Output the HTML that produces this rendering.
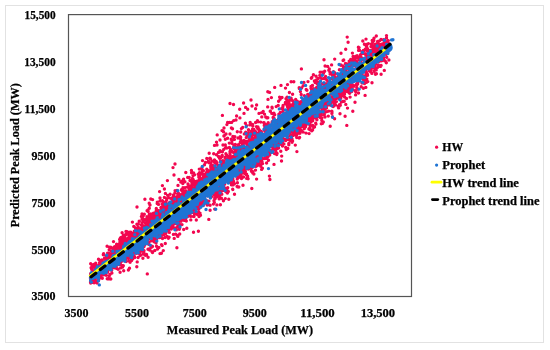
<!DOCTYPE html>
<html><head><meta charset="utf-8"><style>
html,body{margin:0;padding:0;background:#fff;}
svg{display:block;filter:blur(0.35px);}
</style></head><body>
<svg width="550" height="350" viewBox="0 0 550 350">
<rect x="5.5" y="5.5" width="538" height="337" fill="#fff" stroke="#e2e2e2" stroke-width="1"/><path d="M128.1 240.2h0M224.2 175.2h0M251.6 146.5h0M99.5 274.5h0M133.3 234.7h0M355.8 73.7h0M112.0 263.4h0M128.4 238.0h0M363.9 66.8h0M257.2 149.0h0M191.0 191.4h0M227.4 168.5h0M268.8 147.8h0M167.0 218.5h0M130.6 242.1h0M307.0 110.4h0M271.0 141.3h0M227.6 180.9h0M316.4 112.0h0M237.4 169.0h0M378.4 64.9h0M148.4 219.9h0M238.6 150.0h0M220.1 157.2h0M187.0 207.6h0M248.9 135.4h0M156.5 224.2h0M311.6 115.3h0M333.6 80.7h0M128.1 242.5h0M215.8 176.6h0M167.5 221.9h0M115.6 248.7h0M343.7 85.8h0M206.4 191.6h0M133.2 243.4h0M271.9 137.9h0M147.8 240.0h0M345.7 83.2h0M151.7 228.0h0M100.9 267.5h0M147.4 236.0h0M185.1 199.9h0M216.3 183.8h0M347.4 80.7h0M278.9 141.8h0M183.5 197.3h0M95.8 273.2h0M136.5 242.2h0M386.9 49.5h0M214.0 189.5h0M277.1 136.4h0M107.4 267.5h0M101.2 275.9h0M326.2 104.4h0M247.8 146.0h0M175.6 198.6h0M177.8 213.2h0M117.3 253.4h0M139.9 239.2h0M98.3 270.3h0M323.9 110.3h0M215.7 188.8h0M127.7 240.0h0M291.6 125.5h0M146.1 230.5h0M109.5 255.5h0M250.7 158.1h0M343.6 82.0h0M99.0 272.0h0M312.6 129.9h0M144.6 242.7h0M118.3 260.3h0M96.2 271.1h0M171.6 203.7h0M287.9 136.8h0M222.6 171.1h0M328.6 95.5h0M151.8 225.4h0M177.3 209.1h0M162.5 238.5h0M377.1 52.7h0M360.9 66.1h0M183.8 204.8h0M207.9 186.9h0M177.1 199.2h0M293.9 107.7h0M103.0 264.6h0M111.1 259.5h0M199.8 184.4h0M159.1 215.0h0M326.0 90.0h0M292.4 119.3h0M236.5 162.0h0M268.4 125.6h0M277.4 128.1h0M304.8 116.6h0M355.5 71.7h0M133.8 233.2h0M258.4 143.4h0M132.1 243.1h0M209.7 189.3h0M306.5 99.9h0M343.2 88.9h0M297.9 115.0h0M101.6 268.9h0M188.6 204.7h0M137.4 233.4h0M388.3 40.6h0M132.2 242.4h0M158.9 227.8h0M188.0 195.4h0M109.2 255.2h0M334.6 84.9h0M261.3 147.4h0M136.5 247.0h0M223.9 168.2h0M114.3 256.1h0M254.2 147.9h0M155.6 223.9h0M102.6 263.3h0M124.4 246.7h0M239.0 162.7h0M261.5 144.7h0M179.7 206.2h0M263.3 134.4h0M186.7 196.3h0M128.6 241.5h0M177.3 216.3h0M197.6 203.6h0M349.9 80.1h0M124.5 258.1h0M116.5 254.4h0M240.7 157.3h0M370.2 50.4h0M347.8 81.0h0M279.8 127.0h0M110.9 261.0h0M313.0 111.2h0M274.8 132.1h0M132.2 235.9h0M215.3 178.4h0M105.8 264.4h0M311.5 108.3h0M285.3 132.9h0M312.4 105.8h0M298.2 116.2h0M164.9 231.2h0M307.6 120.7h0M160.2 220.6h0M130.6 238.5h0M196.4 189.6h0M223.8 175.6h0M169.7 220.6h0M252.8 171.6h0M251.9 149.3h0M157.7 224.4h0M257.4 144.2h0M188.0 200.4h0M290.2 120.8h0M170.9 205.1h0M310.5 118.1h0M202.6 189.5h0M238.5 172.5h0M271.9 132.3h0M229.2 170.7h0M162.4 224.8h0M377.6 41.5h0M119.2 246.5h0M179.8 212.2h0M237.4 163.3h0M99.6 262.7h0M135.2 236.3h0M310.7 101.2h0M305.7 109.3h0M261.5 157.9h0M345.8 76.8h0M296.7 137.6h0M173.1 209.7h0M263.7 136.7h0M183.7 215.7h0M294.9 129.3h0M195.0 205.5h0M134.7 253.3h0M336.8 97.8h0M276.9 144.0h0M293.3 108.9h0M240.2 154.0h0M305.4 117.2h0M210.9 184.2h0M241.9 165.5h0M109.7 259.6h0M239.0 171.0h0M315.7 123.3h0M281.4 135.4h0M312.0 115.8h0M223.4 177.5h0M338.5 95.5h0M122.5 252.6h0M336.5 85.5h0M191.6 199.0h0M117.8 255.9h0M256.5 136.2h0M212.7 183.3h0M206.0 186.7h0M328.3 97.5h0M130.5 241.5h0M255.8 153.1h0M202.3 194.2h0M231.8 161.4h0M224.2 175.4h0M129.6 250.2h0M227.5 176.5h0M331.8 86.1h0M139.5 231.1h0M94.1 274.5h0M111.2 255.6h0M214.0 200.7h0M375.2 50.9h0M104.3 262.8h0M383.7 53.7h0M233.9 161.5h0M125.8 234.4h0M203.5 186.9h0M149.2 223.3h0M284.0 124.0h0M235.4 151.2h0M170.3 206.9h0M161.8 219.0h0M333.5 90.6h0M300.1 108.8h0M207.9 178.7h0M200.2 183.4h0M291.1 124.3h0M373.5 56.4h0M114.6 251.0h0M136.3 243.8h0M189.3 193.1h0M226.4 173.5h0M112.3 254.8h0M107.1 264.9h0M152.4 226.4h0M195.3 194.2h0M291.6 126.9h0M253.9 153.2h0M99.7 270.2h0M104.5 266.3h0M212.0 171.0h0M336.2 88.2h0M350.7 59.4h0M190.0 180.5h0M340.6 82.9h0M356.2 70.1h0M200.5 201.6h0M293.7 126.9h0M190.1 206.6h0M134.8 238.9h0M244.4 160.4h0M116.5 261.6h0M269.0 142.6h0M313.9 109.2h0M350.9 77.3h0M211.0 174.7h0M125.0 243.5h0M346.1 69.6h0M334.6 93.5h0M372.1 56.7h0M249.5 147.6h0M271.9 139.2h0M192.1 192.0h0M142.7 241.7h0M171.2 227.8h0M285.9 130.6h0M179.8 200.8h0M277.2 120.7h0M225.0 188.3h0M211.2 185.6h0M372.1 50.2h0M138.2 245.3h0M221.0 161.4h0M136.5 237.0h0M359.5 67.5h0M221.4 171.4h0M181.6 196.0h0M138.8 253.2h0M249.5 149.9h0M198.6 194.6h0M127.7 247.0h0M100.7 262.5h0M196.6 188.7h0M246.6 157.1h0M229.3 176.2h0M345.2 78.9h0M349.5 80.9h0M359.0 67.1h0M310.8 114.0h0M218.6 156.8h0M230.6 172.4h0M198.1 187.0h0M198.7 186.9h0M103.5 254.4h0M310.5 101.1h0M159.3 226.7h0M99.7 278.0h0M215.7 173.1h0M285.1 122.1h0M207.9 188.5h0M189.8 200.7h0M267.6 134.7h0M137.3 238.2h0M94.1 273.0h0M249.1 158.9h0M232.4 172.8h0M333.1 106.5h0M202.8 195.7h0M306.4 118.2h0M96.2 273.1h0M99.1 273.6h0M250.8 144.4h0M154.1 241.8h0M111.1 261.9h0M127.8 254.9h0M192.5 190.2h0M182.9 212.0h0M241.3 162.9h0M340.7 84.1h0M190.2 193.0h0M143.0 229.0h0M245.2 172.1h0M91.1 280.3h0M195.0 195.4h0M177.8 209.4h0M195.6 188.2h0M106.3 256.1h0M238.7 147.1h0M257.9 142.0h0M294.8 119.6h0M367.7 53.7h0M187.4 206.7h0M267.0 144.6h0M209.4 184.8h0M151.2 216.1h0M341.3 83.4h0M293.7 121.3h0M361.6 57.9h0M318.0 86.9h0M351.7 91.5h0M127.9 250.3h0M95.5 271.8h0M146.8 242.9h0M201.9 198.1h0M276.1 137.5h0M208.5 186.0h0M227.9 176.2h0M298.4 131.5h0M112.1 260.2h0M273.3 133.5h0M105.6 267.4h0M160.0 201.0h0M286.4 127.3h0M274.7 131.2h0M200.1 190.3h0M172.0 211.0h0M320.2 104.6h0M166.8 217.2h0M100.3 269.6h0M159.7 221.0h0M97.2 273.4h0M314.4 102.3h0M126.3 253.6h0M375.0 44.5h0M150.6 230.4h0M174.9 213.7h0M247.1 144.9h0M175.5 206.3h0M193.6 206.1h0M121.4 251.3h0M196.1 186.6h0M98.5 259.2h0M153.5 229.2h0M348.7 79.6h0M168.4 220.0h0M165.8 233.5h0M273.6 135.1h0M339.0 88.1h0M172.3 206.9h0M192.9 195.6h0M284.1 127.8h0M308.4 117.6h0M255.0 154.0h0M141.6 230.8h0M142.1 232.4h0M297.5 131.4h0M281.8 122.0h0M343.8 89.1h0M304.4 128.5h0M204.2 192.7h0M129.3 247.0h0M341.7 96.1h0M278.4 135.1h0M244.7 156.8h0M274.4 133.0h0M195.1 203.6h0M184.5 208.2h0M244.5 170.5h0M219.9 172.9h0M282.4 126.7h0M358.9 66.5h0M326.7 99.0h0M195.7 188.4h0M191.9 204.3h0M355.3 75.8h0M197.5 184.7h0M311.0 86.5h0M118.3 244.5h0M211.7 193.5h0M228.7 168.5h0M313.8 107.9h0M337.2 85.2h0M134.6 243.9h0M255.9 133.0h0M259.3 129.8h0M134.3 231.2h0M322.0 100.7h0M238.5 167.6h0M369.5 64.6h0M143.6 233.6h0M231.0 157.0h0M179.4 212.9h0M263.0 140.7h0M253.4 150.1h0M227.7 169.1h0M179.8 202.7h0M225.4 165.6h0M191.8 192.2h0M341.8 74.7h0M214.4 181.7h0M218.0 175.6h0M162.6 227.5h0M161.4 207.2h0M366.2 72.7h0M177.0 207.9h0M333.9 89.6h0M249.7 146.6h0M378.2 48.3h0M137.6 229.2h0M361.1 75.0h0M302.0 114.1h0M242.5 164.8h0M282.4 136.6h0M286.5 122.5h0M211.1 180.3h0M260.8 141.9h0M154.8 233.3h0M97.3 272.2h0M272.8 137.2h0M217.8 183.2h0M347.2 79.4h0M164.0 234.6h0M316.8 97.2h0M381.2 59.9h0M344.5 93.9h0M370.7 51.5h0M136.3 245.5h0M137.9 240.6h0M154.7 232.2h0M189.1 189.6h0M124.5 250.9h0M134.0 235.6h0M96.3 271.3h0M357.8 82.1h0M189.0 198.1h0M258.4 128.5h0M212.6 169.9h0M292.8 113.3h0M312.9 116.4h0M194.5 189.3h0M233.7 152.7h0M119.6 259.4h0M169.6 216.2h0M153.2 229.4h0M175.6 203.5h0M179.7 217.8h0M244.3 156.2h0M181.8 189.5h0M180.3 197.1h0M321.3 94.4h0M94.3 273.6h0M92.1 278.2h0M108.1 259.6h0M333.0 87.1h0M260.5 164.6h0M288.2 126.1h0M367.8 58.4h0M152.0 228.1h0M352.7 65.3h0M158.4 226.9h0M229.3 176.7h0M274.1 130.2h0M310.0 118.5h0M159.9 219.6h0M218.4 179.1h0M104.7 262.5h0M170.2 207.7h0M378.4 43.5h0M347.0 81.9h0M246.3 153.4h0M306.5 110.3h0M346.0 72.3h0M181.5 195.9h0M378.2 49.6h0M211.1 186.1h0M136.2 242.0h0M232.3 160.8h0M249.4 155.9h0M277.6 148.3h0M271.2 137.8h0M103.5 274.7h0M262.0 147.6h0M353.3 85.4h0M270.9 132.8h0M375.6 64.4h0M227.4 160.5h0M314.3 108.4h0M131.2 241.9h0M343.6 67.7h0M208.0 173.6h0M336.8 98.2h0M178.7 211.0h0M257.9 158.4h0M326.5 98.4h0M283.1 105.5h0M256.7 150.0h0M373.5 53.7h0M117.0 253.0h0M120.8 250.0h0M238.0 155.8h0M366.5 56.1h0M275.7 144.9h0M175.9 212.9h0M122.4 247.4h0M211.0 178.9h0M219.3 184.1h0M216.2 181.5h0M256.5 149.6h0M166.3 207.5h0M338.2 84.3h0M170.4 205.0h0M122.2 240.0h0M185.9 208.6h0M358.8 67.5h0M136.4 237.3h0M167.6 208.5h0M355.2 79.1h0M185.7 218.4h0M325.3 102.7h0M104.7 269.5h0M341.0 75.7h0M157.0 225.2h0M142.0 237.0h0M292.6 135.7h0M382.9 50.2h0M368.5 54.7h0M295.7 119.6h0M350.5 73.7h0M381.6 60.7h0M238.4 167.4h0M132.4 245.1h0M327.4 97.5h0M197.8 199.0h0M176.6 204.9h0M224.6 164.6h0M101.5 260.5h0M96.4 276.4h0M164.1 222.4h0M250.0 158.4h0M294.8 121.1h0M367.6 75.2h0M316.9 96.7h0M360.9 77.5h0M261.3 137.4h0M290.0 120.4h0M247.7 144.7h0M115.1 257.7h0M109.5 260.4h0M298.1 122.3h0M147.8 226.9h0M307.6 100.8h0M215.1 183.8h0M92.6 279.4h0M240.7 166.1h0M209.7 182.7h0M113.0 260.9h0M163.3 206.4h0M175.1 207.2h0M185.1 211.3h0M281.8 133.6h0M138.5 232.6h0M209.8 190.0h0M253.0 149.3h0M363.1 71.9h0M124.4 241.0h0M114.5 254.9h0M145.0 235.4h0M152.7 229.4h0M137.3 242.7h0M113.6 258.4h0M149.7 228.1h0M153.4 230.1h0M219.1 183.2h0M264.5 129.5h0M189.7 195.9h0M138.7 236.7h0M118.8 255.0h0M163.8 226.5h0M139.4 228.7h0M219.5 180.2h0M334.9 77.0h0M284.7 121.5h0M148.1 227.2h0M101.7 266.9h0M111.2 257.4h0M207.8 180.4h0M189.6 195.8h0M274.5 132.2h0M115.8 246.7h0M161.6 210.0h0M275.5 130.2h0M242.5 163.0h0M228.8 177.2h0M345.8 104.4h0M123.9 250.5h0M146.0 227.0h0M241.8 160.4h0M241.7 164.8h0M378.0 54.9h0M376.7 47.6h0M247.7 153.6h0M297.7 118.4h0M279.0 120.2h0M129.2 238.0h0M251.8 161.8h0M174.9 193.0h0M188.5 200.7h0M135.5 238.9h0M93.1 279.3h0M328.9 100.0h0M284.8 120.5h0M295.7 131.3h0M170.3 209.3h0M203.2 204.0h0M140.8 247.2h0M251.8 150.7h0M323.9 105.3h0M304.1 115.6h0M358.0 63.5h0M163.1 227.4h0M280.1 134.4h0M127.6 251.8h0M234.0 174.0h0M123.1 258.4h0M235.0 172.9h0M235.5 163.0h0M185.4 202.5h0M186.0 204.6h0M283.1 127.7h0M219.5 174.0h0M200.7 204.7h0M123.7 252.8h0M168.8 229.8h0M326.6 90.8h0M374.1 57.0h0M192.1 193.3h0M334.8 87.3h0M335.8 87.3h0M152.0 227.0h0M166.6 213.3h0M278.6 147.9h0M174.9 215.4h0M366.8 57.6h0M190.0 194.1h0M288.8 131.5h0M281.9 134.4h0M150.8 224.5h0M333.1 99.4h0M180.7 194.6h0M123.0 248.0h0M106.1 271.7h0M211.9 160.9h0M260.3 143.4h0M166.0 224.8h0M324.9 96.9h0M165.0 212.0h0M326.8 89.9h0M100.9 260.4h0M163.7 209.0h0M136.4 240.4h0M210.9 177.9h0M186.4 201.0h0M197.5 191.3h0M328.1 97.9h0M245.6 143.0h0M252.7 148.4h0M196.3 190.8h0M313.6 104.4h0M224.9 164.8h0M293.7 104.8h0M350.4 82.3h0M254.5 156.6h0M207.7 203.9h0M163.9 224.3h0M349.6 91.1h0M299.6 122.8h0M310.8 106.1h0M152.9 230.8h0M208.1 175.2h0M339.3 88.7h0M159.3 221.4h0M315.5 97.4h0M234.6 174.9h0M152.2 235.7h0M192.6 199.9h0M113.7 262.3h0M271.8 151.1h0M287.8 124.5h0M99.6 264.5h0M173.7 203.8h0M300.9 122.8h0M147.3 233.1h0M234.1 153.1h0M312.8 119.1h0M243.0 160.1h0M126.3 257.2h0M348.6 88.0h0M293.9 118.1h0M241.6 160.1h0M181.8 199.1h0M246.3 149.0h0M196.7 190.8h0M125.4 251.7h0M126.3 255.8h0M104.6 262.0h0M139.3 242.3h0M159.2 222.7h0M261.0 142.8h0M245.8 166.0h0M248.6 151.2h0M318.2 115.6h0M118.9 252.4h0M196.0 186.5h0M114.5 261.6h0M203.5 176.5h0M114.4 251.8h0M110.8 260.1h0M121.4 252.2h0M196.3 191.5h0M299.1 103.3h0M168.7 205.1h0M292.4 127.3h0M156.0 229.0h0M170.1 206.5h0M217.0 180.2h0M113.3 259.9h0M211.2 190.7h0M246.7 149.8h0M319.0 115.8h0M107.9 262.0h0M310.9 122.0h0M242.9 166.5h0M245.3 148.7h0M106.4 263.2h0M338.0 90.4h0M167.5 224.2h0M236.7 152.2h0M234.6 160.8h0M348.9 83.9h0M251.6 156.2h0M383.9 42.8h0M155.7 218.8h0M268.6 142.8h0M244.8 148.9h0M227.9 171.8h0M258.8 154.6h0M237.8 162.6h0M182.8 183.5h0M262.8 153.9h0M115.7 262.6h0M218.9 188.3h0M212.2 188.7h0M150.7 217.3h0M242.5 171.1h0M270.9 140.4h0M127.1 253.0h0M172.6 210.9h0M109.6 260.9h0M250.4 150.9h0M115.2 265.1h0M155.0 227.8h0M210.9 181.0h0M211.9 171.7h0M100.9 270.7h0M363.5 66.4h0M155.1 226.8h0M253.9 158.9h0M153.1 232.5h0M250.0 153.2h0M186.9 202.8h0M178.2 208.6h0M217.7 183.4h0M247.4 161.2h0M250.7 153.9h0M276.3 126.8h0M165.2 224.6h0M118.0 259.7h0M161.3 213.1h0M180.2 209.3h0M253.2 147.6h0M202.4 171.6h0M176.3 208.9h0M119.8 258.6h0M250.2 147.1h0M123.0 246.8h0M228.8 177.8h0M276.3 124.8h0M257.6 139.8h0M136.5 238.1h0M187.7 205.3h0M360.9 73.3h0M117.7 252.4h0M273.5 133.0h0M208.0 185.5h0M254.9 146.2h0M197.2 186.0h0M126.8 241.1h0M240.9 166.1h0M92.4 275.0h0M332.4 116.8h0M310.5 114.9h0M192.2 190.9h0M234.2 165.0h0M231.6 169.9h0M377.8 57.2h0M104.1 268.1h0M172.8 215.5h0M200.6 189.2h0M306.8 118.0h0M288.8 144.7h0M204.7 183.7h0M94.2 273.0h0M264.6 148.3h0M200.5 200.3h0M124.9 253.9h0M259.8 156.5h0M210.2 182.7h0M175.0 208.4h0M165.4 222.9h0M229.9 174.0h0M159.8 234.7h0M197.1 205.4h0M361.3 54.0h0M218.6 183.2h0M161.3 215.9h0M230.0 151.4h0M351.6 79.5h0M333.2 90.3h0M273.0 132.9h0M344.8 72.3h0M297.0 111.7h0M273.9 133.4h0M205.9 174.3h0M133.7 241.5h0M289.4 125.6h0M260.7 143.6h0M372.2 61.1h0M178.8 206.6h0M336.9 80.0h0M152.1 220.6h0M363.0 67.5h0M386.5 53.2h0M105.2 266.1h0M179.7 202.6h0M388.0 47.0h0M372.4 45.4h0M271.1 129.0h0M129.7 243.0h0M92.5 275.4h0M160.2 219.2h0M362.3 65.0h0M312.5 98.7h0M206.0 181.5h0M298.5 120.6h0M346.0 66.7h0M173.3 202.2h0M336.0 86.7h0M165.5 229.2h0M180.7 210.9h0M104.4 272.2h0M136.6 248.3h0M237.8 158.5h0M98.1 270.9h0M236.5 153.7h0M139.2 245.4h0M294.6 127.5h0M127.9 250.2h0M149.1 234.8h0M165.3 221.2h0M246.4 157.4h0M313.7 109.1h0M296.0 130.9h0M292.2 116.5h0M274.3 126.4h0M235.8 163.6h0M184.3 212.0h0M141.9 237.4h0M332.3 90.6h0M201.1 196.4h0M265.2 142.3h0M111.4 250.9h0M188.9 191.3h0M120.4 240.9h0M187.3 198.7h0M289.8 120.8h0M183.9 206.6h0M274.5 153.6h0M126.6 244.2h0M195.0 194.5h0M201.3 186.5h0M226.8 148.0h0M154.7 220.4h0M279.3 125.6h0M338.8 89.4h0M315.1 99.3h0M100.2 264.2h0M221.3 179.5h0M184.7 202.0h0M243.8 150.5h0M115.6 252.8h0M288.7 122.7h0M203.0 194.9h0M362.1 78.3h0M96.5 267.6h0M203.3 197.5h0M220.9 175.3h0M321.2 104.1h0M297.0 128.1h0M142.4 228.9h0M175.4 216.6h0M290.6 113.6h0M203.8 184.1h0M163.8 212.5h0M356.8 85.1h0M325.3 112.1h0M187.5 206.4h0M237.5 166.8h0M356.2 68.2h0M151.6 240.7h0M348.5 90.3h0M339.6 94.1h0M287.7 124.8h0M275.6 131.2h0M275.3 133.5h0M236.1 174.9h0M246.3 148.2h0M146.5 233.1h0M241.0 174.0h0M271.8 144.5h0M220.6 189.7h0M273.6 139.1h0M213.6 184.1h0M312.1 120.5h0M286.0 132.9h0M117.3 257.4h0M301.0 112.9h0M169.4 203.4h0M115.1 264.6h0M126.1 245.9h0M179.5 201.1h0M230.9 175.0h0M181.1 198.7h0M148.1 221.8h0M301.0 112.6h0M192.2 196.5h0M335.9 92.0h0M158.9 226.7h0M276.7 142.1h0M188.1 199.3h0M327.5 99.5h0M264.1 141.6h0M273.4 130.6h0M118.3 257.0h0M295.4 124.0h0M187.3 215.5h0M291.9 128.5h0M326.0 92.3h0M126.4 251.6h0M95.3 272.6h0M297.5 133.5h0M372.5 46.5h0M345.3 76.9h0M207.8 179.9h0M322.1 101.6h0M97.9 270.9h0M108.5 255.4h0M246.1 141.5h0M231.6 168.7h0M319.1 115.9h0M156.0 235.8h0M214.7 176.7h0M382.9 53.4h0M174.1 204.6h0M199.9 179.6h0M253.2 161.6h0M386.1 52.0h0M142.6 233.3h0M277.1 130.3h0M202.4 196.5h0M199.0 194.3h0M162.2 217.9h0M215.4 181.7h0M244.3 157.6h0M196.9 190.2h0M225.9 165.9h0M261.2 153.0h0M328.2 92.3h0M240.6 151.2h0M194.4 209.6h0M369.4 70.8h0M139.9 241.0h0M104.7 265.8h0M348.3 81.1h0M164.5 207.9h0M134.3 241.9h0M195.1 197.0h0M184.4 201.6h0M187.4 204.3h0M328.0 90.3h0M170.9 215.0h0M129.2 236.4h0M151.4 228.6h0M364.5 60.9h0M206.1 175.9h0M188.9 196.5h0M303.6 115.1h0M358.7 65.9h0M227.1 178.3h0M315.7 100.2h0M164.2 226.0h0M186.3 207.3h0M244.7 152.4h0M156.8 234.9h0M167.0 206.5h0M143.9 238.0h0M163.6 219.7h0M324.0 105.6h0M309.2 98.8h0M124.1 243.0h0M185.9 195.4h0M286.4 126.9h0M331.0 94.2h0M240.4 160.6h0M287.7 123.8h0M157.1 219.1h0M305.0 103.5h0M317.8 100.4h0M200.6 194.4h0M156.7 231.8h0M100.9 266.9h0M259.4 155.3h0M260.2 134.6h0M90.7 279.3h0M229.7 159.8h0M359.9 71.1h0M99.6 266.2h0M130.4 238.8h0M108.3 260.4h0M208.0 195.9h0M195.0 189.4h0M334.6 95.7h0M110.8 261.6h0M147.3 233.6h0M359.7 71.8h0M96.5 274.5h0M162.8 210.9h0M197.4 193.0h0M90.5 278.2h0M170.1 209.6h0M252.0 154.5h0M255.4 140.9h0M253.6 156.5h0M265.4 135.7h0M255.2 146.8h0M101.4 271.4h0M266.5 149.9h0M246.7 151.0h0M151.9 223.6h0M203.7 195.7h0M157.2 203.6h0M333.8 102.3h0M167.9 225.7h0M137.3 232.6h0M309.8 120.2h0M298.5 121.6h0M328.4 99.3h0M273.1 117.5h0M203.0 184.5h0M218.0 175.6h0M239.0 158.1h0M250.1 149.8h0M362.6 64.7h0M164.4 197.4h0M300.8 115.3h0M95.8 270.5h0M144.6 233.1h0M362.3 63.4h0M160.7 221.2h0M227.3 172.4h0M351.3 90.5h0M266.5 133.9h0M221.4 188.4h0M280.3 128.8h0M377.1 48.8h0M361.0 57.2h0M142.2 241.1h0M131.2 234.8h0M170.3 220.9h0M132.5 245.1h0M299.4 113.5h0M322.1 95.2h0M131.3 246.8h0M112.8 260.0h0M179.5 212.4h0M275.9 133.7h0M301.3 112.5h0M214.2 184.2h0M262.0 134.3h0M351.7 82.8h0M338.1 88.1h0M125.1 242.4h0M283.7 120.4h0M303.4 112.3h0M347.9 65.5h0M203.4 199.0h0M135.5 246.7h0M217.6 168.8h0M191.3 196.5h0M197.2 206.0h0M311.8 111.7h0M265.7 132.9h0M273.9 118.1h0M265.9 127.8h0M131.6 250.8h0M108.5 264.1h0M197.6 182.2h0M327.5 102.0h0M264.8 138.7h0M308.1 106.1h0M257.4 143.1h0M305.8 109.3h0M386.7 57.2h0M283.7 120.9h0M331.6 89.7h0M374.5 66.5h0M292.0 136.1h0M315.2 98.2h0M114.3 267.7h0M101.9 272.1h0M354.0 62.5h0M157.2 237.2h0M174.7 199.1h0M129.9 249.1h0M260.8 135.5h0M99.9 262.6h0M310.6 116.6h0M173.0 215.0h0M293.1 121.4h0M349.1 79.9h0M276.9 132.2h0M205.0 184.8h0M258.1 138.3h0M329.4 99.4h0M283.1 129.0h0M161.0 219.1h0M92.9 273.4h0M337.9 85.7h0M257.6 135.0h0M110.0 260.1h0M237.9 154.3h0M248.2 165.4h0M171.7 205.5h0M340.1 82.7h0M157.7 223.6h0M132.2 248.1h0M175.8 213.1h0M183.2 203.7h0M339.5 104.6h0M267.2 139.7h0M126.3 249.9h0M197.2 214.4h0M121.0 247.3h0M281.4 138.5h0M329.3 98.3h0M118.5 247.2h0M224.4 167.3h0M159.0 228.8h0M169.5 203.4h0M294.0 120.0h0M376.5 61.9h0M167.9 213.8h0M235.6 166.0h0M176.0 204.1h0M109.6 258.9h0M251.8 146.6h0M135.3 238.6h0M276.1 139.2h0M294.1 122.0h0M131.8 255.4h0M250.1 157.6h0M149.4 231.8h0M299.1 138.0h0M169.7 213.3h0M276.6 126.7h0M264.6 143.1h0M244.4 148.5h0M151.9 231.7h0M322.3 112.0h0M187.4 205.4h0M301.4 113.1h0M217.9 176.0h0M211.0 186.2h0M283.4 139.1h0M183.8 200.0h0M299.2 114.7h0M210.2 191.7h0M292.0 124.7h0M279.0 134.6h0M362.7 70.5h0M201.0 183.7h0M185.9 200.4h0M385.9 54.3h0M228.7 167.7h0M203.5 186.4h0M279.9 133.6h0M160.4 224.3h0M367.8 81.6h0M296.2 113.8h0M264.9 142.8h0M171.3 229.0h0M314.0 106.8h0M352.3 78.7h0M308.1 100.2h0M349.7 85.7h0M118.1 259.3h0M292.2 129.9h0M333.2 90.1h0M218.2 180.0h0M114.8 257.3h0M235.6 171.1h0M158.4 222.8h0M100.8 271.9h0M358.8 59.7h0M321.6 98.1h0M260.7 122.1h0M294.5 119.9h0M271.3 143.7h0M214.8 177.5h0M126.1 261.5h0M170.5 206.1h0M226.0 168.4h0M246.3 148.4h0M173.8 207.2h0M127.7 244.1h0M184.2 191.5h0M143.4 228.0h0M356.8 87.8h0M152.8 225.5h0M197.3 199.9h0M235.4 153.8h0M161.0 220.1h0M223.1 177.7h0M238.3 160.4h0M105.8 262.7h0M363.5 64.6h0M234.4 165.0h0M132.8 247.9h0M379.1 61.4h0M138.7 229.6h0M288.0 109.3h0M219.8 174.1h0M162.4 219.9h0M193.7 201.2h0M219.5 184.8h0M191.5 192.0h0M159.6 237.6h0M202.9 190.5h0M207.8 170.6h0M276.1 142.1h0M146.6 234.0h0M104.7 267.0h0M322.1 88.3h0M111.7 258.7h0M259.9 146.8h0M237.3 161.3h0M375.5 61.0h0M144.5 242.1h0M340.7 98.3h0M128.5 253.5h0M139.6 236.6h0M266.2 155.9h0M138.1 240.4h0M247.5 162.3h0M272.4 134.1h0M127.2 238.8h0M307.7 94.4h0M204.6 188.6h0M371.8 54.2h0M94.1 274.3h0M114.3 262.2h0M256.7 135.6h0M162.3 207.0h0M199.5 193.1h0M348.5 81.9h0M184.6 200.5h0M106.4 262.0h0M132.0 233.5h0M239.1 160.5h0M302.8 109.6h0M297.4 122.9h0M217.0 185.6h0M157.7 219.5h0M128.0 249.0h0M153.4 228.2h0M147.3 236.4h0M347.9 91.9h0M200.8 195.3h0M124.8 253.3h0M261.8 151.0h0M213.3 177.2h0M99.7 269.8h0M377.8 56.7h0M363.1 75.9h0M163.7 229.0h0M321.8 120.5h0M212.8 172.3h0M272.0 136.0h0M266.1 126.9h0M289.4 120.3h0M209.0 170.7h0M132.9 249.8h0M312.3 114.5h0M209.0 175.3h0M209.4 186.2h0M297.9 125.4h0M275.4 149.5h0M382.6 55.8h0M195.8 194.9h0M260.9 143.9h0M115.8 259.8h0M123.7 251.9h0M161.6 216.9h0M168.2 206.2h0M210.5 191.3h0M154.8 220.6h0M359.0 67.8h0M205.9 192.6h0M194.4 194.5h0M345.9 90.4h0M309.5 101.5h0M301.3 123.1h0M350.4 66.8h0M290.8 111.9h0M174.8 202.3h0M369.4 62.1h0M99.1 267.7h0M344.1 72.1h0M203.7 197.4h0M183.0 196.4h0M217.8 176.3h0M198.8 193.6h0M331.2 89.5h0M312.9 110.5h0M293.9 127.0h0M155.8 224.2h0M208.9 192.3h0M113.3 255.8h0M292.6 114.1h0M103.7 267.4h0M197.8 184.6h0M134.1 244.1h0M328.3 94.5h0M352.1 72.1h0M170.7 218.0h0M335.4 94.4h0M141.4 216.4h0M283.1 126.2h0M160.6 222.3h0M210.3 186.8h0M254.2 145.3h0M186.5 192.2h0M146.6 232.9h0M247.8 160.4h0M309.0 95.0h0M386.5 37.9h0M179.1 202.3h0M162.4 200.8h0M113.7 255.4h0M148.5 236.4h0M98.7 266.5h0M160.3 222.5h0M287.6 118.7h0M124.3 252.1h0M264.1 147.9h0M172.1 222.7h0M154.8 226.2h0M220.1 184.2h0M208.0 187.8h0M210.6 178.8h0M125.1 257.3h0M241.5 154.5h0M345.9 82.5h0M93.4 282.5h0M115.0 261.6h0M247.3 148.3h0M178.1 209.9h0M160.9 216.9h0M382.0 49.9h0M175.5 198.2h0M353.0 76.8h0M255.8 136.0h0M100.0 270.9h0M164.5 221.1h0M113.5 262.6h0M234.4 183.7h0M348.2 66.1h0M106.8 258.6h0M99.3 266.1h0M99.7 267.5h0M166.4 223.7h0M138.2 236.4h0M372.4 54.4h0M302.9 106.6h0M360.2 63.9h0M245.7 152.6h0M317.9 102.6h0M282.4 117.8h0M171.3 212.3h0M265.9 145.8h0M170.6 216.2h0M215.1 169.2h0M318.4 110.3h0M152.7 233.1h0M140.5 238.7h0M328.2 86.2h0M214.9 167.6h0M140.2 237.3h0M178.0 199.8h0M168.3 205.1h0M343.8 90.3h0M217.3 185.1h0M352.7 80.4h0M216.7 188.8h0M360.3 75.8h0M351.3 67.3h0M242.3 168.6h0M306.5 113.3h0M170.0 217.4h0M124.5 258.3h0M252.3 155.0h0M107.6 270.1h0M216.0 179.0h0M256.7 144.7h0M300.5 111.6h0M344.0 81.7h0M148.3 219.1h0M332.9 91.2h0M223.4 172.0h0M257.5 142.9h0M214.5 161.8h0M326.9 80.3h0M173.4 216.9h0M93.0 271.9h0M320.6 113.5h0M268.5 133.0h0M284.7 130.9h0M126.9 238.7h0M148.8 225.9h0M258.2 144.8h0M294.1 126.5h0M268.4 154.0h0M250.1 161.3h0M266.5 128.7h0M133.3 242.5h0M211.6 180.4h0M180.9 200.5h0M290.7 128.9h0M229.0 182.2h0M285.8 123.3h0M278.2 142.1h0M347.1 91.5h0M329.7 86.2h0M106.5 271.7h0M270.3 152.6h0M192.1 199.1h0M120.5 261.9h0M218.8 178.5h0M325.3 107.8h0M309.8 115.6h0M121.9 246.7h0M147.8 233.0h0M278.2 130.7h0M372.4 55.1h0M113.9 252.3h0M117.2 251.3h0M278.4 122.0h0M255.6 158.7h0M314.6 91.3h0M146.8 232.5h0M222.9 168.4h0M311.2 99.2h0M194.4 200.7h0M198.7 185.2h0M100.8 273.4h0M310.2 108.0h0M210.6 185.3h0M193.3 194.8h0M266.7 146.0h0M328.6 103.2h0M333.2 88.1h0M184.3 202.7h0M253.4 165.8h0M195.7 189.4h0M323.8 114.8h0M308.8 107.5h0M268.5 134.3h0M318.7 90.1h0M227.0 163.5h0M243.3 144.0h0M137.2 235.6h0M282.1 135.7h0M170.3 213.2h0M240.8 155.0h0M91.0 273.5h0M198.2 186.5h0M255.5 137.0h0M259.7 135.3h0M241.3 176.4h0M160.9 222.8h0M266.4 133.0h0M268.4 144.9h0M248.4 167.2h0M193.0 190.9h0M134.4 240.9h0M239.4 150.9h0M106.6 256.9h0M351.2 87.7h0M186.8 228.2h0M169.0 209.1h0M211.6 168.8h0M121.3 259.8h0M339.5 95.5h0M377.7 57.7h0M318.6 116.1h0M244.0 154.7h0M360.8 70.5h0M181.2 211.5h0M215.3 176.5h0M139.6 240.6h0M205.0 184.9h0M355.6 76.4h0M269.0 139.8h0M236.5 147.3h0M233.9 165.8h0M260.9 133.1h0M253.9 143.1h0M212.1 168.1h0M227.2 176.9h0M120.6 250.8h0M209.8 180.1h0M272.3 147.3h0M153.4 232.0h0M167.4 214.3h0M312.5 91.9h0M130.0 248.9h0M146.0 230.7h0M317.0 101.3h0M126.0 252.5h0M173.5 206.3h0M349.0 77.8h0M202.1 196.1h0M316.7 109.4h0M299.5 112.9h0M96.8 277.0h0M152.4 235.8h0M349.6 93.3h0M178.8 206.6h0M199.8 192.4h0M358.4 78.6h0M122.9 253.3h0M373.9 58.4h0M264.2 141.2h0M259.1 143.5h0M90.6 275.0h0M259.7 140.3h0M318.2 106.8h0M197.3 190.2h0M112.8 252.0h0M129.0 246.2h0M114.0 266.1h0M202.6 199.6h0M316.5 89.4h0M108.6 258.6h0M200.3 196.6h0M199.0 192.0h0M198.3 192.4h0M231.4 165.9h0M233.7 165.7h0M148.3 223.7h0M309.1 120.9h0M228.9 160.5h0M186.7 199.8h0M370.6 71.7h0M281.5 139.6h0M137.3 239.3h0M372.8 58.4h0M245.2 151.7h0M183.7 199.4h0M157.1 222.3h0M111.3 266.6h0M158.8 219.5h0M170.5 218.1h0M184.7 206.0h0M382.0 53.5h0M249.1 151.4h0M145.1 238.3h0M191.4 198.6h0M207.0 186.2h0M115.6 254.5h0M216.2 161.4h0M226.6 176.8h0M348.7 85.0h0M207.2 181.3h0M276.4 132.0h0M273.7 137.8h0M140.5 230.5h0M242.2 165.1h0M211.2 188.1h0M137.2 244.9h0M98.1 274.4h0M386.5 35.6h0M117.7 258.0h0M340.4 82.7h0M190.4 207.1h0M115.2 262.5h0M370.8 66.3h0M268.1 138.6h0M200.0 213.1h0M323.5 98.8h0M282.0 121.4h0M202.7 196.5h0M285.1 116.2h0M291.2 140.7h0M139.8 244.1h0M284.6 139.9h0M351.3 85.1h0M276.1 137.5h0M310.7 99.4h0M383.1 46.3h0M309.7 115.1h0M216.5 176.8h0M240.9 163.3h0M300.3 112.3h0M260.2 139.2h0M112.1 261.3h0M109.0 265.7h0M166.3 217.2h0M316.9 97.2h0M152.9 215.7h0M178.3 223.9h0M318.5 94.7h0M128.2 241.4h0M168.2 210.2h0M162.1 227.2h0M105.2 262.1h0M292.7 127.5h0M178.7 209.8h0M200.7 181.2h0M181.9 206.2h0M110.7 255.1h0M325.9 96.2h0M129.7 249.8h0M169.6 212.6h0M286.0 119.8h0M185.8 198.6h0M226.2 169.6h0M181.1 208.1h0M240.3 142.2h0M177.8 193.9h0M213.1 184.8h0M93.3 274.6h0M95.3 273.4h0M226.2 172.7h0M316.5 103.3h0M388.2 43.1h0M312.0 109.0h0M230.8 173.0h0M263.5 145.6h0M271.3 136.9h0M288.7 116.8h0M384.2 50.5h0M184.6 193.6h0M210.5 177.3h0M304.1 115.4h0M151.5 229.1h0M119.2 259.5h0M344.8 89.2h0M95.5 274.7h0M343.0 81.1h0M350.7 76.9h0M138.0 237.1h0M296.6 135.0h0M170.5 217.1h0M165.9 212.2h0M379.8 47.0h0M340.5 96.0h0M299.5 111.1h0M207.9 187.5h0M380.9 52.9h0M243.1 167.2h0M377.9 48.2h0M286.2 130.8h0M105.1 266.3h0M310.3 116.3h0M323.5 110.9h0M338.4 88.3h0M257.3 145.6h0M102.3 271.0h0M333.6 80.7h0M204.3 188.8h0M146.3 225.7h0M149.5 221.5h0M147.6 220.5h0M316.1 92.6h0M112.6 263.2h0M352.0 82.9h0M95.8 273.3h0M286.6 135.6h0M155.3 225.6h0M228.3 165.4h0M141.2 229.2h0M345.1 88.2h0M135.4 245.8h0M215.8 189.1h0M253.5 143.9h0M212.3 179.2h0M151.5 218.9h0M170.8 222.4h0M358.3 76.1h0M127.1 250.3h0M96.1 272.7h0M348.4 78.0h0M340.2 83.4h0M275.3 143.8h0M217.1 172.8h0M365.4 71.3h0M202.1 191.4h0M94.6 270.5h0M207.7 173.5h0M232.1 160.4h0M237.2 162.4h0M340.9 75.8h0M111.2 263.4h0M329.0 104.7h0M230.3 172.5h0M289.5 111.5h0M202.3 170.4h0M172.4 219.1h0M182.5 216.1h0M166.8 213.6h0M212.4 185.6h0M250.6 150.4h0M321.2 96.2h0M140.4 243.4h0M211.5 177.7h0M232.8 173.2h0M316.9 119.7h0M282.8 128.2h0M257.6 163.8h0M272.2 125.9h0M211.0 189.9h0M313.1 107.4h0M323.3 121.9h0M242.0 159.5h0M124.9 244.5h0M205.4 199.7h0M164.2 207.2h0M145.0 236.4h0M172.5 206.3h0M317.3 116.4h0M185.6 201.1h0M206.3 192.9h0M194.5 194.7h0M143.1 227.5h0M243.4 140.9h0M203.0 202.7h0M359.1 71.7h0M256.3 139.1h0M376.9 52.9h0M330.7 102.1h0M222.0 162.3h0M95.7 280.5h0M150.6 227.3h0M125.5 246.6h0M291.1 135.0h0M130.5 245.9h0M263.8 134.5h0M179.2 214.2h0M219.3 179.9h0M297.1 129.5h0M172.9 204.7h0M139.7 230.1h0M170.3 218.8h0M362.0 64.1h0M238.4 144.6h0M170.0 209.5h0M132.7 246.8h0M111.4 256.8h0M182.1 214.7h0M255.0 145.1h0M213.2 179.9h0M314.9 93.6h0M385.8 42.7h0M243.1 156.7h0M184.9 207.0h0M309.2 111.8h0M117.2 260.9h0M298.0 102.2h0M338.6 87.5h0M303.2 113.7h0M119.9 247.4h0M246.0 155.6h0M311.6 102.7h0M201.7 192.7h0M325.6 94.8h0M138.1 241.9h0M232.0 159.2h0M239.8 171.6h0M307.1 115.3h0M201.8 203.5h0M162.5 218.7h0M283.4 124.6h0M124.2 250.6h0M190.7 194.1h0M216.1 170.1h0M307.0 112.0h0M205.0 186.2h0M240.9 154.6h0M273.3 132.3h0M272.5 128.1h0M370.3 61.5h0M214.8 168.6h0M243.5 172.6h0M96.6 272.4h0M145.0 239.7h0M160.1 212.8h0M150.2 231.7h0M229.4 167.4h0M147.0 238.5h0M243.0 165.8h0M319.5 89.9h0M112.6 264.7h0M158.5 211.9h0M223.5 184.1h0M104.9 265.4h0M132.0 235.8h0M244.3 163.3h0M198.7 191.9h0M346.5 72.8h0M243.1 152.2h0M297.2 123.5h0M185.1 191.4h0M193.0 189.2h0M328.8 111.1h0M255.4 142.6h0M350.5 80.1h0M161.0 224.3h0M124.3 255.1h0M273.0 143.5h0M127.1 231.8h0M113.6 256.1h0M196.4 202.9h0M275.7 127.4h0M188.8 213.9h0M295.9 122.3h0M212.8 171.1h0M169.5 218.9h0M233.4 182.2h0M252.4 145.6h0M133.8 245.5h0M248.9 146.6h0M138.8 234.3h0M372.3 59.6h0M232.7 170.4h0M148.7 233.0h0M103.8 267.4h0M151.1 245.9h0M178.1 199.3h0M243.9 142.5h0M269.0 143.5h0M283.2 130.4h0M209.2 172.1h0M259.5 161.1h0M238.6 155.9h0M172.5 201.2h0M152.2 230.8h0M198.6 196.8h0M276.7 154.5h0M129.7 235.6h0M261.2 134.1h0M97.1 270.9h0M142.9 232.0h0M270.9 136.5h0M313.6 101.4h0M300.4 105.2h0M274.9 130.8h0M161.5 226.1h0M382.0 56.1h0M251.4 146.5h0M348.9 83.0h0M359.1 73.1h0M157.4 220.1h0M373.1 55.6h0M115.1 257.6h0M261.6 169.4h0M162.1 221.4h0M118.7 249.4h0M242.8 157.1h0M150.5 225.1h0M306.5 122.6h0M214.4 162.3h0M165.5 209.2h0M94.2 276.9h0M277.4 136.5h0M261.3 144.6h0M312.6 114.1h0M194.6 184.2h0M350.7 80.0h0M98.0 266.8h0M352.2 65.5h0M299.6 122.2h0M120.9 247.9h0M381.6 48.8h0M117.5 258.6h0M295.3 112.5h0M158.9 227.3h0M277.1 153.4h0M323.2 97.8h0M125.2 254.5h0M179.7 212.7h0M343.4 73.5h0M218.5 165.7h0M134.7 241.5h0M116.6 244.3h0M126.5 248.2h0M121.9 253.2h0M187.9 203.9h0M303.4 118.9h0M212.2 192.6h0M119.8 251.6h0M186.8 211.9h0M220.1 180.0h0M211.0 186.8h0M262.7 142.1h0M274.0 143.8h0M294.3 115.5h0M233.8 171.6h0M99.9 273.8h0M301.1 111.5h0M305.5 106.0h0M288.6 119.2h0M208.3 184.2h0M340.5 89.1h0M119.3 258.6h0M291.9 140.2h0M250.2 167.4h0M279.8 133.7h0M111.1 258.8h0M372.3 49.9h0M100.0 272.7h0M141.1 240.0h0M228.8 166.8h0M243.8 156.4h0M141.3 235.5h0M170.1 194.2h0M350.8 76.7h0M178.9 209.8h0M210.2 182.0h0M123.4 244.1h0M242.7 159.0h0M280.0 135.4h0M292.1 139.2h0M155.8 233.0h0M191.1 202.5h0M266.4 140.1h0M374.5 47.4h0M301.2 113.0h0M152.3 218.0h0M110.6 260.7h0M180.6 214.5h0M232.1 175.7h0M166.1 224.4h0M307.6 111.8h0M162.1 228.0h0M126.8 246.1h0M251.8 135.8h0M298.1 120.0h0M148.5 231.0h0M182.0 191.1h0M162.9 215.6h0M99.6 260.1h0M274.6 130.8h0M106.3 269.7h0M254.5 144.4h0M258.7 158.3h0M232.3 168.4h0M103.8 263.4h0M102.2 260.3h0M228.3 175.9h0M221.9 179.9h0M95.4 267.9h0M93.9 273.1h0M302.3 125.8h0M179.7 200.7h0M284.8 131.4h0M146.8 218.4h0M164.5 211.4h0M344.5 88.6h0M146.6 224.0h0M200.9 178.4h0M224.0 161.4h0M283.3 125.7h0M178.7 195.0h0M265.0 140.7h0M153.1 231.3h0M274.2 148.9h0M97.2 270.4h0M143.7 245.4h0M109.3 264.7h0M120.8 251.4h0M294.4 126.0h0M215.1 192.1h0M305.5 126.8h0M375.5 61.8h0M143.5 234.0h0M300.9 124.4h0M374.0 59.1h0M175.8 210.9h0M113.9 259.7h0M214.5 195.0h0M235.6 154.2h0M276.2 133.0h0M243.2 149.3h0M173.8 218.1h0M137.2 246.7h0M183.6 214.5h0M216.3 175.6h0M143.4 235.1h0M173.0 218.0h0M339.4 88.4h0M204.7 189.6h0M127.2 248.6h0M269.6 140.6h0M187.4 199.6h0M228.4 173.2h0M197.0 181.3h0M124.3 247.3h0M291.0 113.2h0M242.7 157.9h0M382.6 45.7h0M91.9 277.8h0M245.0 168.1h0M205.3 176.8h0M207.6 178.8h0M286.5 129.7h0M158.4 234.2h0M198.8 198.0h0M129.3 248.4h0M242.1 158.6h0M208.2 181.0h0M103.8 268.2h0M155.2 229.3h0M197.6 193.9h0M232.8 161.4h0M118.3 245.7h0M256.5 141.2h0M316.7 101.6h0M181.8 195.9h0M110.9 262.4h0M132.9 233.7h0M299.0 115.8h0M232.9 169.1h0M130.1 250.0h0M138.7 240.0h0M321.9 111.4h0M273.7 130.6h0M278.4 125.9h0M131.3 250.8h0M383.4 44.1h0M161.4 219.6h0M187.2 187.1h0M156.2 233.3h0M361.6 73.5h0M259.9 139.4h0M238.5 147.7h0M202.4 191.0h0M284.9 130.3h0M216.2 188.3h0M214.5 195.3h0M134.3 243.2h0M318.7 101.3h0M110.8 259.8h0M347.9 77.2h0M351.3 65.7h0M230.5 160.5h0M137.4 238.8h0M151.9 216.3h0M131.1 235.9h0M280.0 142.1h0M189.4 193.6h0M379.1 58.9h0M184.0 212.1h0M181.0 205.6h0M272.9 143.4h0M337.4 87.0h0M231.4 160.1h0M126.3 247.5h0M139.4 238.3h0M284.2 129.3h0M299.9 118.2h0M383.1 47.5h0M243.9 167.1h0M305.1 112.0h0M272.3 132.9h0M237.6 170.6h0M313.6 99.4h0M148.2 231.0h0M134.7 250.7h0M175.9 210.1h0M195.0 206.1h0M364.4 63.5h0M319.2 98.8h0M293.2 120.9h0M342.1 80.3h0M194.6 192.2h0M380.3 49.5h0M348.0 86.2h0M143.3 237.6h0M193.2 194.5h0M175.4 204.2h0M145.4 255.2h0M359.4 68.3h0M196.5 204.9h0M334.2 82.1h0M250.2 147.1h0M108.9 267.9h0M207.3 176.6h0M304.5 106.1h0M178.2 207.4h0M171.5 207.5h0M118.5 253.1h0M217.6 178.9h0M361.5 74.9h0M96.4 273.2h0M340.4 88.6h0M251.1 164.1h0M168.3 226.9h0M344.6 79.8h0M355.6 58.4h0M374.6 49.9h0M214.7 188.7h0M202.4 185.2h0M269.3 132.8h0M341.1 82.1h0M186.2 214.4h0M181.6 205.7h0M201.0 187.1h0M97.1 269.4h0M324.2 90.5h0M213.4 204.1h0M215.8 178.7h0M260.3 146.8h0M313.8 104.5h0M281.3 140.0h0M182.0 197.1h0M172.0 198.0h0M181.9 200.5h0M232.9 169.1h0M314.5 126.9h0M93.0 275.1h0M252.6 144.3h0M325.5 96.1h0M240.7 154.0h0M194.1 189.3h0M217.7 178.4h0M228.2 172.2h0M258.7 141.3h0M113.3 264.2h0M308.5 110.5h0M238.1 163.3h0M167.4 212.3h0M351.0 80.2h0M198.4 195.5h0M302.8 121.5h0M172.7 205.9h0M237.1 168.5h0M144.5 230.1h0M166.5 217.8h0M180.9 211.8h0M132.1 252.8h0M298.3 115.4h0M211.6 173.3h0M185.4 203.4h0M247.1 166.3h0M155.1 223.5h0M208.4 204.6h0M242.4 143.9h0M255.6 162.5h0M204.5 197.1h0M292.8 132.7h0M333.4 85.5h0M370.2 71.2h0M240.4 170.9h0M371.0 69.7h0M359.8 67.8h0M266.7 138.7h0M129.7 253.3h0M262.6 146.9h0M232.6 163.6h0M280.5 124.3h0M165.8 219.7h0M384.9 40.2h0M185.2 207.1h0M388.8 46.6h0M167.3 204.7h0M218.6 180.9h0M274.3 146.2h0M162.9 221.8h0M200.5 180.0h0M268.5 134.3h0M295.8 128.2h0M351.4 66.4h0M238.1 159.3h0M370.0 69.8h0M168.7 213.2h0M253.7 145.8h0M297.3 126.9h0M115.6 265.1h0M306.7 116.2h0M317.2 94.3h0M241.0 147.1h0M354.1 72.5h0M279.6 117.0h0M190.5 197.7h0M313.1 115.8h0M229.4 147.5h0M274.8 133.4h0M382.2 53.2h0M278.6 127.8h0M303.6 118.5h0M316.2 109.7h0M147.3 239.2h0M102.3 278.3h0M113.5 260.4h0M215.2 172.2h0M371.3 52.3h0M210.5 173.1h0M354.1 80.2h0M171.6 215.8h0M131.7 246.8h0M200.4 192.2h0M325.7 111.9h0M372.0 67.6h0M234.5 173.8h0M193.8 190.3h0M306.9 109.9h0M205.2 176.5h0M173.9 206.2h0M296.9 120.6h0M115.6 250.6h0M303.4 110.2h0M366.3 79.6h0M121.1 251.6h0M305.1 102.4h0M97.9 266.6h0M127.1 247.2h0M171.5 219.9h0M388.6 45.2h0M106.9 267.9h0M213.1 183.7h0M209.5 174.8h0M141.1 243.5h0M376.9 52.2h0M156.8 238.7h0M345.7 77.0h0M235.8 162.9h0M283.6 124.4h0M292.9 120.4h0M272.3 140.7h0M313.9 105.4h0M338.5 97.9h0M131.6 246.7h0M117.3 263.8h0M212.4 182.3h0M122.4 258.7h0M248.7 165.0h0M361.2 67.3h0M228.3 191.5h0M138.7 248.4h0M124.8 252.7h0M232.8 164.8h0M292.9 122.0h0M313.0 106.4h0M296.8 122.6h0M215.2 170.5h0M336.4 90.0h0M235.2 159.7h0M274.7 150.1h0M91.2 279.1h0M221.9 188.7h0M116.6 268.4h0M150.5 232.9h0M173.7 227.8h0M243.9 161.4h0M113.7 261.8h0M283.4 121.5h0M197.5 193.8h0M152.0 238.8h0M366.9 67.6h0M268.3 136.5h0M182.6 204.8h0M126.5 243.8h0M221.8 169.4h0M301.8 105.6h0M227.6 180.0h0M175.9 218.8h0M123.8 250.0h0M153.5 217.6h0M307.8 110.1h0M136.4 253.2h0M378.4 45.1h0M288.6 121.6h0M199.6 187.7h0M144.3 239.8h0M215.4 169.3h0M365.6 66.9h0M125.4 244.2h0M158.7 220.6h0M113.8 252.4h0M286.9 131.7h0M365.0 61.6h0M239.4 156.8h0M172.8 221.2h0M370.4 63.5h0M247.6 176.2h0M368.8 65.4h0M192.0 198.1h0M132.7 244.2h0M111.9 273.1h0M164.8 228.5h0M207.2 183.5h0M299.2 121.5h0M216.3 174.8h0M165.4 223.5h0M345.3 78.3h0M244.9 153.0h0M251.9 156.1h0M317.5 116.7h0M271.2 145.4h0M158.2 229.4h0M365.7 65.1h0M136.9 224.3h0M136.6 239.3h0M264.8 140.5h0M246.4 161.0h0M154.9 239.2h0M280.4 138.2h0M120.1 243.5h0M217.9 177.9h0M363.4 64.9h0M343.7 89.7h0M252.2 151.3h0M308.7 96.6h0M268.9 131.7h0M156.0 223.0h0M330.5 78.6h0M254.2 149.2h0M250.0 151.1h0M365.9 72.8h0M240.1 160.0h0M180.0 201.8h0M204.4 186.7h0M239.1 161.8h0M335.2 98.8h0M325.0 91.0h0M198.2 174.3h0M221.4 198.2h0M106.0 268.1h0M262.0 144.6h0M311.8 130.7h0M146.6 224.5h0M261.1 138.4h0M131.2 241.6h0M323.9 103.6h0M288.9 121.5h0M358.3 77.1h0M169.2 212.2h0M139.3 246.6h0M243.2 162.5h0M108.4 255.1h0M317.8 103.6h0M148.4 223.0h0M129.3 245.0h0M133.3 242.7h0M280.8 151.2h0M105.8 264.0h0M204.3 174.6h0M142.3 236.4h0M304.6 105.1h0M107.2 271.7h0M146.2 237.6h0M301.8 130.6h0M228.5 166.1h0M124.4 243.4h0M383.2 52.0h0M191.5 186.4h0M203.7 180.2h0M292.3 116.8h0M222.4 172.8h0M320.7 89.8h0M233.8 148.6h0M159.3 233.5h0M233.8 160.9h0M323.8 97.6h0M168.3 220.3h0M261.1 148.7h0M245.6 151.1h0M277.6 129.1h0M188.7 212.7h0M154.3 235.8h0M269.3 145.3h0M326.9 111.6h0M217.0 162.8h0M130.3 245.8h0M312.2 106.0h0M231.8 151.3h0M274.5 138.1h0M120.6 256.5h0M306.0 115.5h0M191.9 182.8h0M341.5 83.6h0M159.8 223.9h0M92.4 275.1h0M178.3 210.1h0M286.9 131.2h0M285.7 140.5h0M326.9 99.0h0M150.0 248.8h0M249.5 155.7h0M112.7 261.0h0M153.7 232.8h0M104.8 265.7h0M259.2 143.7h0M343.5 94.2h0M251.5 134.8h0M251.9 137.5h0M346.5 98.5h0M181.0 211.9h0M239.4 166.2h0M314.1 109.8h0M145.7 235.2h0M280.7 123.2h0M113.9 257.2h0M191.2 189.8h0M143.2 243.1h0M207.0 191.2h0M148.4 232.9h0M109.4 264.1h0M210.1 182.5h0M196.4 184.6h0M290.0 140.4h0M94.9 276.0h0M261.1 143.6h0M104.3 268.8h0M220.7 186.5h0M96.9 276.4h0M349.2 84.4h0M221.2 182.3h0M218.5 175.4h0M112.2 266.5h0M306.6 121.6h0M164.6 226.4h0M216.7 168.1h0M286.3 133.2h0M308.1 117.8h0M195.3 201.4h0M109.2 249.7h0M381.0 39.5h0M161.7 223.1h0M103.6 262.7h0M256.7 151.9h0M335.7 89.3h0M116.9 260.6h0M104.8 263.5h0M273.0 127.4h0M243.7 162.8h0M162.7 217.9h0M164.3 209.8h0M300.4 102.2h0M97.1 283.0h0M157.9 221.0h0M189.4 197.3h0M302.6 100.6h0M177.0 200.8h0M107.3 263.2h0M292.9 125.5h0M276.2 141.0h0M127.7 242.4h0M288.2 130.2h0M257.6 158.0h0M190.7 194.0h0M245.2 156.3h0M225.1 157.2h0M308.8 104.5h0M365.2 54.0h0M183.9 208.9h0M117.6 254.5h0M189.9 211.8h0M251.0 154.2h0M162.1 226.8h0M135.1 244.6h0M150.4 230.9h0M327.1 88.3h0M283.9 143.9h0M127.2 247.0h0M173.2 197.3h0M165.8 213.0h0M123.7 243.7h0M323.9 109.9h0M170.6 222.5h0M241.6 173.3h0M194.4 213.3h0M111.9 256.8h0M101.9 260.0h0M278.1 124.7h0M258.9 150.2h0M222.4 151.7h0M141.2 232.5h0M183.8 210.5h0M226.2 164.1h0M151.4 227.8h0M244.8 149.7h0M324.1 114.9h0M141.3 249.7h0M356.9 63.7h0M226.4 164.0h0M376.8 56.4h0M372.2 64.6h0M110.1 263.7h0M274.3 141.4h0M158.6 231.1h0M256.9 159.5h0M341.4 102.1h0M213.6 182.9h0M266.0 137.8h0M270.3 138.0h0M144.0 250.6h0M205.3 194.9h0M171.1 220.2h0M219.9 188.5h0M298.9 131.0h0M132.5 258.9h0M238.5 156.3h0M225.5 174.6h0M195.0 202.0h0M324.8 107.0h0M186.2 199.4h0M310.9 97.4h0M112.1 259.2h0M208.7 179.5h0M122.7 251.3h0M326.5 108.1h0M269.3 146.1h0M150.5 221.7h0M191.9 191.9h0M127.7 248.9h0M339.8 97.5h0M342.5 84.6h0M342.4 87.1h0M252.7 139.3h0M164.2 215.6h0M213.0 175.2h0M269.4 141.0h0M205.2 185.3h0M108.4 259.0h0M231.0 159.0h0M116.9 257.4h0M156.5 220.2h0M316.5 115.9h0M255.0 151.2h0M309.9 108.1h0M273.6 144.4h0M267.4 130.3h0M159.7 229.7h0M282.2 123.9h0M127.4 251.9h0M96.2 270.2h0M183.4 196.3h0M135.6 228.6h0M278.2 132.9h0M169.7 218.6h0M101.4 262.7h0M303.0 132.0h0M358.5 70.6h0M283.0 119.8h0M366.8 79.1h0M305.4 110.2h0M356.3 84.5h0M271.8 113.4h0M306.0 133.1h0M309.4 112.1h0M124.8 249.5h0M178.5 210.3h0M255.8 139.2h0M178.9 215.0h0M335.5 93.9h0M107.3 265.3h0M127.9 243.3h0M180.5 196.7h0M184.4 206.0h0M321.7 108.3h0M95.2 274.0h0M319.9 100.5h0M374.3 53.5h0M105.9 268.0h0M365.4 76.2h0M268.1 138.0h0M129.0 240.5h0M321.3 123.8h0M125.5 239.1h0M194.8 197.0h0M157.4 223.1h0M194.9 205.6h0M132.7 242.2h0M193.5 182.3h0M242.7 149.3h0M215.1 180.3h0M230.1 168.0h0M342.7 78.8h0M328.2 91.3h0M123.8 240.6h0M290.3 112.1h0M309.7 105.1h0M348.6 73.4h0M197.0 191.9h0M353.9 64.8h0M239.4 175.1h0M216.3 164.1h0M226.6 178.4h0M201.9 194.0h0M276.8 148.1h0M232.8 178.5h0M337.4 78.3h0M216.4 181.6h0M106.7 267.6h0M135.6 247.0h0M202.0 193.7h0M217.0 173.5h0M315.3 117.8h0M248.6 153.4h0M139.1 235.0h0M174.0 212.8h0M233.9 161.8h0M308.8 105.8h0M282.4 130.9h0M262.4 168.3h0M161.8 223.3h0M243.1 159.4h0M159.2 219.4h0M110.5 263.1h0M297.7 110.2h0M265.2 146.4h0M382.2 52.9h0M294.1 122.7h0M161.1 225.2h0M99.3 269.6h0M206.5 191.8h0M183.6 208.3h0M228.5 174.6h0M192.4 197.1h0M105.4 269.2h0M111.4 259.8h0M188.4 210.8h0M248.2 153.9h0M140.7 245.7h0M141.7 238.1h0M155.6 225.4h0M292.4 115.0h0M299.4 124.2h0M221.1 178.4h0M107.4 264.2h0M360.7 72.3h0M334.1 92.6h0M173.7 204.4h0M93.2 271.2h0M222.3 179.9h0M138.7 239.9h0M193.8 208.5h0M198.8 208.6h0M176.3 216.4h0M350.1 83.4h0M196.2 198.8h0M123.6 251.3h0M244.3 152.5h0M340.9 65.3h0M155.5 231.5h0M226.4 176.5h0M193.2 196.7h0M272.5 137.8h0M176.6 217.4h0M161.7 228.2h0M369.1 63.5h0M318.6 101.5h0M280.7 136.7h0M266.9 148.1h0M358.0 89.2h0M108.1 259.0h0M209.1 188.6h0M257.5 140.5h0M128.1 244.2h0M386.3 62.8h0M275.7 131.0h0M297.8 118.4h0M371.4 55.7h0M245.2 164.9h0M350.0 74.8h0M192.0 183.9h0M353.3 76.6h0M226.3 178.6h0M303.0 115.4h0M166.0 218.9h0M218.2 171.7h0M239.3 153.8h0M228.5 169.8h0M354.0 65.5h0M213.2 177.5h0M336.6 81.7h0M123.3 249.5h0M150.0 235.7h0M140.7 236.8h0M142.6 243.3h0M247.2 158.8h0M120.8 252.2h0M271.9 129.3h0M335.1 91.4h0M353.7 65.4h0M107.7 266.9h0M159.4 212.4h0M209.2 172.6h0M95.1 270.6h0M272.0 122.9h0M212.7 182.3h0M205.6 180.4h0M135.3 238.1h0M111.6 263.3h0M339.4 69.7h0M250.7 150.6h0M185.2 205.3h0M338.1 96.9h0M124.8 250.3h0M198.3 186.8h0M112.8 263.9h0M308.8 119.4h0M339.0 106.4h0M169.4 232.4h0M316.9 102.9h0M365.3 75.7h0M155.2 227.3h0M371.3 52.1h0M182.5 210.3h0M282.2 141.8h0M234.1 146.0h0M186.0 212.7h0M251.5 145.2h0M90.5 282.1h0M224.8 174.3h0M224.2 174.0h0M260.6 158.0h0M299.8 115.2h0M338.1 106.2h0M311.5 101.2h0M335.1 85.7h0M192.6 187.8h0M121.9 255.0h0M265.3 140.9h0M104.6 269.3h0M366.5 72.4h0M219.8 182.8h0M162.1 228.9h0M100.3 273.6h0M325.2 97.2h0M322.1 94.6h0M129.5 239.3h0M301.9 122.9h0M116.8 253.1h0M278.5 124.1h0M233.1 158.9h0M262.6 141.6h0M130.4 246.2h0M308.6 108.8h0M306.7 104.2h0M324.7 103.0h0M199.5 172.7h0M162.7 217.1h0M237.6 171.4h0M279.3 133.7h0M298.2 129.4h0M211.2 182.9h0M253.6 155.2h0M264.1 142.4h0M248.8 150.1h0M285.1 130.7h0M175.8 217.2h0M156.4 209.7h0M170.5 207.0h0M308.3 94.5h0M372.5 51.3h0M178.0 197.3h0M266.4 136.0h0M246.1 153.0h0M338.2 95.4h0M95.2 277.3h0M257.2 140.3h0M334.4 86.2h0M370.9 64.2h0M202.9 182.6h0M219.6 172.0h0M324.1 83.8h0M358.4 75.8h0M156.7 225.7h0M340.8 77.4h0M125.7 239.9h0M106.4 259.1h0M100.8 270.3h0M113.3 255.8h0M119.2 246.4h0M156.4 221.6h0M170.3 220.2h0M372.9 67.2h0M311.7 120.0h0M121.2 252.7h0M145.3 234.6h0M277.8 134.7h0M251.3 157.5h0M210.4 187.3h0M205.3 178.4h0M293.7 115.5h0M222.1 170.5h0M285.6 133.2h0M94.1 272.4h0M120.4 248.2h0M143.4 241.3h0M249.1 166.4h0M246.2 148.1h0M334.1 89.5h0M340.4 95.4h0M313.5 103.5h0M181.4 212.3h0M108.7 255.5h0M339.8 84.4h0M356.8 76.8h0M98.2 276.3h0M91.6 279.1h0M141.3 224.9h0M188.9 186.7h0M281.5 122.5h0M213.0 187.4h0M268.3 145.3h0M315.5 114.9h0M140.9 240.9h0M175.9 204.6h0M373.5 54.7h0M235.2 156.5h0M222.5 180.4h0M237.9 151.4h0M236.9 163.0h0M287.2 127.9h0M334.6 100.8h0M257.9 140.3h0M259.9 148.6h0M245.3 148.0h0M157.5 231.2h0M299.4 114.6h0M146.7 229.6h0M162.3 212.4h0M183.5 198.3h0M230.9 161.7h0M316.9 99.2h0M187.8 209.2h0M251.9 143.0h0M207.7 186.5h0M210.5 189.3h0M371.6 50.5h0M264.5 124.0h0M96.1 274.2h0M332.5 79.1h0M224.7 165.4h0M370.3 59.4h0M127.0 248.9h0M368.6 59.4h0M266.7 134.1h0M257.1 156.1h0M223.7 174.3h0M371.9 73.4h0M323.1 92.2h0M230.7 166.4h0M192.6 195.7h0M195.9 197.8h0M218.6 178.2h0M141.8 235.8h0M156.1 239.2h0M268.5 137.2h0M301.6 119.7h0M347.6 81.0h0M136.1 236.1h0M175.7 215.3h0M143.2 221.7h0M258.4 156.5h0M173.8 198.7h0M178.5 204.6h0M111.1 260.9h0M302.3 111.5h0M357.4 66.9h0M130.2 251.9h0M221.8 194.2h0M306.1 121.8h0M334.2 91.8h0M186.5 195.8h0M108.9 258.5h0M300.1 128.0h0M282.6 137.0h0M197.8 202.7h0M379.4 59.7h0M284.6 139.5h0M243.1 153.0h0M248.4 147.4h0M114.7 252.0h0M368.6 61.3h0M383.1 48.5h0M137.8 239.4h0M300.8 107.2h0M245.5 157.5h0M197.4 198.9h0M248.6 154.3h0M126.0 231.4h0M186.3 200.8h0M181.9 201.5h0M274.2 142.8h0M231.7 165.1h0M98.8 272.7h0M170.4 210.4h0M194.7 197.0h0M189.5 206.3h0M306.6 109.8h0M320.4 103.9h0M365.3 65.5h0M360.8 72.9h0M221.4 173.2h0M239.9 164.4h0M252.0 136.3h0M226.3 168.6h0M102.4 270.7h0M123.2 254.2h0M309.7 102.2h0M295.9 113.6h0M176.1 212.1h0M146.6 234.3h0M242.6 162.2h0M326.9 96.6h0M107.5 263.8h0M265.7 150.0h0M153.9 219.5h0M162.0 209.6h0M209.2 191.6h0M137.5 233.9h0M293.4 127.7h0M119.2 249.9h0M223.2 163.9h0M270.4 151.0h0M320.8 100.3h0M238.5 149.9h0M128.4 244.7h0M313.7 105.0h0M343.4 76.6h0M93.7 264.4h0M178.6 224.5h0M173.8 208.2h0M199.6 197.2h0M245.5 156.7h0M225.5 147.9h0M185.5 198.7h0M183.6 220.0h0M282.6 136.6h0M177.6 205.2h0M278.4 119.6h0M225.1 171.2h0M157.4 210.8h0M296.3 119.9h0M234.8 136.6h0M261.3 131.4h0M113.7 264.9h0M213.8 181.1h0M227.9 159.2h0M201.8 192.2h0M191.9 195.1h0M129.2 249.3h0M223.6 186.8h0M303.5 110.2h0M246.6 125.6h0M175.7 216.3h0M145.3 226.0h0M192.0 212.4h0M177.2 222.4h0M144.6 234.9h0M201.4 196.4h0M188.0 184.0h0M232.9 136.4h0M321.0 93.4h0M188.1 205.5h0M272.1 150.4h0M139.3 232.5h0M157.2 215.1h0M331.1 78.6h0M293.5 109.1h0M283.9 128.6h0M317.7 82.1h0M342.6 92.0h0M359.5 50.2h0M287.8 148.5h0M356.2 68.7h0M165.2 220.3h0M218.5 152.4h0M144.5 238.7h0M121.8 237.1h0M197.9 203.9h0M183.5 197.4h0M259.8 148.3h0M200.6 197.7h0M135.4 252.0h0M223.3 190.3h0M181.0 221.2h0M300.4 122.4h0M276.4 122.9h0M366.9 47.4h0M371.2 69.1h0M244.4 161.4h0M163.3 214.8h0M241.2 159.0h0M172.9 225.4h0M229.7 179.9h0M298.0 108.1h0M286.9 105.0h0M213.7 153.8h0M174.7 206.5h0M99.8 268.3h0M330.6 72.8h0M321.6 111.8h0M252.8 173.0h0M313.7 93.9h0M145.6 243.4h0M267.9 137.4h0M171.3 221.9h0M318.0 102.6h0M198.9 191.9h0M219.2 188.6h0M189.9 208.7h0M205.7 182.3h0M335.1 93.9h0M374.6 49.0h0M165.1 218.9h0M311.6 112.9h0M367.7 68.3h0M229.3 143.1h0M250.8 159.4h0M318.5 84.6h0M268.6 141.2h0M234.1 174.1h0M343.7 60.0h0M240.3 142.2h0M306.6 119.0h0M351.1 79.3h0M178.0 185.4h0M322.0 110.2h0M144.1 229.3h0M235.3 144.5h0M266.6 143.2h0M330.3 82.4h0M177.5 210.2h0M372.9 61.2h0M295.3 145.1h0M353.8 86.2h0M161.8 225.3h0M236.8 164.7h0M212.1 187.0h0M369.4 67.2h0M315.1 94.7h0M137.7 246.1h0M349.2 66.7h0M189.2 193.8h0M217.4 177.3h0M107.4 270.0h0M227.2 181.0h0M347.2 37.1h0M214.9 195.2h0M100.7 269.6h0M325.4 95.7h0M216.6 196.8h0M120.7 248.0h0M278.9 114.3h0M143.2 215.9h0M254.0 129.5h0M203.6 199.2h0M159.9 214.3h0M207.4 172.4h0M173.0 218.1h0M216.7 163.9h0M247.0 142.0h0M225.6 158.8h0M107.7 266.1h0M243.2 146.1h0M362.7 58.7h0M328.7 89.3h0M204.5 164.7h0M301.9 109.5h0M139.2 221.2h0M282.8 108.8h0M141.2 232.7h0M114.8 258.9h0M268.8 133.8h0M187.7 214.5h0M228.6 170.8h0M106.0 268.1h0M154.4 221.9h0M113.6 254.4h0M355.6 94.9h0M124.5 236.5h0M352.9 89.8h0M111.7 255.3h0M147.8 240.6h0M282.8 107.1h0M260.1 150.4h0M106.2 266.5h0M181.8 181.3h0M128.1 241.9h0M182.9 213.0h0M188.2 213.5h0M234.5 168.3h0M295.0 110.1h0M100.5 268.9h0M272.9 113.7h0M356.5 56.3h0M182.4 208.1h0M268.6 138.0h0M210.8 191.7h0M172.1 215.6h0M232.9 173.0h0M108.6 262.3h0M273.5 140.9h0M234.5 194.2h0M164.3 208.5h0M100.4 270.0h0M356.7 63.5h0M266.5 145.5h0M104.6 268.6h0M307.4 98.2h0M122.9 253.2h0M213.3 184.0h0M125.8 248.7h0M352.6 77.8h0M262.7 158.5h0M275.6 139.5h0M184.9 200.7h0M180.2 210.5h0M109.9 274.5h0M338.2 76.2h0M129.0 257.8h0M253.8 138.5h0M149.3 214.2h0M118.5 250.1h0M105.1 267.7h0M180.4 204.6h0M124.8 244.6h0M324.5 85.0h0M254.0 133.2h0M142.6 225.8h0M98.9 267.6h0M216.5 142.1h0M325.3 100.4h0M159.8 227.0h0M245.6 157.7h0M158.4 236.2h0M373.1 50.0h0M159.8 223.1h0M149.2 203.3h0M255.1 151.3h0M170.2 210.6h0M332.1 97.5h0M299.6 124.0h0M277.5 128.7h0M366.3 46.1h0M206.3 191.0h0M103.5 271.5h0M177.2 221.3h0M160.7 216.7h0M141.1 228.4h0M198.6 189.7h0M109.3 255.7h0M91.1 267.7h0M231.2 171.8h0M133.7 247.8h0M319.2 107.7h0M123.4 244.2h0M118.7 254.7h0M247.4 133.2h0M312.5 85.5h0M304.8 115.7h0M331.6 64.9h0M214.7 175.1h0M160.0 253.6h0M98.2 276.6h0M361.7 75.4h0M248.1 161.4h0M361.2 63.6h0M323.9 87.5h0M268.5 160.2h0M299.7 111.7h0M139.5 233.0h0M345.8 87.9h0M328.8 90.8h0M218.3 193.2h0M208.4 176.7h0M222.8 160.8h0M242.9 151.3h0M138.1 257.5h0M364.4 77.2h0M186.7 205.5h0M102.0 268.6h0M250.8 156.4h0M132.1 235.8h0M388.8 50.7h0M356.3 63.7h0M296.5 119.6h0M110.9 261.4h0M325.4 98.7h0M142.6 232.0h0M260.2 155.9h0M139.8 242.9h0M284.7 114.5h0M281.6 133.3h0M185.5 199.4h0M157.6 230.1h0M325.3 106.2h0M361.9 59.8h0M138.9 239.3h0M386.3 48.0h0M242.5 159.6h0M179.7 234.0h0M220.8 180.2h0M110.4 254.2h0M227.2 172.4h0M251.5 142.5h0M228.8 199.2h0M100.6 266.1h0M292.1 105.3h0M222.1 183.9h0M138.9 234.5h0M322.4 92.1h0M256.9 144.0h0M97.0 269.0h0M207.5 180.9h0M299.2 87.7h0M264.9 140.2h0M194.1 204.8h0M310.1 129.7h0M217.0 179.9h0M136.6 250.4h0M130.5 239.8h0M344.2 101.3h0M163.3 250.6h0M248.1 158.9h0M159.7 220.0h0M178.7 209.7h0M179.7 228.1h0M95.1 268.0h0M93.7 280.0h0M117.1 249.3h0M287.6 112.4h0M167.3 221.5h0M209.4 193.0h0M256.5 159.6h0M227.2 188.6h0M343.0 66.0h0M304.6 112.1h0M338.2 96.1h0M174.5 216.0h0M381.1 65.4h0M365.3 64.6h0M267.9 135.1h0M311.8 77.5h0M142.5 218.1h0M374.5 67.3h0M145.3 223.1h0M309.2 111.4h0M101.2 272.3h0M301.0 112.6h0M243.7 170.4h0M199.7 185.0h0M165.5 227.3h0M217.5 177.1h0M170.9 198.4h0M189.2 177.4h0M384.3 47.1h0M190.8 219.9h0M334.9 104.0h0M210.9 189.8h0M333.1 100.2h0M282.6 137.9h0M330.9 87.5h0M286.8 139.2h0M256.5 151.5h0M340.9 76.0h0M269.9 179.5h0M321.5 107.0h0M272.3 134.5h0M214.0 190.9h0M169.6 202.5h0M179.3 194.5h0M322.6 123.2h0M162.7 229.8h0M170.8 203.0h0M376.3 36.0h0M272.5 134.5h0M182.7 193.7h0M278.0 145.7h0M209.9 158.1h0M110.5 269.6h0M347.1 63.9h0M106.8 256.9h0M362.0 66.9h0M202.5 174.3h0M236.1 154.0h0M221.0 167.0h0M214.5 145.4h0M325.5 78.8h0M182.5 210.1h0M245.7 132.2h0M321.0 85.8h0M138.7 249.9h0M144.0 246.6h0M176.3 229.9h0M335.2 73.7h0M200.7 201.3h0M310.8 108.7h0M273.9 113.2h0M141.9 243.2h0M223.5 173.4h0M128.1 241.9h0M225.9 153.7h0M138.3 223.9h0M270.9 142.2h0M213.4 186.9h0M249.1 148.5h0M211.1 177.8h0M243.2 147.6h0M203.7 198.3h0M173.1 215.3h0M366.0 39.1h0M232.0 168.0h0M133.6 248.4h0M186.6 195.2h0M302.7 106.1h0M236.4 153.2h0M219.3 184.6h0M244.0 150.4h0M286.5 124.1h0M377.5 54.9h0M131.6 260.5h0M359.1 47.6h0M214.7 209.1h0M256.5 126.6h0M205.1 185.0h0M214.0 169.1h0M197.6 195.4h0M299.7 120.7h0M220.4 204.7h0M301.6 126.8h0M121.2 247.6h0M98.7 271.8h0M157.9 226.3h0M155.9 218.9h0M161.7 229.7h0M209.6 187.8h0M269.9 130.1h0M346.5 68.4h0M383.6 57.7h0M263.7 140.4h0M344.6 97.0h0M228.9 180.1h0M293.8 102.4h0M341.0 53.3h0M277.4 132.3h0M200.4 183.3h0M316.2 88.2h0M301.8 103.8h0M376.4 73.7h0M316.9 98.2h0M246.7 178.4h0M155.1 237.2h0M93.3 267.1h0M155.5 232.5h0M281.7 144.7h0M133.8 226.5h0M281.5 108.6h0M163.8 218.9h0M138.1 234.7h0M331.9 113.4h0M127.6 240.6h0M328.3 116.1h0M252.8 125.9h0M164.8 209.7h0M156.8 230.1h0M248.0 161.0h0M163.0 222.9h0M251.4 171.2h0M255.5 170.1h0M98.6 280.2h0M163.8 219.2h0M289.6 132.3h0M130.7 243.5h0M295.0 134.6h0M303.9 82.4h0M317.3 92.5h0M339.6 80.7h0M189.4 194.6h0M363.4 88.2h0M104.5 258.2h0M108.7 257.8h0M248.9 132.6h0M109.9 262.0h0M230.0 153.2h0M175.9 223.5h0M275.4 143.2h0M206.8 158.4h0M180.8 182.1h0M267.7 148.6h0M372.6 63.4h0M156.3 208.4h0M111.4 260.8h0M136.4 229.4h0M350.4 87.3h0M289.2 103.5h0M91.3 274.0h0M150.2 237.1h0M300.9 114.3h0M132.1 255.6h0M221.1 181.0h0M144.3 219.7h0M169.1 219.4h0M210.8 167.8h0M219.7 194.7h0M332.0 112.0h0M219.9 190.8h0M365.1 95.4h0M229.2 179.3h0M215.1 198.7h0M170.7 227.7h0M195.7 206.6h0M374.7 68.0h0M234.8 168.7h0M142.9 258.3h0M128.7 237.7h0M261.8 116.9h0M236.6 150.2h0M225.9 191.7h0M255.4 144.4h0M113.2 253.8h0M110.0 256.4h0M168.3 223.1h0M168.3 216.2h0M284.0 140.0h0M334.6 83.0h0M243.6 169.2h0M307.3 97.8h0M309.2 114.0h0M198.4 231.2h0M242.5 155.7h0M312.3 103.3h0M364.9 78.0h0M313.4 91.2h0M202.8 184.1h0M118.8 251.0h0M159.7 227.0h0M232.1 143.4h0M149.6 250.1h0M291.0 123.0h0M164.4 222.4h0M207.7 184.0h0M198.9 192.7h0M203.2 205.5h0M272.2 121.6h0M367.3 73.9h0M292.8 118.0h0M284.9 123.1h0M320.8 105.2h0M199.7 213.3h0M157.2 224.5h0M154.4 221.3h0M120.7 257.7h0M113.5 241.6h0M332.8 77.2h0M353.7 58.9h0M319.2 94.8h0M153.5 213.2h0M102.9 272.1h0M291.0 117.0h0M237.1 165.0h0M246.8 156.0h0M198.9 189.2h0M250.4 141.3h0M292.7 134.7h0M220.2 186.7h0M207.2 205.1h0M208.6 183.4h0M102.6 269.3h0M191.3 203.5h0M195.4 191.8h0M161.0 222.1h0M278.2 105.4h0M311.7 90.1h0M197.6 182.8h0M290.3 105.6h0M227.7 176.0h0M175.0 216.5h0M99.9 271.9h0M176.0 207.9h0M339.4 98.5h0M322.9 109.3h0M362.0 74.6h0M307.0 104.8h0M262.0 161.5h0M107.7 256.3h0M112.8 248.4h0M323.9 78.5h0M130.4 258.1h0M127.5 249.5h0M350.2 67.2h0M202.5 160.6h0M117.3 254.8h0M154.2 216.8h0M157.3 202.1h0M222.4 188.2h0M114.2 259.1h0M227.7 187.8h0M178.4 208.8h0M115.5 261.9h0M208.8 175.8h0M248.3 162.1h0M175.1 206.9h0M181.4 214.6h0M182.5 208.6h0M366.7 48.0h0M333.4 88.9h0M179.8 210.2h0M291.4 111.2h0M326.6 92.3h0M272.2 146.1h0M279.6 143.7h0M114.9 258.8h0M313.4 74.8h0M108.1 268.2h0M381.1 74.2h0M148.4 229.9h0M153.3 219.0h0M215.5 184.0h0M195.1 198.8h0M126.3 257.6h0M137.9 234.3h0M372.0 82.8h0M148.6 244.2h0M101.0 263.6h0M178.0 223.1h0M217.8 176.6h0M111.9 265.4h0M274.5 138.2h0M217.2 179.6h0M320.5 103.0h0M158.8 219.7h0M105.3 261.4h0M238.2 158.6h0M387.7 43.4h0M102.2 270.3h0M293.2 122.0h0M209.2 162.7h0M282.3 137.5h0M187.6 201.4h0M322.0 109.3h0M239.8 169.6h0M179.0 212.3h0M181.9 213.8h0M265.7 117.0h0M169.1 237.3h0M177.3 235.5h0M359.9 77.4h0M153.0 223.2h0M276.4 140.4h0M136.3 238.6h0M146.5 254.5h0M277.2 125.5h0M193.8 183.2h0M212.3 171.1h0M155.3 219.0h0M351.1 85.8h0M285.0 125.8h0M159.8 227.5h0M188.5 197.3h0M165.1 237.5h0M307.8 108.9h0M256.7 151.0h0M179.3 229.2h0M234.4 169.4h0M302.4 106.4h0M159.1 221.6h0M197.1 208.9h0M200.3 196.9h0M239.4 148.5h0M104.3 273.0h0M181.4 189.9h0M149.3 208.3h0M130.4 237.5h0M184.9 181.8h0M155.4 224.9h0M268.0 140.0h0M121.2 251.4h0M320.6 91.2h0M333.8 74.1h0M364.6 77.9h0M123.4 235.2h0M111.8 265.7h0M366.7 66.5h0M118.4 255.3h0M127.2 253.1h0M147.0 216.8h0M253.9 162.0h0M309.4 113.7h0M111.0 268.7h0M187.7 177.4h0M193.6 200.6h0M362.3 64.4h0M255.6 108.7h0M214.2 176.5h0M193.1 198.5h0M187.6 192.6h0M161.5 227.5h0M282.0 134.7h0M136.3 237.4h0M236.8 157.8h0M303.3 121.1h0M226.7 155.2h0M208.9 191.6h0M260.3 160.5h0M110.5 261.6h0M115.6 260.6h0M118.8 255.6h0M170.9 226.0h0M200.1 173.7h0M177.0 190.4h0M185.0 193.9h0M277.6 122.2h0M310.2 118.9h0M288.3 138.9h0M281.0 135.6h0M104.8 273.0h0M182.2 201.4h0M199.0 186.5h0M257.5 120.7h0M207.0 201.1h0M249.4 160.3h0M307.2 108.4h0M244.3 133.9h0M156.0 215.1h0M348.4 84.2h0M328.5 92.2h0M218.5 191.4h0M293.3 121.7h0M111.3 256.3h0M251.5 131.1h0M249.7 153.5h0M358.5 93.0h0M285.7 147.4h0M96.1 269.3h0M222.5 181.0h0M365.4 54.0h0M129.8 249.3h0M267.8 91.8h0M188.8 193.3h0M201.9 167.9h0M350.1 97.1h0M321.0 93.0h0M186.7 208.4h0M271.6 136.8h0M166.2 203.3h0M238.4 169.8h0M142.9 249.5h0M305.2 113.1h0M130.7 251.5h0M111.8 268.1h0M96.4 275.2h0M319.8 97.4h0M276.2 106.6h0M268.6 124.6h0M350.0 64.9h0M280.8 137.6h0M103.1 274.5h0M112.1 260.7h0M106.8 270.4h0M122.1 232.8h0M122.9 254.5h0M162.1 208.5h0M178.0 221.8h0M239.0 177.3h0M215.2 194.4h0M290.9 130.7h0M202.1 204.9h0M384.3 70.4h0M285.7 118.2h0M90.7 283.1h0M203.3 186.0h0M172.9 198.1h0M303.5 119.3h0M108.8 268.0h0M335.8 92.0h0M256.1 138.3h0M336.2 95.9h0M181.4 204.7h0M352.8 111.2h0M109.5 265.2h0M285.5 130.9h0M123.1 248.2h0M346.8 88.0h0M175.6 234.1h0M255.2 138.0h0M174.3 208.8h0M263.2 111.5h0M213.1 181.9h0M161.5 244.6h0M112.9 251.9h0M351.8 69.4h0M216.7 168.7h0M187.1 199.5h0M300.7 104.8h0M281.1 124.1h0M318.3 86.1h0M299.3 117.8h0M339.6 98.2h0M306.7 118.9h0M261.7 112.6h0M304.2 127.3h0M349.2 87.3h0M139.7 252.4h0M197.3 184.0h0M215.6 171.7h0M274.9 141.5h0M152.5 252.5h0M239.3 145.6h0M195.0 200.0h0M137.7 245.9h0M153.0 225.3h0M367.7 67.2h0M153.8 222.8h0M152.5 246.4h0M190.6 180.6h0M115.9 260.0h0M172.6 208.0h0M347.2 77.3h0M196.7 184.1h0M239.7 109.2h0M226.6 190.5h0M322.3 107.5h0M283.8 132.0h0M274.1 134.6h0M187.3 206.6h0M225.2 168.2h0M105.3 266.7h0M129.0 261.0h0M233.2 156.5h0M319.2 88.9h0M199.0 216.5h0M112.0 257.6h0M286.8 127.7h0M185.5 202.1h0M182.4 214.3h0M347.8 87.5h0M231.6 169.8h0M362.5 53.6h0M383.6 39.7h0M99.7 270.7h0M292.6 141.1h0M233.0 136.7h0M105.1 265.6h0M272.9 141.0h0M198.9 186.7h0M260.2 148.5h0M123.2 251.4h0M128.6 255.6h0M275.9 151.3h0M239.6 156.7h0M131.4 248.9h0M256.4 153.9h0M269.9 140.0h0M235.7 165.1h0M279.6 97.1h0M126.2 250.8h0M364.2 50.8h0M133.1 240.4h0M116.1 260.8h0M245.4 164.0h0M318.4 94.7h0M326.5 88.0h0M209.2 181.5h0M194.0 184.5h0M278.0 148.3h0M122.6 267.1h0M269.1 135.7h0M100.1 277.7h0M98.0 275.1h0M246.3 137.5h0M241.8 170.8h0M194.9 204.7h0M160.5 225.2h0M321.7 78.7h0M259.9 135.6h0M165.4 193.4h0M132.2 244.7h0M277.3 127.7h0M365.5 48.9h0M304.4 95.6h0M151.8 247.1h0M124.4 238.0h0M253.8 158.9h0M116.9 257.6h0M307.2 124.0h0M116.9 244.5h0M175.5 212.8h0M120.1 264.3h0M100.4 268.7h0M156.3 210.6h0M167.7 195.4h0M284.7 115.7h0M223.7 186.2h0M340.3 105.2h0M196.0 196.1h0M224.7 183.9h0M266.2 151.8h0M221.5 183.0h0M193.1 187.6h0M293.5 127.7h0M311.9 92.5h0M333.7 90.0h0M149.1 242.2h0M211.6 196.5h0M209.6 183.3h0M317.0 116.5h0M156.5 246.3h0M162.3 234.8h0M283.6 126.9h0M326.4 98.6h0M316.5 102.3h0M107.9 264.3h0M212.3 191.9h0M189.4 214.7h0M302.4 113.1h0M208.2 195.4h0M150.7 234.3h0M94.6 274.9h0M360.5 54.7h0M336.8 91.8h0M239.5 160.2h0M265.0 145.3h0M239.5 174.0h0M188.2 211.3h0M173.9 222.4h0M226.2 164.1h0M173.5 194.9h0M240.3 154.7h0M219.1 177.5h0M209.1 187.9h0M107.6 272.1h0M300.1 118.1h0M288.2 139.6h0M319.8 94.2h0M143.1 225.6h0M215.2 191.2h0M257.6 128.4h0M285.4 102.5h0M217.6 170.6h0M211.4 187.8h0M376.2 69.9h0M208.1 186.4h0M374.7 68.7h0M216.4 179.5h0M162.1 203.9h0M189.7 187.5h0M291.1 98.3h0M223.5 171.1h0M301.6 87.9h0M292.7 100.8h0M230.1 155.0h0M297.7 126.5h0M164.2 227.4h0M147.6 229.0h0M305.0 113.0h0M112.0 259.0h0M110.8 279.0h0M120.0 241.2h0M193.6 172.9h0M119.6 239.4h0M142.2 222.5h0M280.4 124.1h0M129.6 255.7h0M213.8 177.8h0M246.1 151.4h0M360.8 64.8h0M181.0 209.1h0M121.3 245.7h0M312.7 112.1h0M143.3 235.4h0M301.4 115.7h0M131.3 250.5h0M94.9 276.0h0M331.3 100.5h0M267.2 124.9h0M119.7 258.0h0M162.1 204.0h0M308.0 81.6h0M121.6 249.6h0M338.1 89.8h0M123.4 255.3h0M235.6 168.1h0M143.1 245.7h0M237.3 131.8h0M141.2 231.8h0M124.6 248.4h0M189.7 189.9h0M282.8 130.6h0M231.6 173.9h0M238.7 165.1h0M227.7 171.3h0M243.0 185.3h0M132.4 244.9h0M211.3 183.0h0M116.7 265.4h0M120.6 267.9h0M155.4 216.4h0M99.7 264.7h0M134.4 256.5h0M198.9 206.0h0M97.3 275.6h0M376.1 51.7h0M338.4 93.3h0M288.2 102.6h0M162.9 207.9h0M259.1 163.1h0M141.8 224.4h0M383.5 47.3h0M283.9 133.2h0M200.6 195.0h0M213.3 165.7h0M195.9 187.8h0M330.7 97.9h0M258.4 138.6h0M122.0 265.8h0M118.7 253.9h0M308.9 129.0h0M171.1 213.9h0M206.6 201.2h0M253.6 154.9h0M171.6 214.5h0M295.7 99.4h0M281.2 134.6h0M113.4 259.6h0M247.4 158.8h0M356.5 62.4h0M268.2 122.7h0M152.9 217.7h0M165.9 216.8h0M330.2 102.5h0M303.9 106.3h0M163.7 207.4h0M225.1 157.9h0M183.5 190.8h0M316.3 80.0h0M110.9 258.2h0M99.4 266.5h0M387.7 41.6h0M154.8 250.5h0M155.8 237.6h0M324.4 113.9h0M342.5 80.6h0M249.8 155.6h0M142.7 227.8h0M158.5 204.4h0M142.8 219.8h0M91.0 275.0h0M98.5 272.9h0M210.1 210.3h0M245.4 154.2h0M129.9 232.2h0M97.4 269.7h0M143.9 240.9h0M121.6 243.1h0M115.5 253.8h0M162.0 227.4h0M163.5 221.2h0M123.5 254.7h0M124.5 250.8h0M101.1 268.6h0M218.0 193.9h0M111.2 266.6h0M263.1 145.3h0M346.8 84.9h0M149.2 230.6h0M152.4 228.1h0M290.9 125.5h0M236.5 165.8h0M107.2 278.7h0M358.7 71.9h0M101.6 270.6h0M238.8 187.0h0M147.6 223.0h0M297.5 117.5h0M133.0 256.8h0M233.0 169.0h0M218.2 177.4h0M202.8 179.6h0M215.9 180.0h0M210.1 174.6h0M167.8 231.0h0M214.8 187.4h0M131.4 242.9h0M129.1 258.1h0M243.1 141.2h0M215.4 167.7h0M246.4 164.8h0M231.7 170.9h0M251.6 132.2h0M166.5 210.0h0M379.3 50.1h0M163.2 213.7h0M160.6 225.5h0M167.7 216.1h0M101.7 271.0h0M383.8 48.5h0M327.1 98.2h0M374.1 51.5h0M213.3 186.4h0M320.8 102.8h0M309.2 115.7h0M151.0 234.7h0M234.8 158.5h0M109.1 262.4h0M312.7 120.7h0M186.5 199.6h0M321.0 98.9h0M255.9 166.4h0M241.6 167.3h0M166.8 227.0h0M306.2 98.8h0M150.7 220.9h0M129.3 249.7h0M177.8 236.4h0M272.0 107.3h0M286.8 100.0h0M115.2 261.9h0M352.8 77.0h0M147.5 222.6h0M338.8 96.7h0M238.5 164.3h0M379.2 47.2h0M116.6 256.3h0M247.7 145.4h0M219.5 180.4h0M144.6 227.8h0M294.6 103.5h0M216.7 168.4h0M332.3 94.0h0M323.4 110.9h0M156.2 219.2h0M180.8 195.3h0M162.2 225.1h0M293.1 131.6h0M321.7 92.4h0M309.9 124.8h0M90.7 273.8h0M252.5 167.3h0M101.1 272.3h0M342.7 88.4h0M189.2 197.8h0M186.0 200.8h0M123.1 245.8h0M237.6 162.9h0M264.7 130.8h0M288.6 124.5h0M131.8 255.3h0M237.2 179.1h0M280.0 141.3h0M316.8 112.4h0M96.2 274.6h0M220.6 172.8h0M173.4 200.3h0M236.7 175.3h0M234.9 157.4h0M197.5 196.1h0M368.4 43.6h0M259.7 150.4h0M177.8 226.7h0M361.2 65.4h0M184.4 215.3h0M305.4 108.2h0M294.2 120.5h0M130.4 241.9h0M185.8 172.5h0M156.8 230.2h0M366.1 69.5h0M207.3 193.2h0M338.6 107.9h0M255.0 159.5h0M300.4 119.1h0M155.5 219.6h0M193.5 232.3h0M318.4 83.0h0M281.9 122.5h0M354.6 65.2h0M303.7 123.7h0M271.1 140.3h0M271.9 141.8h0M166.7 198.8h0M131.6 240.5h0M248.7 166.1h0M248.9 145.2h0M333.5 71.8h0M161.1 225.0h0M159.5 217.2h0M354.4 72.0h0M219.6 181.1h0M220.5 161.2h0M264.9 140.9h0M93.2 280.4h0M143.2 233.7h0M350.0 72.6h0M127.8 243.4h0M355.3 76.3h0M353.5 80.3h0M109.3 257.1h0M229.3 171.0h0M173.4 234.4h0M270.2 111.3h0M357.7 84.0h0M175.2 223.0h0M130.8 232.3h0M358.4 47.2h0M302.3 105.9h0M190.7 216.4h0M327.7 84.5h0M231.0 168.4h0M121.4 254.2h0M192.9 196.7h0M292.1 142.2h0M176.9 213.7h0M264.1 122.8h0M140.6 241.7h0M304.9 118.1h0M148.6 220.7h0M182.4 208.2h0M302.2 105.4h0M146.2 220.3h0M212.5 169.7h0M314.3 113.4h0M262.3 140.8h0M114.6 246.7h0M120.8 259.4h0M302.0 109.0h0M107.1 246.2h0M135.6 231.8h0M109.5 247.1h0M145.2 228.1h0M256.6 179.1h0M174.2 238.4h0M98.6 272.2h0M265.9 126.6h0M247.0 134.9h0M236.3 151.0h0M251.5 154.8h0M260.8 158.7h0M145.7 235.0h0M95.0 278.9h0M197.3 192.6h0M95.7 263.3h0M203.1 193.6h0M319.8 112.5h0M122.5 257.2h0M274.9 145.4h0M253.6 134.4h0M326.6 90.3h0M231.1 168.4h0M275.4 137.2h0M299.2 121.5h0M254.6 161.0h0M149.2 227.4h0M357.1 55.8h0M218.2 171.4h0M152.3 227.2h0M326.8 87.7h0M259.0 130.4h0M192.3 209.0h0M291.8 131.5h0M216.5 191.3h0M267.2 148.3h0M336.3 93.8h0M96.6 270.4h0M295.7 112.6h0M352.2 78.1h0M319.8 75.4h0M388.0 48.7h0M205.4 162.4h0M157.6 249.1h0M188.3 209.2h0M101.3 265.5h0M265.3 141.1h0M128.8 243.0h0M331.8 111.1h0M385.2 60.9h0M205.4 189.2h0M294.8 112.0h0M168.8 224.4h0M384.4 52.0h0M353.1 72.8h0M269.8 129.8h0M234.4 139.4h0M96.7 265.9h0M375.2 47.3h0M91.8 269.3h0M354.1 59.7h0M219.2 198.9h0M384.4 49.2h0M197.0 203.2h0M184.0 198.0h0M261.4 159.5h0M290.4 123.4h0M246.3 165.8h0M99.7 275.4h0M140.2 243.8h0M200.5 215.3h0M180.2 197.2h0M265.1 136.4h0M369.4 67.6h0M258.4 145.5h0M245.4 162.5h0M109.2 276.1h0M172.6 210.3h0M312.9 108.1h0M318.2 93.8h0M137.5 233.0h0M278.6 101.3h0M329.1 98.6h0M355.7 91.8h0M215.0 181.2h0M198.0 208.6h0M111.9 251.7h0M170.0 213.6h0M117.7 255.1h0M234.4 174.4h0M152.0 230.3h0M339.0 92.0h0M140.2 255.5h0M107.3 257.4h0M347.3 76.3h0M253.3 155.4h0M252.3 140.0h0M265.5 145.4h0M107.6 253.1h0M112.4 253.3h0M178.3 206.2h0M208.4 161.3h0M225.3 198.6h0M288.8 143.5h0M248.5 169.1h0M220.5 186.4h0M306.8 120.1h0M238.1 158.0h0M108.1 262.2h0M225.3 139.3h0M189.8 211.6h0M189.7 198.0h0M148.1 211.4h0M280.2 116.8h0M152.0 235.9h0M127.8 234.0h0M266.8 131.5h0M311.3 78.2h0M349.0 69.5h0M153.9 227.0h0M92.1 265.6h0M234.0 152.2h0M378.7 58.4h0M156.3 221.8h0M186.3 221.0h0M344.2 92.2h0M267.7 151.7h0M252.5 129.3h0M289.4 108.9h0M137.3 244.2h0M213.0 188.0h0M151.3 224.0h0M252.4 147.1h0M264.3 125.4h0M229.4 160.7h0M296.2 121.5h0M134.7 257.6h0M215.9 186.3h0M93.4 278.4h0M157.3 226.1h0M120.2 258.1h0M172.9 225.8h0M346.5 65.7h0M348.3 90.8h0M170.6 222.8h0M238.6 174.1h0M166.7 223.8h0M158.7 216.8h0M219.4 170.2h0M358.2 69.4h0M348.1 42.2h0M342.1 70.1h0M356.7 61.8h0M328.4 84.8h0M134.6 233.4h0M95.8 267.9h0M179.2 204.8h0M108.8 258.8h0M156.0 242.9h0M144.9 234.5h0M225.5 170.5h0M357.1 81.5h0M274.8 132.0h0M276.6 131.6h0M215.3 193.9h0M329.0 104.6h0M270.3 133.6h0M373.8 40.5h0M107.6 260.0h0M185.3 210.1h0M264.5 114.1h0M182.8 201.6h0M193.9 195.9h0M191.8 180.5h0M317.2 116.3h0M153.0 225.7h0M289.6 100.4h0M148.5 221.2h0M258.9 150.7h0M244.4 173.3h0M144.7 238.4h0M251.4 154.1h0M135.6 240.1h0M241.5 178.5h0M276.8 145.7h0M164.2 202.2h0M157.3 225.5h0M162.4 228.7h0M103.3 266.1h0M240.5 165.7h0M254.7 156.9h0M352.2 61.3h0M119.6 264.5h0M179.8 209.7h0M375.8 69.1h0M236.2 167.1h0M218.7 176.1h0M206.5 203.0h0M235.0 169.3h0M301.6 130.9h0M107.4 267.5h0M216.9 204.9h0M112.7 254.6h0M120.4 254.6h0M195.0 187.0h0M136.8 230.8h0M148.1 234.8h0M210.9 163.3h0M333.9 86.6h0M364.3 82.3h0M221.7 181.6h0M157.6 219.2h0M237.0 158.9h0M183.9 213.5h0M321.8 118.1h0M366.7 59.1h0M95.2 274.1h0M102.5 270.3h0M282.2 125.2h0M372.2 62.9h0M164.5 223.2h0M258.5 161.1h0M95.8 270.3h0M293.0 120.6h0M224.1 177.3h0M377.4 45.6h0M360.8 62.6h0M125.7 249.6h0M148.1 217.0h0M256.6 139.6h0M132.5 234.1h0M252.3 142.4h0M301.2 105.1h0M232.5 158.4h0M209.5 192.9h0M380.5 66.4h0M334.2 98.9h0M291.5 109.8h0M264.7 145.1h0M138.1 227.9h0M148.6 238.9h0M263.6 150.4h0M291.4 116.0h0M180.2 207.8h0M235.7 173.8h0M175.5 220.2h0M335.5 79.1h0M217.3 167.6h0M168.9 197.6h0M318.8 95.1h0M200.8 184.0h0M294.6 118.1h0M158.7 231.1h0M248.5 129.7h0M193.1 188.3h0M145.1 231.0h0M270.4 111.2h0M295.2 115.1h0M251.2 143.1h0M215.1 184.1h0M292.0 127.4h0M123.4 257.1h0M99.6 268.6h0M151.6 232.4h0M290.4 123.7h0M236.1 175.9h0M175.1 190.6h0M274.0 130.1h0M186.1 193.7h0M185.5 204.2h0M304.2 122.6h0M376.5 57.0h0M382.8 51.1h0M168.2 208.8h0M250.8 155.8h0M153.6 230.7h0M143.0 226.0h0M153.8 235.6h0M289.7 115.3h0M299.3 88.6h0M209.1 181.9h0M176.1 216.6h0M173.9 217.6h0M182.1 207.1h0M315.0 101.5h0M198.5 200.5h0M154.6 234.0h0M324.7 71.2h0M135.9 234.7h0M360.2 68.1h0M199.0 191.4h0M308.0 117.3h0M227.7 181.8h0M279.2 131.5h0M267.6 132.6h0M246.5 175.1h0M357.7 57.7h0M239.6 158.8h0M237.1 186.4h0M303.1 118.6h0M214.5 187.4h0M191.4 198.3h0M264.5 154.5h0M208.8 219.4h0M143.4 239.4h0M246.4 151.6h0M186.0 217.0h0M227.4 193.0h0M323.3 100.7h0M372.8 47.3h0M386.0 51.0h0M116.9 250.8h0M348.6 90.0h0M372.7 55.0h0M204.0 194.9h0M193.6 197.8h0M214.7 190.2h0M120.4 238.0h0M275.0 137.0h0M158.6 226.5h0M148.8 235.3h0M214.5 159.9h0M321.3 115.4h0M112.3 255.8h0M238.5 167.4h0M355.0 64.4h0M334.2 84.8h0M132.9 240.0h0M166.6 200.2h0M101.6 265.1h0M304.7 125.6h0M110.2 254.5h0M253.4 151.8h0M323.4 73.4h0M274.9 144.8h0M325.6 76.5h0M253.5 130.3h0M105.0 264.9h0M140.4 244.3h0M340.9 64.9h0M129.7 245.8h0M186.5 209.1h0M202.5 190.1h0M289.6 111.5h0M386.6 51.8h0M302.7 124.8h0M129.5 268.3h0M110.1 269.8h0M220.0 150.7h0M131.8 257.6h0M197.2 206.6h0M256.4 151.6h0M223.6 182.0h0M186.4 216.5h0M200.8 188.4h0M303.4 108.5h0M126.7 255.0h0M218.1 169.7h0M285.9 115.7h0M372.8 42.2h0M174.7 218.7h0M314.3 89.9h0M294.5 115.9h0M123.7 245.4h0M102.2 274.7h0M112.9 266.5h0M120.1 272.2h0M278.1 120.6h0M102.7 262.4h0M299.4 117.8h0M246.3 132.4h0M355.0 65.0h0M172.3 222.6h0M338.7 85.1h0M358.0 81.5h0M222.2 163.4h0M196.1 189.7h0M233.2 164.1h0M316.8 112.3h0M336.4 101.6h0M260.8 158.3h0M147.5 234.4h0M96.5 269.1h0M319.0 94.5h0M307.4 108.8h0M183.0 187.8h0M169.6 205.6h0M329.3 68.9h0M192.0 202.0h0M135.1 245.0h0M265.6 126.0h0M383.8 60.3h0M256.1 149.7h0M111.5 260.2h0M148.2 240.8h0M179.1 212.8h0M379.8 40.6h0M148.4 225.2h0M173.8 196.6h0M105.3 269.1h0M175.3 210.2h0M328.3 104.8h0M173.3 205.1h0M292.8 104.1h0M385.0 60.9h0M128.2 255.6h0M162.8 205.3h0M192.6 210.9h0M96.2 269.4h0M101.1 276.4h0M352.3 81.0h0M381.6 44.3h0M210.2 181.1h0M351.2 72.4h0M150.8 199.0h0M199.1 201.0h0M273.6 130.1h0M171.5 224.1h0M269.6 92.4h0M251.9 159.9h0M372.4 58.5h0M316.8 87.2h0M183.7 229.5h0M244.9 166.8h0M220.8 161.7h0M228.8 156.5h0M235.4 171.6h0M214.3 202.4h0M101.3 271.4h0M132.9 240.4h0M158.9 247.5h0M366.1 55.4h0M355.3 90.7h0M270.6 144.5h0M346.7 76.6h0M305.9 102.6h0M257.2 138.2h0M165.2 219.1h0M143.9 252.2h0M100.5 269.3h0M359.1 57.0h0M180.2 224.6h0M378.5 66.2h0M100.0 270.3h0M231.5 182.7h0M363.8 67.7h0M106.2 275.2h0M389.0 44.3h0M298.8 106.4h0M169.5 211.2h0M376.1 57.0h0M310.9 108.0h0M168.0 211.0h0M353.7 65.8h0M158.4 210.6h0M332.6 82.1h0M325.0 117.0h0M270.9 134.1h0M231.4 151.5h0M176.2 203.2h0M138.1 232.9h0M205.8 186.2h0M132.5 236.9h0M233.0 180.3h0M249.2 139.4h0M291.1 117.7h0M194.5 214.1h0M207.4 186.0h0M290.4 135.5h0M191.3 196.6h0M119.8 260.5h0M340.0 113.8h0M134.9 234.1h0M108.2 266.5h0M157.8 213.0h0M326.5 93.2h0M296.8 108.2h0M124.2 252.1h0M263.7 122.6h0M334.7 59.1h0M358.9 76.7h0M234.6 166.4h0M333.9 105.9h0M188.3 203.6h0M99.5 270.7h0M135.3 234.2h0M164.9 204.2h0M103.4 267.9h0M371.5 44.0h0M388.9 60.0h0M342.6 101.4h0M232.2 173.4h0M207.3 201.0h0M180.3 206.5h0M242.4 149.8h0M128.4 270.0h0M301.7 110.0h0M184.3 220.4h0M311.4 95.3h0M120.5 257.1h0M167.2 228.9h0M320.2 77.1h0M306.9 90.3h0M267.1 128.1h0M244.1 151.4h0M380.5 52.3h0M268.7 126.1h0M177.5 201.0h0M146.2 222.9h0M206.7 173.2h0M356.5 75.5h0M139.3 234.0h0M334.7 72.6h0M297.2 101.3h0M139.0 231.5h0M94.6 266.5h0M110.6 262.8h0M229.6 173.7h0M160.9 207.6h0M284.7 117.7h0M238.5 155.5h0M194.5 206.0h0M239.8 148.0h0M286.3 119.7h0M283.0 111.4h0M130.4 237.3h0M161.6 214.4h0M147.3 273.9h0M252.6 164.0h0M365.3 68.4h0M216.5 182.4h0M108.7 253.2h0M196.4 183.0h0M171.1 224.4h0M211.7 183.1h0M374.1 71.2h0M371.5 58.7h0M239.1 168.2h0M288.4 124.5h0M98.0 273.8h0M245.3 161.2h0M256.0 161.0h0M324.4 88.5h0M206.8 183.8h0M203.7 180.4h0M328.5 92.0h0M130.1 250.8h0M367.6 62.8h0M280.1 99.2h0M334.0 78.4h0M337.0 78.2h0M197.9 189.7h0M354.8 62.9h0M286.1 119.6h0M258.3 157.1h0M128.4 253.2h0M224.3 190.4h0M240.7 132.0h0M133.6 233.9h0M182.3 191.1h0M219.0 189.5h0M152.7 238.0h0M159.7 217.0h0M198.8 186.4h0M129.3 249.6h0M176.0 227.9h0M198.5 212.1h0M161.5 214.9h0M153.0 240.2h0M204.1 186.5h0M269.7 155.1h0M108.5 278.9h0M181.0 213.9h0M169.2 224.2h0M247.7 109.3h0M119.1 259.4h0M126.0 234.7h0M361.2 58.8h0M237.1 173.7h0M249.9 124.9h0M136.8 266.7h0M95.7 270.6h0M115.9 263.1h0M104.1 263.5h0M189.6 208.9h0M158.4 218.0h0M368.9 60.0h0M103.6 253.6h0M90.8 280.5h0M115.7 262.6h0M93.0 273.7h0M221.1 170.8h0M199.3 179.3h0M174.8 203.2h0M369.8 63.3h0M293.9 122.4h0M144.8 244.0h0M118.8 264.2h0M339.9 97.6h0M328.1 98.1h0M113.5 261.7h0M324.3 92.8h0M253.5 164.8h0M304.3 101.9h0M287.5 112.3h0M178.4 213.4h0M329.9 71.9h0M103.8 265.0h0M358.7 48.1h0M106.7 259.3h0M269.4 176.1h0M216.5 154.7h0M261.2 155.6h0M356.7 62.1h0M287.6 107.0h0M223.7 149.4h0M276.0 139.4h0M190.8 194.6h0M131.9 245.1h0M130.1 262.3h0M165.1 203.9h0M345.7 49.3h0M207.7 187.6h0M276.6 147.1h0M183.1 207.3h0M320.3 117.5h0M259.9 158.3h0M160.4 227.5h0M106.9 259.8h0M302.8 113.9h0M141.5 251.0h0M298.7 121.2h0M131.7 245.2h0M313.7 108.8h0M278.9 130.8h0M142.1 247.0h0M211.1 180.5h0M266.8 158.3h0M142.3 242.0h0M146.8 236.2h0M142.0 219.2h0M110.7 247.2h0M366.6 60.5h0M152.3 224.5h0M237.3 186.7h0M141.6 230.1h0M166.1 207.9h0M340.9 94.3h0M144.3 214.2h0M112.5 260.8h0M324.2 78.5h0M226.9 124.6h0M210.5 158.7h0M359.7 65.8h0M188.9 200.5h0M304.1 107.7h0M199.4 181.2h0M206.6 187.3h0M290.5 124.5h0M198.2 193.9h0M98.8 278.3h0M164.0 232.7h0M333.8 75.0h0M179.8 199.8h0M253.0 133.5h0M252.9 152.2h0M310.1 118.9h0M193.4 216.4h0M270.6 138.6h0M190.6 191.7h0M162.4 209.0h0M113.0 247.9h0M316.0 124.1h0M114.4 255.9h0M194.1 190.2h0M262.6 163.6h0M165.9 211.1h0M224.6 171.0h0M320.7 103.7h0M292.6 94.2h0M185.0 187.6h0M346.8 125.4h0M332.4 94.1h0M316.1 76.2h0M152.6 222.4h0M198.7 191.7h0M387.1 53.3h0M248.7 152.3h0M159.1 210.8h0M210.6 183.8h0M190.3 213.5h0M242.1 148.7h0M177.2 196.4h0M363.4 50.4h0M223.9 136.0h0M221.9 190.2h0M100.5 271.1h0M155.6 225.6h0M148.3 234.4h0M203.6 204.6h0M111.0 258.7h0M174.3 196.8h0M323.6 110.9h0M224.2 135.7h0M345.1 74.3h0M200.5 206.0h0M246.6 174.1h0M332.1 88.4h0M190.5 198.5h0M216.1 177.7h0M202.9 186.4h0M231.8 165.4h0M167.0 236.5h0M286.2 130.5h0M152.0 251.8h0M110.8 265.1h0M127.5 245.3h0M135.6 239.6h0M223.4 200.7h0M302.3 105.0h0M204.8 201.0h0M137.8 231.0h0M121.9 257.4h0M300.3 109.7h0M197.1 189.1h0M98.1 266.9h0M276.5 120.6h0M317.4 102.9h0M366.3 82.4h0M333.4 93.9h0M100.4 264.7h0M274.8 138.7h0M244.0 113.4h0M194.1 195.7h0M123.7 270.8h0M132.4 222.1h0M303.9 107.2h0M178.8 221.5h0M260.8 166.2h0M245.4 171.8h0M286.6 118.2h0M282.5 146.0h0M194.0 216.6h0M133.8 240.5h0M227.1 172.2h0M162.5 211.3h0M293.5 115.3h0M240.9 177.1h0M247.0 134.9h0M290.5 135.2h0M284.8 130.2h0M218.3 182.6h0M316.9 93.7h0M301.0 122.6h0M307.3 107.1h0M118.5 254.1h0M306.2 89.5h0M239.7 161.7h0M216.1 174.1h0M301.2 123.6h0M337.7 87.0h0M317.5 99.8h0M106.5 261.5h0M338.2 76.3h0M139.8 231.6h0M237.9 171.2h0M352.4 53.1h0M150.9 213.9h0M273.0 138.1h0M182.0 224.6h0M137.2 244.5h0M330.7 87.9h0M309.1 133.6h0M350.3 79.8h0M109.9 258.2h0M147.8 234.7h0M114.0 265.9h0M112.3 257.4h0M222.2 184.5h0M318.3 95.3h0M317.3 102.5h0M93.8 275.9h0M178.9 179.4h0M178.8 224.3h0M368.9 68.5h0M168.4 222.0h0M300.5 115.5h0M139.5 236.2h0M148.0 249.2h0M266.4 139.5h0M242.9 168.4h0M241.4 128.6h0M137.2 261.9h0M323.4 98.2h0M324.5 98.3h0M159.1 211.7h0M244.1 140.5h0M181.0 211.3h0M144.9 199.2h0M362.0 83.0h0M239.7 146.3h0M119.0 247.8h0M208.1 184.7h0M162.1 245.6h0M376.4 56.3h0M169.4 229.1h0M218.5 156.5h0M181.0 198.4h0M122.6 258.7h0M340.6 65.1h0M281.0 85.4h0M352.3 62.1h0M330.8 83.5h0M252.4 145.0h0M245.8 163.5h0M279.7 135.6h0M195.9 188.4h0M287.4 128.9h0M129.4 244.7h0M247.3 155.2h0M280.3 112.5h0M130.4 251.5h0M104.4 263.7h0M202.1 204.2h0M301.2 94.5h0M176.6 223.7h0M138.2 227.3h0M279.9 133.4h0M288.0 105.6h0M169.0 204.6h0M137.3 247.5h0M208.1 161.9h0M141.8 247.0h0M94.1 282.8h0M319.9 107.2h0M231.2 139.3h0M142.8 243.1h0M172.0 211.7h0M178.4 209.9h0M207.2 185.0h0M357.3 84.3h0M312.7 125.4h0M122.8 254.3h0M282.2 142.9h0M212.3 174.7h0M161.4 253.3h0M111.0 254.4h0M257.9 126.9h0M372.2 52.8h0M100.6 273.2h0M349.6 89.8h0M328.8 70.2h0M180.4 209.9h0M284.7 130.2h0M281.7 156.1h0M278.4 125.8h0M258.0 121.8h0M314.4 81.0h0M332.4 86.0h0M158.1 231.1h0M226.8 173.7h0M348.6 75.0h0M120.1 247.6h0M238.1 161.3h0M310.1 106.6h0M345.1 116.2h0M267.6 137.5h0M230.4 149.0h0M223.1 166.3h0M164.2 216.9h0M183.6 179.1h0M276.6 131.3h0M339.4 85.6h0M364.3 65.7h0M355.4 56.5h0M165.2 215.6h0M159.3 226.8h0M115.2 263.7h0M344.4 83.5h0M240.2 136.7h0M181.7 214.8h0M264.9 158.5h0M319.5 95.4h0M287.5 84.6h0M144.7 245.1h0M240.6 173.0h0M96.3 272.8h0M168.0 212.2h0M242.3 173.0h0M262.9 152.5h0M150.1 230.9h0M274.3 131.8h0M186.2 205.5h0M109.0 269.4h0M381.4 52.9h0M240.8 139.8h0M253.1 140.1h0M137.3 242.8h0M297.5 120.8h0M112.1 256.5h0M137.6 249.0h0M321.9 89.1h0M300.0 125.7h0M210.1 205.2h0M136.1 250.8h0M220.3 177.6h0M165.8 226.6h0M191.6 172.7h0M140.8 255.0h0M349.6 63.2h0M319.0 85.9h0M380.6 46.2h0M185.6 190.8h0M207.2 184.9h0M275.3 126.9h0M351.9 71.3h0M127.6 258.0h0M130.3 249.0h0M111.1 256.2h0M105.8 263.3h0M151.9 218.6h0M173.4 224.2h0M210.7 166.0h0M275.8 123.9h0M295.2 135.0h0M344.6 73.2h0M309.4 107.0h0M175.7 215.6h0M184.8 204.5h0M130.8 254.1h0M342.5 81.7h0M350.4 81.9h0M206.1 173.3h0M144.2 234.4h0M177.7 204.1h0M360.5 65.4h0M119.9 242.4h0M286.4 113.2h0M101.9 270.1h0M264.6 128.4h0M314.1 108.5h0M251.3 168.5h0M93.6 275.3h0M112.1 260.1h0M221.9 180.9h0M298.6 102.2h0M127.5 242.7h0M194.9 181.4h0M367.5 48.9h0M93.2 281.4h0M376.8 43.8h0M144.3 234.0h0M144.1 230.6h0M328.9 84.4h0M373.2 52.1h0M291.6 116.0h0M93.1 276.1h0M138.8 235.5h0M372.3 62.0h0M239.4 156.6h0M309.9 101.4h0M315.3 98.3h0M243.5 177.0h0M155.9 212.0h0M176.3 207.5h0M331.9 97.6h0M372.3 64.0h0M148.9 220.0h0M274.7 114.7h0M303.4 109.6h0M142.4 249.1h0M244.6 164.8h0M270.8 134.1h0M196.1 189.6h0M193.8 193.0h0M179.5 204.9h0M291.6 100.0h0M343.1 60.5h0M250.5 149.5h0M118.1 269.2h0M290.7 122.9h0M193.0 175.6h0M353.1 56.5h0M213.4 179.0h0M252.8 131.8h0M250.6 154.1h0M343.0 69.5h0M274.2 120.0h0M238.0 138.0h0M248.2 158.3h0M253.4 153.1h0M284.1 129.8h0M354.5 80.2h0M202.1 187.6h0M222.3 188.0h0M293.5 104.3h0M335.2 95.9h0M316.7 94.9h0M282.4 119.2h0M247.7 141.5h0M129.5 251.4h0M109.2 263.4h0M126.1 258.5h0M298.8 103.0h0M107.4 264.9h0M153.7 217.1h0M263.0 148.2h0M198.8 209.2h0M98.5 265.9h0M364.7 78.6h0M333.0 74.6h0M94.0 280.2h0M246.2 157.5h0M354.0 79.8h0M123.9 241.8h0M219.3 195.9h0M192.5 196.3h0M387.0 41.8h0M111.9 266.7h0M111.0 256.0h0M209.2 181.0h0M217.2 172.8h0M196.8 185.0h0M251.1 164.5h0M168.4 238.3h0M290.9 108.0h0M207.6 204.7h0M377.7 67.3h0M114.2 256.2h0M261.3 151.3h0M148.1 257.2h0M258.1 136.0h0M235.4 154.9h0M161.2 211.4h0M196.3 220.0h0M230.4 180.5h0M258.7 132.9h0M345.5 77.0h0M244.8 165.0h0M340.3 79.6h0M247.4 168.7h0M241.7 160.5h0M131.9 257.4h0M274.4 138.0h0M386.1 50.0h0M151.7 223.6h0M314.3 107.9h0M253.3 160.3h0M113.9 248.3h0M156.8 233.5h0M221.1 191.5h0M125.8 258.3h0M116.0 260.7h0M193.0 195.9h0M371.0 46.5h0M163.0 211.7h0M374.9 52.6h0M141.9 227.4h0M198.8 195.2h0M335.0 81.6h0M199.6 189.8h0M335.4 104.8h0M242.3 162.4h0M247.2 164.4h0M315.1 82.5h0M303.7 119.1h0M128.2 241.7h0M237.4 182.8h0M358.6 50.4h0M173.1 205.5h0M134.5 252.2h0M355.0 102.3h0M266.9 117.9h0M305.5 108.6h0M261.6 133.4h0M123.3 265.7h0M347.5 108.1h0M152.4 234.4h0M325.2 108.7h0M223.9 166.0h0M190.9 187.8h0M154.2 236.1h0M347.2 73.7h0M323.4 108.2h0M132.8 243.2h0M375.5 74.2h0M145.9 234.1h0M371.7 60.4h0M257.0 160.0h0M228.0 174.1h0M291.4 137.2h0M324.3 89.6h0M202.1 180.9h0M330.1 104.9h0M338.1 93.4h0M204.8 182.7h0M291.5 107.5h0M259.2 136.7h0M245.8 157.2h0M246.6 153.2h0M136.3 232.4h0M328.9 81.9h0M267.9 145.8h0M120.3 263.2h0M233.1 184.9h0M152.6 221.6h0M213.2 167.8h0M300.0 121.2h0M104.2 265.2h0M292.8 128.7h0M200.4 203.1h0M119.4 252.2h0M121.0 252.8h0M374.0 38.3h0M203.4 170.8h0M165.9 228.1h0M299.6 137.4h0M91.7 269.4h0M367.2 44.2h0M237.5 154.9h0M112.1 265.0h0M242.7 127.4h0M327.8 92.8h0M233.6 181.4h0M103.3 254.8h0M190.6 186.0h0M134.3 249.9h0M93.2 279.3h0M281.2 116.3h0M280.4 138.3h0M120.1 261.2h0M199.7 175.9h0M284.8 124.3h0M145.7 228.2h0M234.9 159.5h0M130.1 248.2h0M114.1 251.0h0M287.1 97.1h0M178.4 193.1h0M267.8 117.7h0M259.1 142.0h0M326.0 105.8h0M122.1 248.2h0M220.0 165.3h0M107.3 260.9h0M308.7 116.0h0M216.2 177.0h0M277.7 131.6h0M338.3 75.1h0M268.3 137.6h0M137.3 236.8h0M181.1 220.4h0M312.8 104.5h0M183.7 219.1h0M254.3 154.3h0M215.4 182.7h0M272.2 108.1h0M308.3 104.8h0M266.1 124.8h0M332.0 102.3h0M144.9 238.4h0M314.4 107.5h0M146.2 231.8h0M254.8 164.0h0M327.7 66.4h0M276.3 139.6h0M105.4 263.0h0M322.1 83.7h0M181.4 197.8h0M127.9 247.2h0M372.0 61.4h0M192.8 210.1h0M130.3 239.8h0M326.2 83.6h0M264.7 151.9h0M122.2 261.1h0M99.2 265.0h0M353.5 62.4h0M368.0 64.7h0M349.3 71.1h0M317.5 108.6h0M107.3 259.1h0M351.8 64.2h0M176.9 247.8h0M194.9 208.6h0M143.3 254.0h0M167.6 221.9h0M100.0 266.2h0M363.7 80.7h0M111.7 270.3h0M385.1 45.8h0M107.2 262.3h0M158.3 231.3h0M116.2 256.3h0M364.4 44.2h0M131.8 251.4h0M287.8 132.0h0M229.4 122.4h0M353.2 64.5h0M380.2 57.1h0M223.0 162.8h0M239.8 174.0h0M251.8 188.5h0M274.0 135.7h0M229.5 174.0h0M326.4 106.1h0M365.8 87.4h0M217.2 134.9h0M370.5 53.5h0M364.5 83.6h0M247.0 154.2h0M256.6 105.0h0M324.6 102.8h0M259.0 113.4h0M318.9 112.6h0M330.3 105.0h0M119.4 251.3h0M353.2 56.9h0M203.9 195.8h0M153.7 223.7h0M272.8 128.6h0M157.0 218.2h0M228.5 157.5h0M286.1 103.7h0M239.4 173.1h0M218.9 192.9h0M195.2 184.2h0M303.2 85.8h0M238.9 172.4h0M257.4 165.5h0M158.5 231.0h0M187.6 216.6h0M159.1 233.6h0M323.4 97.1h0M297.9 110.5h0M313.7 88.8h0M380.2 50.9h0M293.8 81.8h0M310.0 127.4h0M318.1 78.8h0M302.4 116.1h0M350.4 80.5h0M326.4 92.0h0M236.0 163.0h0M379.0 44.2h0M339.2 77.0h0M250.5 163.3h0M293.5 129.0h0M322.1 72.1h0M331.4 88.5h0M233.7 120.6h0M170.2 214.0h0M280.8 130.0h0M267.7 106.9h0M260.7 164.8h0M282.0 97.5h0M266.4 157.3h0M268.0 99.4h0M277.7 141.5h0M324.0 59.8h0M112.0 256.1h0M135.6 228.0h0M210.7 187.5h0M222.2 155.5h0M175.3 208.1h0M219.9 179.2h0M231.9 140.7h0M273.7 119.8h0M243.4 161.0h0M285.4 103.6h0M211.3 187.9h0M209.2 153.2h0M165.3 243.5h0M222.8 188.8h0M372.2 40.5h0M219.6 158.3h0M290.7 112.6h0M245.5 163.7h0M300.5 123.5h0M211.2 197.0h0M237.8 178.1h0M96.1 265.0h0M271.8 137.6h0M165.8 215.8h0M244.9 164.7h0M158.8 221.5h0M291.1 81.8h0M301.7 101.8h0M330.2 126.3h0M307.5 107.6h0M99.8 278.0h0M298.9 112.5h0M213.7 174.9h0M207.9 185.2h0M188.8 197.1h0M224.2 184.3h0M207.5 177.7h0M147.1 210.7h0M278.9 142.2h0M278.9 137.3h0M298.8 105.5h0M231.7 162.0h0M230.6 178.1h0M315.7 106.6h0M345.5 63.4h0M161.9 237.7h0M296.9 151.6h0M317.7 99.8h0M255.6 122.5h0M295.4 132.0h0M299.9 133.2h0M354.5 59.1h0M325.1 66.0h0M320.1 72.2h0M286.1 113.1h0M225.3 145.0h0M156.8 219.2h0M242.1 146.0h0M199.3 169.1h0M214.4 184.0h0M214.7 198.1h0M90.7 263.8h0M224.4 164.5h0M300.9 101.6h0M240.7 137.3h0M289.2 120.9h0M286.0 98.8h0M292.5 129.3h0M123.9 246.4h0M250.2 122.5h0M307.1 112.2h0M285.5 123.8h0M290.5 139.1h0M373.1 57.1h0M145.2 228.2h0M248.1 178.7h0M235.0 165.2h0M189.7 202.4h0M194.6 212.9h0M177.9 199.7h0M217.3 172.7h0M119.1 246.4h0M286.3 149.5h0M349.2 61.1h0M245.4 123.3h0M193.1 179.5h0M232.7 189.2h0M223.9 185.6h0M212.5 165.7h0M330.1 74.0h0M334.6 118.7h0M355.3 60.3h0M204.8 186.0h0M311.0 88.2h0M281.5 161.0h0M367.5 50.9h0M194.5 174.7h0M198.3 193.4h0M224.9 174.2h0M118.4 251.2h0M317.2 83.6h0M274.7 87.4h0M206.8 169.2h0M253.9 174.0h0M223.5 131.7h0M268.5 154.4h0M274.0 164.4h0M208.9 201.1h0M259.2 149.2h0M240.8 176.7h0M255.3 165.1h0M192.4 178.4h0M202.4 196.3h0M300.4 91.6h0M301.4 68.9h0M219.6 189.0h0M206.8 172.0h0M161.9 223.8h0M289.4 92.5h0M304.2 124.1h0M247.8 161.9h0M228.8 159.1h0M159.6 210.9h0M221.7 156.7h0M259.0 146.8h0M332.6 75.5h0M362.0 51.6h0M258.2 153.3h0M250.9 155.8h0M245.0 169.8h0M127.1 256.2h0M227.6 138.3h0M245.8 156.4h0M190.0 186.4h0M232.5 128.7h0M221.0 175.9h0M110.5 258.5h0M377.4 58.0h0M256.3 134.8h0M264.0 150.2h0M252.1 144.5h0M336.6 88.0h0M269.7 151.1h0M232.8 189.6h0M211.8 174.3h0M191.4 170.5h0M271.4 97.6h0M334.5 104.2h0M313.7 127.4h0M142.3 245.6h0M361.2 86.7h0M278.8 121.0h0M213.1 170.3h0M231.4 184.8h0M275.9 143.0h0M287.3 131.0h0M187.9 208.8h0M196.5 193.8h0M285.5 88.1h0M199.5 206.9h0M229.9 171.8h0M233.8 146.1h0M310.2 96.0h0M253.2 162.2h0M255.4 131.5h0M219.5 152.0h0M266.5 145.3h0M282.8 139.0h0M241.5 172.3h0M253.1 162.0h0M239.0 165.5h0M195.8 192.5h0M362.8 41.0h0M294.2 115.2h0M315.4 90.1h0M266.6 163.0h0M214.0 171.1h0M107.1 266.6h0M357.3 81.0h0M366.1 48.8h0M198.8 176.9h0M267.9 156.7h0M184.9 219.0h0M239.9 117.9h0M249.7 154.1h0M258.4 165.1h0M220.8 157.8h0M175.0 164.0h0M173.0 167.6h0M174.0 175.0h0M167.4 180.6h0M162.4 185.6h0M164.4 189.0h0M159.6 191.6h0M160.0 198.0h0M152.6 199.6h0M150.0 205.0h0M137.0 207.0h0M142.0 214.0h0M148.0 210.0h0M230.0 103.5h0M233.5 104.5h0M243.6 103.0h0M251.0 100.0h0M252.0 106.0h0M245.6 107.4h0M222.4 115.4h0M236.6 116.0h0M236.0 120.0h0M227.6 122.4h0M231.6 122.4h0M252.6 124.4h0M224.0 128.0h0M231.4 128.0h0M222.0 130.6h0M226.0 134.0h0M230.0 134.0h0M220.0 140.0h0M217.0 145.0h0M223.0 145.0h0" stroke="#F2074F" stroke-width="3.4" stroke-linecap="round" fill="none"/><path d="M185.5 203.3h0M144.3 235.3h0M115.8 262.8h0M256.5 147.9h0M207.7 184.6h0M380.0 54.1h0M313.7 94.8h0M308.9 106.8h0M105.7 263.5h0M231.3 170.6h0M244.6 155.1h0M105.3 267.0h0M212.1 190.4h0M176.6 216.9h0M148.6 232.9h0M296.7 117.4h0M198.6 190.3h0M119.7 257.0h0M186.1 209.7h0M336.9 89.4h0M191.1 205.0h0M141.2 241.1h0M109.9 260.7h0M220.6 177.0h0M260.3 140.9h0M196.6 200.1h0M312.6 102.3h0M223.6 172.6h0M296.8 111.2h0M233.8 167.6h0M240.3 163.7h0M196.5 197.8h0M121.4 250.6h0M270.3 139.6h0M316.0 98.3h0M275.9 122.9h0M198.2 197.6h0M115.4 259.7h0M140.8 235.3h0M230.3 173.1h0M257.9 149.5h0M98.4 275.9h0M349.9 78.3h0M273.1 135.8h0M275.2 126.1h0M248.0 148.9h0M215.8 179.2h0M150.6 234.9h0M265.0 140.4h0M268.9 126.0h0M355.2 70.4h0M345.5 76.5h0M215.5 185.2h0M314.0 101.3h0M358.3 76.9h0M197.6 199.2h0M244.3 162.5h0M241.0 163.4h0M212.8 192.8h0M210.1 189.7h0M149.9 236.6h0M141.3 239.4h0M171.4 214.8h0M240.6 155.2h0M258.1 138.3h0M303.4 104.7h0M166.1 223.3h0M221.5 173.0h0M206.3 187.3h0M137.0 241.6h0M374.8 58.4h0M178.0 212.9h0M266.5 147.3h0M266.7 134.7h0M289.0 131.7h0M307.8 106.2h0M351.8 71.3h0M174.4 212.5h0M260.5 151.1h0M173.4 217.4h0M168.8 223.7h0M295.4 114.9h0M282.8 133.6h0M277.9 130.9h0M124.7 254.0h0M364.1 63.5h0M249.9 152.4h0M209.1 183.9h0M336.1 90.5h0M121.9 257.1h0M169.6 207.3h0M130.0 249.0h0M176.0 213.1h0M293.6 112.8h0M131.7 243.9h0M286.2 129.8h0M242.1 158.7h0M176.6 215.9h0M313.1 106.9h0M103.1 263.1h0M155.4 234.1h0M217.7 173.9h0M193.6 196.5h0M189.9 201.0h0M389.6 49.2h0M229.8 171.6h0M258.6 145.6h0M206.9 187.1h0M144.1 239.0h0M119.9 258.8h0M284.6 124.2h0M275.4 135.8h0M383.7 53.9h0M157.3 225.2h0M192.1 198.6h0M187.6 202.9h0M236.0 175.0h0M104.7 268.0h0M296.8 119.7h0M278.1 135.0h0M117.3 256.3h0M272.4 138.1h0M178.9 205.2h0M201.2 187.5h0M144.8 238.8h0M265.8 139.6h0M237.0 165.5h0M97.4 274.2h0M131.6 254.6h0M278.0 131.2h0M127.7 250.7h0M209.5 177.5h0M260.7 151.6h0M136.8 243.4h0M217.1 177.8h0M198.4 199.2h0M129.3 249.4h0M294.2 115.2h0M114.2 258.3h0M305.6 112.4h0M175.7 217.5h0M183.8 207.0h0M150.5 232.5h0M314.7 112.7h0M390.0 46.2h0M141.5 237.0h0M250.0 157.3h0M103.3 267.2h0M193.0 194.6h0M149.4 235.0h0M251.0 151.9h0M145.2 243.9h0M245.8 159.7h0M360.3 75.1h0M157.0 233.5h0M126.2 254.1h0M315.4 107.4h0M106.3 264.0h0M280.2 126.5h0M327.6 92.2h0M127.9 254.3h0M221.4 179.8h0M370.0 67.0h0M131.8 251.2h0M308.0 107.3h0M261.4 142.5h0M111.4 260.9h0M137.0 249.0h0M340.8 75.6h0M109.6 260.9h0M183.0 209.6h0M100.9 268.3h0M158.9 228.9h0M148.0 232.6h0M294.7 118.0h0M113.7 258.7h0M121.8 256.7h0M228.1 173.4h0M144.3 243.5h0M222.5 179.0h0M106.1 268.1h0M141.2 237.8h0M179.9 209.1h0M274.2 132.5h0M306.1 101.1h0M141.7 235.6h0M219.2 177.8h0M315.0 103.5h0M225.8 180.8h0M295.1 114.3h0M313.6 96.4h0M176.9 215.3h0M246.2 155.5h0M226.8 169.2h0M145.4 235.3h0M275.6 123.3h0M321.1 96.8h0M101.8 270.0h0M356.4 71.7h0M106.3 264.9h0M194.4 197.6h0M112.7 264.6h0M188.9 199.6h0M234.7 175.3h0M218.1 179.4h0M182.5 209.2h0M223.0 188.2h0M268.4 141.0h0M256.9 147.3h0M132.1 248.3h0M231.3 164.0h0M109.6 267.8h0M253.7 152.1h0M103.2 268.7h0M232.1 165.7h0M151.7 233.4h0M104.8 269.7h0M214.2 172.0h0M170.8 212.4h0M107.4 267.0h0M292.4 117.6h0M152.5 230.8h0M258.3 142.2h0M197.6 191.5h0M294.1 123.8h0M169.4 219.9h0M126.2 253.5h0M180.1 199.4h0M262.3 145.2h0M172.9 216.9h0M304.7 112.0h0M182.3 205.7h0M142.1 242.8h0M236.4 169.8h0M235.1 165.8h0M238.3 152.5h0M98.5 271.8h0M224.9 174.8h0M241.0 164.2h0M131.5 246.2h0M104.0 269.4h0M210.6 184.5h0M251.4 152.8h0M100.0 270.5h0M294.5 120.8h0M177.0 217.6h0M162.6 227.3h0M237.0 160.3h0M115.4 261.9h0M300.9 111.6h0M332.8 90.1h0M97.0 268.1h0M178.0 214.9h0M112.5 260.9h0M123.9 252.4h0M294.4 118.9h0M267.4 135.2h0M150.7 230.0h0M91.4 272.7h0M249.9 155.8h0M208.4 184.9h0M275.9 134.3h0M288.9 124.7h0M306.1 106.6h0M204.7 192.9h0M242.2 151.1h0M341.8 80.3h0M196.6 198.1h0M217.0 177.0h0M179.4 210.3h0M256.8 146.1h0M237.1 167.5h0M281.1 133.1h0M290.2 117.8h0M124.5 251.0h0M319.4 98.7h0M283.8 124.8h0M120.9 255.6h0M192.8 198.4h0M166.7 220.5h0M270.1 132.7h0M391.1 47.3h0M196.8 200.1h0M178.8 206.4h0M214.1 183.7h0M315.3 102.2h0M139.6 243.0h0M273.4 125.8h0M171.1 215.9h0M266.5 138.7h0M318.6 101.6h0M184.2 209.4h0M320.1 84.7h0M249.2 151.0h0M232.0 169.3h0M247.4 157.5h0M125.4 253.1h0M140.7 237.4h0M249.6 151.8h0M332.6 89.7h0M114.9 261.9h0M237.3 164.9h0M343.0 76.4h0M264.0 129.2h0M292.6 116.8h0M312.2 102.4h0M217.5 178.9h0M229.5 172.1h0M328.6 94.1h0M110.1 269.2h0M267.7 140.4h0M284.1 128.9h0M311.1 113.0h0M227.1 176.7h0M302.7 109.1h0M344.3 84.5h0M104.6 265.0h0M93.9 277.3h0M131.4 250.9h0M267.5 138.4h0M135.2 248.8h0M99.0 273.2h0M252.5 150.4h0M146.3 239.7h0M147.3 233.7h0M264.8 143.1h0M229.3 165.5h0M268.2 145.3h0M181.4 207.7h0M249.1 151.5h0M253.9 149.9h0M92.9 278.4h0M241.1 169.0h0M212.2 184.1h0M219.9 175.3h0M202.0 192.7h0M387.3 49.4h0M232.6 170.2h0M145.4 236.4h0M351.5 76.7h0M102.5 264.9h0M167.1 215.7h0M294.3 116.9h0M261.3 139.1h0M141.8 236.5h0M280.4 133.4h0M170.1 216.9h0M242.3 159.2h0M191.9 199.5h0M212.3 181.3h0M248.6 152.0h0M112.7 260.5h0M282.9 129.3h0M163.7 222.2h0M107.6 265.4h0M147.4 239.9h0M122.1 255.4h0M121.5 257.7h0M276.5 134.9h0M124.1 256.3h0M245.1 154.1h0M313.3 97.9h0M101.2 271.7h0M186.1 205.9h0M306.1 111.8h0M184.3 201.2h0M217.4 189.9h0M183.6 206.4h0M279.6 139.3h0M282.9 125.7h0M197.4 194.3h0M91.7 273.2h0M319.5 100.3h0M147.9 234.8h0M270.7 135.6h0M316.8 102.9h0M187.2 201.8h0M125.2 254.9h0M194.5 200.2h0M136.8 244.7h0M142.5 237.4h0M343.1 78.2h0M312.0 110.5h0M145.7 236.9h0M222.7 176.4h0M214.1 182.8h0M103.8 267.7h0M373.7 54.6h0M133.1 247.7h0M105.8 265.7h0M339.2 80.3h0M240.1 167.2h0M100.4 270.2h0M179.0 212.7h0M266.3 135.7h0M201.4 197.2h0M364.4 67.2h0M118.1 260.2h0M281.2 133.6h0M223.8 173.9h0M128.8 251.9h0M180.9 208.8h0M160.1 226.7h0M299.8 114.2h0M180.7 204.4h0M265.7 137.4h0M289.6 114.3h0M344.1 71.7h0M176.1 214.3h0M189.6 207.4h0M338.7 87.3h0M119.2 255.5h0M166.3 231.0h0M329.0 94.1h0M159.4 231.2h0M193.5 198.3h0M104.7 268.8h0M289.6 117.9h0M167.9 218.0h0M198.4 190.0h0M111.5 262.6h0M101.7 268.4h0M136.4 240.9h0M184.0 209.3h0M156.0 227.6h0M177.7 210.7h0M155.6 229.5h0M348.9 73.1h0M155.8 228.4h0M247.9 154.6h0M220.8 175.0h0M267.4 139.2h0M319.5 101.5h0M291.9 120.7h0M167.6 218.5h0M203.5 187.4h0M171.8 218.0h0M289.9 126.6h0M157.2 226.9h0M210.6 180.3h0M284.9 135.6h0M203.2 191.4h0M269.5 146.5h0M245.7 150.5h0M166.0 215.8h0M188.4 199.5h0M237.2 161.1h0M210.0 174.4h0M275.1 125.1h0M264.4 142.0h0M129.2 246.6h0M132.8 247.1h0M117.2 256.6h0M174.2 210.7h0M95.1 273.8h0M218.3 178.3h0M179.0 206.4h0M118.9 257.8h0M310.2 106.4h0M109.9 263.6h0M266.1 139.3h0M149.3 232.9h0M271.3 137.6h0M317.3 101.0h0M162.2 223.1h0M271.4 143.4h0M209.4 188.3h0M280.1 136.5h0M122.9 258.0h0M92.2 274.4h0M232.6 176.8h0M230.9 162.5h0M105.3 267.9h0M231.0 166.7h0M227.8 170.5h0M121.3 258.0h0M242.7 163.8h0M151.8 233.6h0M338.0 81.7h0M236.8 165.7h0M188.6 202.1h0M205.0 188.7h0M197.7 191.9h0M211.4 182.0h0M263.6 146.3h0M293.8 114.4h0M203.9 185.5h0M315.5 103.1h0M307.7 108.7h0M366.4 63.0h0M247.0 162.2h0M244.5 159.0h0M118.0 258.1h0M116.9 251.5h0M336.8 86.0h0M221.5 181.1h0M286.4 119.3h0M261.1 148.1h0M378.4 54.6h0M177.3 210.3h0M269.7 135.7h0M279.5 123.6h0M95.4 270.0h0M261.9 135.2h0M134.0 248.3h0M189.1 202.6h0M139.3 236.2h0M97.8 273.4h0M154.7 230.3h0M218.8 176.4h0M287.0 126.0h0M220.1 179.4h0M310.7 105.8h0M153.1 234.3h0M118.5 254.6h0M294.4 118.1h0M170.7 222.9h0M143.1 245.4h0M127.2 250.9h0M114.9 264.5h0M275.3 131.8h0M134.0 241.4h0M300.5 116.1h0M228.5 176.3h0M102.7 267.8h0M212.6 188.3h0M163.4 217.8h0M231.7 163.5h0M341.6 78.6h0M238.9 161.6h0M354.2 73.2h0M262.4 144.7h0M285.4 128.7h0M305.2 105.7h0M179.9 208.1h0M229.7 176.9h0M184.7 205.1h0M308.9 109.7h0M308.1 107.8h0M244.2 158.0h0M235.4 167.8h0M161.5 221.5h0M192.1 200.6h0M156.0 230.8h0M257.7 148.5h0M123.8 252.0h0M144.1 235.7h0M265.7 140.1h0M219.9 181.9h0M246.9 157.8h0M109.9 261.7h0M191.5 205.8h0M386.3 47.6h0M209.7 188.9h0M292.0 118.7h0M166.3 215.0h0M319.0 96.7h0M182.7 204.6h0M154.1 228.4h0M98.8 270.8h0M105.3 265.1h0M188.1 202.9h0M332.9 86.3h0M148.5 230.1h0M197.8 195.8h0M323.1 96.4h0M356.8 68.4h0M285.2 124.4h0M176.9 209.9h0M251.2 149.0h0M147.5 233.9h0M244.5 160.0h0M231.9 169.2h0M302.9 104.3h0M196.0 195.6h0M197.3 198.4h0M184.2 210.7h0M329.2 88.2h0M333.8 88.8h0M142.4 238.6h0M318.9 92.8h0M154.5 230.2h0M269.6 134.6h0M220.0 172.2h0M352.9 80.9h0M140.2 244.3h0M115.4 259.8h0M314.9 96.1h0M169.3 220.2h0M162.3 222.4h0M194.0 199.8h0M171.2 215.8h0M265.3 142.5h0M241.8 154.5h0M345.2 79.2h0M292.9 120.1h0M341.4 87.8h0M281.9 120.4h0M122.6 260.0h0M103.7 273.3h0M103.2 268.3h0M163.1 221.1h0M188.5 207.7h0M155.1 224.1h0M110.3 262.6h0M96.7 275.4h0M123.6 258.7h0M221.8 180.0h0M118.7 257.5h0M223.6 175.0h0M338.4 85.6h0M294.9 122.5h0M201.5 184.9h0M284.1 126.1h0M118.9 257.4h0M343.9 78.3h0M284.5 126.1h0M290.2 126.9h0M94.0 274.8h0M226.2 171.5h0M264.4 148.3h0M356.5 71.5h0M284.7 124.0h0M156.0 224.2h0M343.0 79.9h0M309.3 99.2h0M202.0 190.2h0M216.1 182.8h0M165.3 219.3h0M157.2 226.9h0M163.7 224.3h0M163.1 226.8h0M269.4 146.1h0M169.1 223.8h0M137.6 245.1h0M139.4 243.1h0M99.7 271.1h0M286.3 122.0h0M279.5 118.8h0M211.0 186.2h0M166.7 217.6h0M256.5 153.9h0M148.1 230.5h0M175.8 207.0h0M286.9 121.7h0M176.8 216.5h0M210.2 184.2h0M113.0 260.1h0M321.7 101.4h0M177.7 210.9h0M227.8 173.2h0M185.6 204.0h0M203.6 190.3h0M317.2 116.0h0M233.6 159.8h0M177.0 218.1h0M100.0 266.6h0M127.5 245.2h0M172.0 219.9h0M192.9 198.6h0M115.6 259.2h0M99.3 273.2h0M259.5 144.1h0M124.4 248.1h0M138.1 242.6h0M259.1 143.2h0M280.5 136.3h0M126.4 251.9h0M124.9 254.1h0M274.8 127.8h0M388.0 49.2h0M334.2 88.2h0M262.7 146.5h0M279.4 125.1h0M353.3 76.4h0M204.3 194.9h0M276.6 131.3h0M279.8 127.9h0M125.9 253.3h0M354.9 77.5h0M266.9 139.3h0M313.4 107.4h0M357.7 79.4h0M104.3 268.8h0M242.7 159.4h0M223.8 178.2h0M107.3 269.3h0M317.0 106.4h0M326.8 93.8h0M114.9 261.9h0M188.9 200.5h0M250.8 153.7h0M107.8 264.0h0M177.3 209.8h0M203.2 190.9h0M120.3 254.3h0M376.7 57.4h0M291.3 120.4h0M235.6 160.4h0M179.9 207.8h0M291.2 123.0h0M90.8 276.8h0M249.2 161.8h0M185.3 214.7h0M100.0 272.7h0M259.0 148.0h0M120.8 256.4h0M197.1 190.6h0M196.3 194.9h0M212.1 176.2h0M189.3 203.8h0M138.5 244.9h0M284.1 127.1h0M96.0 273.3h0M189.5 199.5h0M244.9 159.4h0M321.6 91.0h0M310.9 109.3h0M157.3 223.3h0M98.7 268.6h0M324.6 92.2h0M323.7 95.5h0M284.0 123.1h0M312.3 102.3h0M93.5 275.9h0M241.4 157.1h0M110.9 264.8h0M332.7 86.7h0M352.1 76.6h0M105.9 264.7h0M322.3 87.5h0M186.0 206.4h0M259.4 149.6h0M210.0 182.1h0M183.0 206.4h0M283.2 120.8h0M203.9 184.1h0M292.7 124.4h0M226.9 177.8h0M232.4 164.8h0M282.0 135.4h0M168.5 216.3h0M159.1 227.3h0M190.2 201.0h0M186.4 204.4h0M341.4 69.8h0M154.9 234.1h0M140.8 237.2h0M228.2 169.9h0M305.8 112.9h0M256.2 142.9h0M285.3 124.5h0M238.8 161.5h0M295.7 115.4h0M289.3 116.3h0M96.1 274.1h0M340.9 75.7h0M297.1 114.6h0M253.3 157.3h0M144.1 237.2h0M151.7 227.3h0M162.0 223.6h0M229.9 163.7h0M110.0 261.1h0M125.0 252.1h0M339.1 79.2h0M253.9 149.0h0M125.2 243.5h0M171.5 215.3h0M180.6 212.5h0M287.0 114.8h0M174.1 213.1h0M241.5 164.8h0M240.2 162.7h0M240.1 161.5h0M205.4 189.6h0M223.6 175.9h0M280.7 133.1h0M173.9 221.4h0M198.2 196.2h0M318.8 96.9h0M264.4 147.4h0M146.8 238.5h0M196.2 198.5h0M150.9 233.4h0M141.5 238.3h0M140.5 236.4h0M337.4 89.5h0M100.6 268.2h0M119.2 253.3h0M349.2 72.2h0M294.8 118.3h0M132.6 249.2h0M275.8 134.8h0M300.7 119.9h0M129.6 241.6h0M108.1 268.7h0M128.0 249.4h0M367.9 68.4h0M279.0 119.3h0M138.8 241.1h0M98.6 278.4h0M256.4 146.3h0M245.4 164.1h0M219.1 178.6h0M120.8 257.0h0M340.3 76.9h0M192.0 199.7h0M334.7 96.7h0M176.2 217.9h0M229.5 168.5h0M228.6 172.1h0M367.4 64.0h0M333.1 92.4h0M262.3 148.9h0M220.1 179.8h0M231.9 167.9h0M207.0 190.0h0M161.9 224.9h0M278.9 131.5h0M118.8 257.0h0M162.0 219.5h0M283.2 124.8h0M305.1 106.3h0M390.7 49.2h0M143.5 238.0h0M117.4 259.4h0M306.3 109.1h0M333.1 82.2h0M260.6 145.8h0M225.6 172.4h0M161.6 226.8h0M137.7 241.2h0M126.4 253.8h0M203.7 186.8h0M335.8 88.7h0M168.1 219.1h0M108.0 263.6h0M270.7 130.9h0M217.8 172.0h0M189.3 210.9h0M345.6 73.3h0M302.9 115.2h0M251.8 149.6h0M282.9 128.7h0M219.8 179.7h0M190.3 199.7h0M113.9 261.8h0M172.9 211.5h0M236.9 167.7h0M211.8 189.1h0M246.1 154.0h0M170.5 217.5h0M265.1 142.9h0M96.4 273.7h0M195.6 197.5h0M312.2 101.6h0M168.6 218.7h0M93.4 274.2h0M376.1 54.7h0M193.2 201.1h0M148.2 232.3h0M91.5 275.9h0M264.5 139.1h0M95.2 275.9h0M121.9 251.1h0M254.6 155.6h0M224.9 182.6h0M223.2 174.6h0M343.0 82.8h0M151.3 238.4h0M114.4 258.9h0M316.0 98.1h0M96.3 275.1h0M224.0 174.5h0M254.5 160.7h0M337.4 79.1h0M323.6 86.6h0M153.2 231.0h0M153.0 229.8h0M224.1 168.7h0M251.7 156.1h0M203.8 191.0h0M211.2 194.3h0M203.1 184.7h0M225.2 167.9h0M122.8 253.4h0M273.1 133.3h0M313.6 109.8h0M224.4 175.0h0M227.0 176.7h0M161.9 220.7h0M103.9 268.7h0M315.7 103.9h0M295.2 119.4h0M137.7 243.5h0M110.1 263.1h0M176.9 223.4h0M340.5 84.3h0M132.5 247.6h0M217.6 177.8h0M277.4 132.2h0M371.1 64.1h0M182.9 203.7h0M169.0 224.9h0M186.6 204.8h0M284.7 132.1h0M90.9 275.6h0M262.6 148.0h0M189.0 197.8h0M123.0 255.7h0M241.9 165.2h0M359.7 80.5h0M180.9 204.1h0M176.0 216.9h0M242.3 166.9h0M347.8 73.4h0M252.0 146.7h0M123.9 250.7h0M172.1 217.1h0M146.9 232.9h0M231.4 163.4h0M220.1 181.4h0M142.7 240.0h0M215.9 179.5h0M223.7 176.0h0M265.1 134.2h0M287.6 121.2h0M203.4 191.8h0M178.2 212.5h0M131.1 245.0h0M190.3 203.7h0M140.5 235.0h0M269.6 135.9h0M110.1 261.2h0M135.4 249.1h0M360.0 81.1h0M142.2 240.4h0M260.4 137.3h0M317.4 92.1h0M184.7 209.3h0M187.0 211.7h0M304.6 107.8h0M159.9 226.7h0M269.3 132.7h0M161.1 220.0h0M300.4 117.7h0M307.6 115.0h0M248.6 156.6h0M315.1 102.5h0M271.9 136.8h0M152.7 229.7h0M290.4 119.7h0M144.3 242.2h0M182.6 209.4h0M194.8 199.0h0M226.1 173.7h0M91.5 275.4h0M243.6 156.8h0M268.3 140.5h0M262.9 141.1h0M180.7 204.0h0M289.8 124.7h0M296.1 117.7h0M273.7 131.3h0M246.4 155.7h0M337.1 88.5h0M165.8 220.8h0M390.6 49.3h0M96.4 273.8h0M139.3 243.4h0M100.3 271.3h0M155.4 230.7h0M312.9 107.4h0M142.0 242.7h0M197.7 202.5h0M226.3 179.8h0M257.5 146.9h0M213.4 175.4h0M262.4 143.6h0M160.6 229.6h0M249.8 154.5h0M148.1 232.7h0M152.9 226.0h0M139.2 239.9h0M129.6 250.0h0M148.5 236.6h0M337.2 82.6h0M96.5 270.9h0M255.6 154.5h0M227.7 164.0h0M266.5 148.8h0M313.6 103.5h0M289.2 120.5h0M291.9 116.1h0M101.7 269.7h0M134.2 242.7h0M222.2 177.7h0M221.1 174.5h0M256.4 151.3h0M311.1 100.8h0M178.8 206.4h0M118.1 253.8h0M130.4 252.8h0M373.3 60.2h0M201.2 192.4h0M246.2 164.1h0M227.5 168.2h0M104.2 269.4h0M98.4 272.9h0M287.3 125.5h0M190.6 204.8h0M283.5 129.9h0M222.7 183.4h0M178.6 208.8h0M179.6 205.4h0M219.0 180.1h0M97.8 270.8h0M211.3 189.0h0M375.4 57.3h0M196.2 201.3h0M198.9 195.3h0M246.2 156.6h0M331.8 87.3h0M366.3 66.2h0M251.0 150.1h0M161.8 227.0h0M161.0 228.9h0M196.9 192.4h0M137.6 251.0h0M202.5 190.3h0M221.4 177.7h0M92.9 276.7h0M130.7 245.9h0M253.2 159.4h0M253.0 142.1h0M177.4 210.0h0M161.8 219.3h0M109.4 264.1h0M334.7 92.4h0M300.3 117.0h0M331.4 82.9h0M390.7 45.7h0M229.2 168.8h0M170.8 215.6h0M282.2 121.7h0M246.0 158.7h0M276.6 121.7h0M284.6 135.9h0M274.4 134.7h0M140.6 238.9h0M340.3 79.3h0M135.4 249.0h0M235.3 163.9h0M220.1 182.7h0M94.6 272.9h0M224.3 173.2h0M300.3 110.5h0M173.3 215.7h0M295.8 120.8h0M190.8 196.4h0M312.5 109.0h0M311.1 101.4h0M251.2 154.0h0M161.7 219.0h0M212.3 182.1h0M112.3 260.5h0M232.2 168.2h0M179.2 217.0h0M173.5 217.7h0M336.3 86.4h0M111.5 263.7h0M152.2 232.4h0M265.6 139.7h0M291.2 121.3h0M183.2 214.2h0M161.7 226.4h0M94.2 275.8h0M270.6 144.2h0M273.8 131.2h0M111.2 261.3h0M306.0 102.5h0M145.8 237.5h0M114.4 259.9h0M127.7 246.2h0M318.4 96.2h0M96.3 272.7h0M219.6 175.3h0M163.5 230.2h0M92.0 277.5h0M355.7 72.5h0M97.6 274.4h0M215.7 184.9h0M137.2 238.2h0M177.8 207.9h0M184.5 205.4h0M351.5 63.0h0M302.7 111.7h0M175.7 211.5h0M150.6 230.0h0M104.3 267.3h0M214.1 185.6h0M146.2 237.8h0M279.9 129.0h0M329.6 90.0h0M277.8 134.4h0M238.7 159.5h0M304.4 111.9h0M147.1 233.0h0M238.7 161.8h0M304.7 111.9h0M162.7 222.5h0M219.9 171.4h0M235.3 164.7h0M344.5 73.1h0M225.7 169.7h0M218.5 176.2h0M116.7 258.2h0M215.6 177.7h0M228.2 177.2h0M214.5 182.8h0M223.4 176.6h0M270.9 137.2h0M261.4 146.2h0M121.4 252.1h0M343.3 77.9h0M194.9 202.0h0M252.2 155.9h0M124.9 252.9h0M98.0 276.0h0M277.9 125.6h0M136.2 239.4h0M191.0 196.4h0M226.4 174.8h0M173.8 207.4h0M247.6 157.8h0M176.6 209.3h0M120.6 257.7h0M163.9 225.8h0M274.3 134.3h0M277.5 126.0h0M123.0 250.5h0M257.8 152.7h0M312.8 106.6h0M219.7 176.5h0M321.4 96.7h0M234.4 173.4h0M210.6 186.4h0M176.1 211.1h0M92.0 275.7h0M251.9 149.9h0M95.5 273.5h0M101.5 272.5h0M196.6 192.0h0M254.5 155.3h0M234.8 162.4h0M138.1 244.2h0M364.8 61.7h0M199.8 192.6h0M160.0 236.2h0M329.1 87.0h0M96.9 273.3h0M203.1 189.7h0M187.0 196.8h0M116.1 260.6h0M195.2 195.2h0M168.1 214.2h0M180.8 206.8h0M229.2 174.1h0M189.0 194.9h0M293.6 123.4h0M243.2 150.5h0M221.6 178.4h0M285.1 120.7h0M101.9 266.2h0M278.2 139.6h0M138.7 241.9h0M387.2 50.4h0M286.6 118.9h0M289.6 126.9h0M259.4 150.2h0M326.1 93.2h0M310.0 102.5h0M142.8 241.0h0M318.0 95.6h0M375.7 61.5h0M349.7 79.7h0M354.3 77.5h0M284.0 116.4h0M148.4 235.0h0M311.0 102.9h0M124.2 250.7h0M381.1 57.3h0M161.6 221.6h0M143.3 237.7h0M326.8 94.2h0M228.4 169.8h0M345.9 85.7h0M145.3 237.9h0M140.3 244.0h0M299.5 107.3h0M94.4 276.3h0M201.3 192.5h0M381.6 59.3h0M154.1 229.0h0M115.9 260.2h0M306.9 104.0h0M128.4 248.1h0M219.0 174.3h0M313.6 111.1h0M126.4 249.4h0M246.2 156.7h0M251.6 151.5h0M291.5 119.2h0M356.3 74.9h0M326.7 94.0h0M152.1 230.8h0M258.5 147.4h0M291.3 126.2h0M299.8 110.2h0M224.5 168.5h0M269.8 135.1h0M178.6 213.0h0M168.1 222.5h0M191.9 197.1h0M146.5 236.6h0M222.6 172.7h0M369.3 64.9h0M258.9 143.5h0M243.8 160.3h0M174.0 213.7h0M132.2 241.7h0M203.4 189.1h0M220.5 174.4h0M331.0 99.8h0M233.6 164.2h0M202.7 194.1h0M234.7 160.3h0M139.8 249.0h0M115.3 262.3h0M159.1 224.8h0M231.2 164.0h0M263.5 141.0h0M160.0 221.3h0M159.9 227.7h0M197.5 187.3h0M227.7 172.6h0M103.7 272.7h0M309.7 108.7h0M231.5 175.2h0M178.3 211.8h0M236.2 164.0h0M279.3 128.9h0M246.7 153.9h0M210.5 193.1h0M280.2 126.4h0M222.6 171.8h0M322.2 97.6h0M147.8 234.3h0M225.7 177.2h0M241.9 164.4h0M364.4 77.5h0M210.3 173.6h0M268.2 140.6h0M262.5 142.8h0M309.8 103.3h0M304.3 110.6h0M124.1 253.0h0M195.9 198.1h0M171.6 216.8h0M233.0 173.2h0M98.4 276.8h0M152.5 228.7h0M270.5 137.5h0M368.4 65.7h0M175.2 213.0h0M94.7 273.2h0M230.4 170.1h0M286.5 117.5h0M115.2 261.1h0M290.0 115.9h0M245.4 153.9h0M132.1 246.3h0M154.9 236.0h0M276.2 139.6h0M197.0 198.3h0M329.6 97.1h0M106.1 267.8h0M180.6 206.6h0M93.1 275.7h0M356.8 70.8h0M176.8 210.1h0M264.6 144.8h0M102.2 268.2h0M281.7 125.4h0M259.5 145.3h0M377.7 56.4h0M167.6 215.4h0M334.2 92.0h0M148.1 236.4h0M178.0 205.3h0M298.8 111.7h0M251.9 161.2h0M293.1 113.2h0M304.9 110.4h0M270.2 141.9h0M103.7 264.9h0M313.3 108.5h0M285.2 125.5h0M268.8 140.1h0M130.7 247.4h0M337.1 90.2h0M352.2 80.1h0M138.9 247.3h0M122.6 253.2h0M146.5 234.6h0M370.4 64.6h0M275.5 131.1h0M270.1 139.2h0M236.4 160.2h0M167.3 217.3h0M210.6 185.6h0M240.3 161.6h0M157.3 222.6h0M109.2 260.4h0M235.2 168.8h0M253.8 150.0h0M263.4 144.7h0M191.1 200.5h0M354.7 62.9h0M102.1 269.3h0M200.8 207.2h0M263.4 142.9h0M203.7 186.7h0M215.6 176.1h0M215.0 182.5h0M104.8 270.4h0M245.5 151.9h0M352.8 80.6h0M323.6 101.5h0M357.8 70.2h0M178.1 219.8h0M251.6 150.2h0M247.5 152.7h0M172.9 215.1h0M283.2 131.2h0M306.5 107.1h0M282.0 126.9h0M374.7 62.7h0M315.8 95.9h0M95.9 272.9h0M329.9 99.1h0M104.0 266.9h0M317.2 101.6h0M203.3 189.7h0M236.5 166.2h0M209.2 185.4h0M232.6 166.6h0M260.3 140.1h0M318.2 101.9h0M135.5 247.4h0M345.3 78.6h0M246.9 158.1h0M371.6 63.8h0M199.5 193.7h0M107.9 267.4h0M210.9 183.3h0M128.9 251.2h0M182.5 206.9h0M247.5 149.6h0M256.0 140.8h0M240.5 159.2h0M286.4 116.9h0M184.1 205.2h0M125.0 252.9h0M106.4 263.9h0M305.1 105.1h0M294.0 126.1h0M292.7 119.4h0M162.4 222.8h0M304.1 110.4h0M138.5 239.4h0M145.3 231.1h0M354.9 77.3h0M131.7 241.6h0M301.7 109.6h0M350.2 76.7h0M312.7 105.0h0M259.2 146.1h0M155.1 222.9h0M164.7 222.2h0M383.9 55.3h0M319.8 94.0h0M191.2 199.6h0M134.1 248.7h0M207.2 185.3h0M311.1 105.6h0M251.2 150.2h0M255.8 150.6h0M112.9 263.5h0M226.1 171.8h0M135.2 241.0h0M181.4 206.7h0M328.0 90.8h0M224.7 172.7h0M94.4 274.3h0M135.7 247.5h0M116.0 258.9h0M111.0 263.9h0M262.1 147.4h0M128.5 252.9h0M170.9 218.0h0M131.1 247.9h0M218.5 180.0h0M302.1 115.3h0M93.7 275.5h0M310.9 98.6h0M360.5 76.2h0M214.8 180.9h0M146.2 239.3h0M344.6 73.2h0M118.8 257.6h0M260.2 139.5h0M282.6 128.9h0M175.3 215.8h0M270.5 137.4h0M303.1 107.4h0M120.0 261.1h0M199.7 195.4h0M178.2 206.5h0M265.6 138.1h0M189.4 210.1h0M272.8 130.0h0M221.6 169.8h0M208.5 194.7h0M199.2 194.9h0M302.6 121.0h0M373.2 58.2h0M173.4 216.5h0M187.3 206.7h0M241.1 162.2h0M102.8 267.2h0M120.8 258.7h0M147.1 238.6h0M219.5 181.2h0M104.3 266.7h0M292.1 118.2h0M137.9 239.4h0M111.4 260.8h0M121.2 254.2h0M206.6 193.7h0M196.2 197.8h0M194.4 199.8h0M147.4 239.9h0M339.2 79.5h0M306.1 118.5h0M235.2 167.7h0M316.7 109.9h0M173.8 219.9h0M144.1 236.2h0M275.1 134.9h0M317.2 93.7h0M304.0 108.8h0M249.0 160.3h0M117.1 260.2h0M312.1 100.6h0M158.9 228.6h0M197.4 195.0h0M192.7 197.6h0M274.2 135.4h0M196.0 198.2h0M254.8 146.7h0M129.5 251.3h0M123.7 252.5h0M93.6 275.2h0M99.7 267.5h0M202.3 193.4h0M167.6 224.7h0M170.9 219.4h0M303.7 107.7h0M169.6 221.6h0M286.7 118.8h0M358.6 75.2h0M214.8 185.3h0M237.4 158.1h0M184.3 210.1h0M97.4 272.2h0M277.0 129.6h0M194.3 201.0h0M221.9 175.8h0M117.6 253.4h0M388.1 47.8h0M308.8 108.1h0M188.0 201.7h0M230.3 172.6h0M291.3 124.4h0M269.7 141.0h0M286.5 118.6h0M377.6 58.6h0M329.0 90.1h0M262.2 142.1h0M346.4 78.6h0M165.8 223.2h0M189.7 207.8h0M251.1 154.7h0M369.3 67.9h0M231.7 163.7h0M219.1 178.9h0M97.6 269.7h0M319.2 96.5h0M271.9 142.6h0M236.2 164.6h0M258.7 142.4h0M202.9 190.3h0M213.3 183.5h0M252.4 152.6h0M264.8 145.7h0M305.2 103.5h0M310.7 108.3h0M109.1 263.4h0M343.0 83.0h0M263.9 141.4h0M134.4 249.1h0M121.7 252.5h0M135.0 245.4h0M301.5 114.2h0M239.0 164.3h0M179.0 210.3h0M249.6 148.9h0M189.6 200.6h0M91.4 274.8h0M198.5 193.3h0M181.1 213.2h0M282.9 128.8h0M286.2 126.4h0M167.2 225.6h0M133.8 245.3h0M193.0 198.7h0M171.3 219.7h0M293.1 121.1h0M95.7 274.7h0M301.4 109.9h0M339.2 82.2h0M145.3 235.9h0M295.7 118.2h0M306.5 110.9h0M277.6 134.6h0M224.4 169.7h0M122.8 256.6h0M169.1 214.4h0M303.6 112.4h0M109.2 263.3h0M246.9 152.5h0M345.1 75.9h0M154.5 225.6h0M196.9 194.8h0M161.5 225.0h0M190.5 200.5h0M355.6 71.7h0M324.1 96.3h0M320.7 95.6h0M133.9 243.8h0M273.6 135.0h0M230.6 171.8h0M249.8 144.4h0M163.4 223.1h0M372.7 60.9h0M169.6 212.8h0M124.9 259.1h0M182.2 212.7h0M273.1 136.9h0M256.3 151.4h0M161.6 231.5h0M234.5 168.7h0M232.4 174.2h0M310.5 107.0h0M233.7 167.9h0M344.1 82.4h0M151.9 230.1h0M170.6 221.3h0M149.0 233.1h0M229.9 176.4h0M115.1 260.7h0M237.2 162.3h0M317.4 113.1h0M119.0 253.7h0M279.8 124.4h0M197.3 203.7h0M112.8 260.0h0M226.3 179.9h0M317.1 104.1h0M242.5 161.2h0M220.5 181.3h0M104.2 267.2h0M116.0 255.3h0M95.1 275.6h0M279.1 139.3h0M150.0 231.3h0M282.5 126.5h0M265.5 137.1h0M200.4 199.7h0M298.5 112.4h0M125.0 251.2h0M124.9 261.3h0M105.7 265.3h0M209.9 180.3h0M294.9 128.4h0M144.6 235.9h0M165.6 217.9h0M232.6 164.2h0M245.8 163.7h0M115.1 266.2h0M282.9 128.3h0M247.4 154.1h0M144.2 240.0h0M184.2 202.3h0M212.3 185.2h0M283.6 120.1h0M131.5 250.2h0M102.6 268.5h0M219.1 173.9h0M283.8 131.0h0M255.4 151.7h0M384.7 53.0h0M120.4 257.7h0M160.6 227.0h0M91.9 274.6h0M145.4 233.7h0M276.0 134.2h0M186.4 205.7h0M114.1 259.3h0M294.4 121.0h0M305.6 109.9h0M131.6 257.5h0M141.7 242.0h0M266.7 141.0h0M285.6 128.3h0M386.2 51.6h0M99.9 270.5h0M276.4 136.3h0M115.7 260.4h0M207.2 183.9h0M116.7 256.3h0M389.1 50.8h0M339.1 87.2h0M119.9 256.6h0M220.2 170.5h0M243.7 160.3h0M166.0 218.4h0M215.7 179.5h0M210.3 185.3h0M90.6 280.5h0M287.5 126.1h0M137.2 240.9h0M164.8 226.4h0M135.4 244.1h0M199.2 192.1h0M116.8 262.4h0M308.1 103.4h0M191.2 206.1h0M252.2 146.8h0M309.1 104.2h0M225.7 177.7h0M120.2 254.4h0M233.7 162.7h0M121.0 254.4h0M96.4 274.6h0M136.0 243.0h0M205.2 190.5h0M263.0 138.9h0M118.4 253.9h0M225.1 173.3h0M156.4 229.7h0M213.3 185.2h0M121.5 257.8h0M293.5 113.2h0M299.1 111.7h0M176.3 215.7h0M322.4 95.2h0M298.9 112.9h0M260.8 142.2h0M286.6 122.7h0M290.9 116.5h0M288.5 114.3h0M275.5 130.2h0M205.5 190.3h0M339.1 77.3h0M269.0 140.0h0M185.1 205.7h0M198.7 192.9h0M242.4 163.7h0M134.1 242.2h0M364.8 65.6h0M95.6 273.6h0M289.2 121.3h0M137.3 239.7h0M251.6 154.1h0M382.6 55.9h0M192.2 205.5h0M309.5 101.9h0M330.0 87.9h0M187.1 206.3h0M208.7 187.0h0M263.2 145.0h0M230.3 166.9h0M170.0 212.3h0M208.8 189.7h0M140.7 239.3h0M329.9 79.9h0M239.9 160.9h0M251.8 148.1h0M148.8 234.3h0M278.9 130.2h0M287.5 121.0h0M241.0 163.3h0M243.0 159.4h0M278.9 129.5h0M138.5 245.7h0M147.6 232.3h0M257.6 150.8h0M91.3 276.6h0M383.1 52.9h0M189.5 197.2h0M123.5 247.8h0M350.4 69.9h0M163.4 224.0h0M271.7 134.3h0M348.1 80.4h0M195.7 189.9h0M298.0 121.3h0M140.9 244.9h0M107.5 268.2h0M227.9 175.4h0M231.2 173.3h0M311.2 99.7h0M239.3 157.0h0M195.2 199.1h0M200.8 192.1h0M260.5 149.1h0M292.1 108.5h0M227.5 166.0h0M258.7 148.8h0M271.0 138.9h0M177.2 209.4h0M298.3 118.2h0M362.5 63.9h0M246.8 160.8h0M174.9 212.3h0M144.1 236.6h0M305.9 100.4h0M320.9 90.7h0M235.4 164.7h0M358.2 66.5h0M193.2 196.3h0M329.8 82.1h0M327.2 89.4h0M242.0 159.9h0M293.0 121.2h0M203.8 189.4h0M203.7 197.2h0M341.7 81.7h0M209.3 183.9h0M238.8 164.1h0M201.8 195.6h0M118.7 255.1h0M146.4 240.1h0M207.2 186.4h0M136.6 242.1h0M307.0 100.0h0M222.4 177.3h0M249.1 163.4h0M232.9 171.9h0M174.1 212.8h0M254.2 148.6h0M104.3 266.7h0M131.3 242.9h0M225.7 166.7h0M135.5 245.8h0M251.4 151.2h0M337.3 82.6h0M118.1 258.2h0M92.5 276.3h0M182.6 206.2h0M253.4 149.3h0M182.4 208.4h0M250.4 145.3h0M289.7 119.5h0M195.8 196.0h0M106.9 269.3h0M291.6 126.4h0M325.9 95.2h0M345.4 78.9h0M195.7 197.4h0M301.2 117.3h0M263.0 137.6h0M318.8 101.0h0M344.6 77.6h0M192.1 205.6h0M143.4 243.7h0M247.6 151.0h0M189.6 199.9h0M161.6 232.7h0M352.9 80.3h0M267.9 140.0h0M97.5 269.6h0M117.9 252.3h0M95.1 273.6h0M130.9 248.3h0M215.4 183.2h0M145.8 232.7h0M251.1 145.1h0M186.1 206.1h0M184.6 217.5h0M106.2 272.5h0M373.0 61.4h0M271.9 133.6h0M267.4 143.9h0M234.4 163.3h0M180.9 215.3h0M300.2 110.7h0M116.2 264.7h0M186.0 202.0h0M338.6 81.7h0M280.2 124.3h0M134.6 245.6h0M260.1 148.4h0M167.8 221.3h0M275.6 134.7h0M329.4 86.0h0M277.2 134.7h0M205.8 195.0h0M365.0 67.6h0M156.3 233.6h0M280.9 126.3h0M263.1 139.9h0M216.0 183.8h0M350.5 68.4h0M294.7 111.4h0M151.6 230.2h0M286.6 127.8h0M270.8 134.3h0M144.2 232.3h0M180.6 213.4h0M156.1 226.5h0M120.1 255.8h0M193.7 197.1h0M148.3 232.5h0M149.5 235.8h0M140.3 236.9h0M212.4 184.5h0M253.0 153.2h0M310.0 104.8h0M160.7 226.2h0M163.0 216.5h0M241.1 163.4h0M378.9 58.1h0M306.2 111.5h0M259.5 140.9h0M140.3 237.0h0M211.3 177.2h0M292.1 115.1h0M153.4 231.2h0M100.9 266.7h0M339.6 78.6h0M325.2 95.2h0M129.8 245.7h0M272.0 142.3h0M310.3 106.7h0M104.5 270.6h0M225.6 173.9h0M91.1 276.3h0M278.1 134.5h0M149.1 235.9h0M108.1 265.7h0M343.1 80.9h0M112.8 265.5h0M288.7 120.8h0M273.5 127.1h0M108.9 264.1h0M113.6 258.5h0M230.8 170.1h0M359.6 71.5h0M163.6 229.7h0M286.0 124.3h0M234.3 167.7h0M173.9 214.7h0M172.4 216.4h0M297.4 118.4h0M236.8 171.9h0M95.4 277.3h0M250.8 152.2h0M216.3 172.2h0M314.9 97.3h0M378.2 58.4h0M179.4 210.0h0M223.3 178.5h0M105.6 269.6h0M178.5 216.4h0M112.4 261.1h0M275.9 139.5h0M297.0 105.7h0M321.3 94.9h0M140.9 242.2h0M278.8 128.5h0M259.0 144.8h0M191.8 207.9h0M114.6 256.0h0M336.4 95.7h0M254.2 147.3h0M252.8 151.4h0M183.3 203.3h0M109.7 265.6h0M94.9 274.2h0M90.8 275.8h0M98.8 270.4h0M210.0 175.7h0M295.2 114.6h0M119.7 254.2h0M269.9 146.0h0M251.1 149.6h0M239.5 161.3h0M217.1 178.1h0M301.1 113.7h0M281.3 133.2h0M297.3 111.9h0M276.8 132.9h0M222.0 177.0h0M192.9 204.1h0M205.7 189.5h0M189.7 205.3h0M196.5 196.7h0M299.1 115.6h0M237.5 162.5h0M271.4 133.5h0M213.3 185.5h0M305.9 105.9h0M234.3 161.0h0M253.2 156.1h0M314.1 95.6h0M111.1 269.8h0M340.6 81.8h0M327.9 88.0h0M263.0 141.0h0M143.4 236.9h0M105.7 265.7h0M159.7 228.7h0M120.3 259.3h0M306.4 118.0h0M202.7 195.3h0M230.6 168.6h0M309.6 106.9h0M289.4 120.2h0M254.9 163.5h0M165.0 219.4h0M222.1 172.7h0M345.9 88.0h0M234.1 167.2h0M113.6 260.6h0M258.9 138.5h0M175.2 215.2h0M278.9 133.4h0M261.6 143.2h0M153.7 229.6h0M257.2 146.9h0M202.1 192.4h0M144.8 236.6h0M318.9 101.9h0M271.9 137.0h0M201.9 190.6h0M227.5 171.0h0M151.3 231.7h0M139.1 240.5h0M118.8 256.9h0M321.9 96.0h0M348.5 77.2h0M226.0 165.3h0M152.6 231.7h0M212.5 183.2h0M124.9 258.1h0M191.9 199.2h0M139.0 241.0h0M218.7 177.0h0M258.9 148.7h0M186.2 211.0h0M108.6 262.3h0M366.2 65.6h0M220.2 182.8h0M98.6 272.8h0M168.3 212.3h0M238.9 151.3h0M94.2 276.4h0M265.5 136.3h0M190.8 206.4h0M266.2 143.6h0M315.5 107.8h0M258.8 149.1h0M210.2 191.7h0M381.0 55.9h0M266.4 141.0h0M347.2 79.4h0M191.3 199.2h0M378.1 58.9h0M228.8 160.9h0M95.3 275.8h0M324.5 95.2h0M235.5 161.1h0M186.3 210.6h0M294.4 109.5h0M229.3 163.6h0M219.9 181.6h0M117.7 256.0h0M172.7 213.8h0M274.5 132.9h0M229.8 169.4h0M315.2 106.7h0M218.5 180.2h0M277.4 134.2h0M332.9 94.2h0M244.6 161.8h0M175.8 212.1h0M196.8 191.8h0M322.3 91.2h0M283.1 127.3h0M367.1 65.9h0M153.0 229.3h0M319.3 102.8h0M342.2 84.6h0M247.6 149.1h0M358.4 69.0h0M136.8 242.0h0M192.9 199.4h0M229.7 164.8h0M305.1 105.4h0M209.9 177.9h0M293.8 115.2h0M261.5 139.9h0M213.8 185.9h0M150.2 235.0h0M117.3 261.4h0M242.5 160.9h0M225.2 168.9h0M180.9 213.7h0M249.4 149.4h0M304.9 111.4h0M328.2 95.3h0M161.8 223.5h0M258.3 144.4h0M161.9 222.8h0M164.6 218.8h0M300.0 114.0h0M278.1 128.4h0M276.1 135.6h0M300.2 109.6h0M148.3 227.9h0M247.4 156.2h0M203.9 189.5h0M294.6 123.3h0M269.9 146.9h0M160.5 226.7h0M301.7 108.7h0M174.7 206.6h0M131.4 252.4h0M147.0 232.8h0M134.5 248.7h0M306.1 96.7h0M217.9 184.9h0M163.5 219.6h0M144.2 238.5h0M229.1 166.9h0M315.1 101.2h0M310.3 106.8h0M270.4 132.8h0M259.9 145.7h0M146.0 231.9h0M127.7 246.3h0M322.6 92.0h0M271.0 137.3h0M247.1 158.5h0M190.4 201.1h0M247.9 160.3h0M237.3 166.7h0M150.7 224.8h0M206.8 182.3h0M172.9 215.4h0M257.7 147.7h0M95.4 275.8h0M223.7 174.9h0M127.4 246.9h0M128.8 247.7h0M228.5 171.3h0M354.3 73.3h0M190.4 204.1h0M355.6 75.3h0M112.3 264.8h0M133.1 245.4h0M228.1 170.9h0M98.6 272.3h0M203.3 184.7h0M237.5 158.3h0M155.8 228.8h0M128.1 255.3h0M254.2 146.8h0M214.2 183.3h0M232.3 167.4h0M221.0 176.6h0M129.4 251.2h0M242.0 160.8h0M361.2 65.2h0M119.8 258.1h0M212.4 186.9h0M328.2 90.2h0M119.6 251.9h0M341.9 84.4h0M173.1 208.1h0M381.5 54.7h0M216.8 178.8h0M291.0 119.2h0M146.7 235.0h0M326.6 98.1h0M117.8 256.7h0M167.9 226.1h0M235.5 162.0h0M122.2 251.6h0M159.0 228.8h0M181.5 207.9h0M200.6 195.7h0M340.1 81.7h0M365.0 64.3h0M194.1 198.7h0M372.7 60.4h0M132.5 246.0h0M212.8 177.8h0M194.2 192.4h0M298.5 121.6h0M190.0 199.4h0M135.4 241.3h0M296.9 113.5h0M202.2 188.7h0M152.1 230.6h0M194.8 194.7h0M115.3 259.3h0M130.3 243.2h0M157.5 229.1h0M198.5 200.8h0M187.2 200.5h0M178.1 213.3h0M120.2 260.1h0M222.5 175.3h0M151.3 228.8h0M276.8 142.0h0M344.4 84.2h0M358.4 70.7h0M174.0 211.0h0M232.6 160.4h0M268.4 135.5h0M171.9 222.9h0M303.9 105.4h0M180.7 214.7h0M124.8 252.2h0M238.9 162.8h0M373.7 59.2h0M147.5 234.1h0M116.7 263.0h0M183.5 202.3h0M117.4 255.6h0M319.8 104.0h0M166.0 221.3h0M153.9 230.8h0M164.1 225.0h0M142.3 235.5h0M318.0 101.0h0M228.2 164.8h0M204.8 187.6h0M206.8 185.6h0M369.8 62.5h0M298.7 118.2h0M271.1 139.7h0M214.8 180.1h0M324.3 92.5h0M222.0 180.7h0M269.4 130.8h0M324.1 93.6h0M189.8 206.9h0M185.4 202.4h0M268.0 137.5h0M324.4 94.9h0M299.4 122.9h0M289.8 130.0h0M141.6 241.7h0M277.0 137.1h0M92.3 274.5h0M256.8 145.7h0M351.9 68.4h0M236.6 161.5h0M199.5 195.7h0M200.8 193.8h0M208.0 187.2h0M295.9 119.8h0M124.8 251.4h0M225.1 173.2h0M249.0 159.8h0M103.6 270.3h0M119.0 258.7h0M364.2 63.2h0M265.1 137.6h0M248.6 162.8h0M177.0 212.6h0M117.3 257.5h0M352.0 82.3h0M362.8 65.6h0M213.7 185.1h0M105.9 264.5h0M188.4 201.3h0M110.6 268.3h0M238.9 163.4h0M127.7 248.0h0M122.7 257.0h0M231.3 167.2h0M289.7 118.2h0M287.7 128.1h0M119.2 258.8h0M371.6 61.5h0M135.1 246.4h0M127.1 250.0h0M156.8 233.7h0M101.2 272.2h0M93.0 274.5h0M318.9 103.0h0M97.7 269.8h0M113.7 257.9h0M204.7 188.1h0M127.9 245.3h0M148.6 234.1h0M336.6 88.7h0M262.6 144.6h0M252.1 154.8h0M238.2 166.5h0M172.4 214.5h0M138.2 252.7h0M216.8 183.4h0M203.1 193.4h0M248.8 153.3h0M232.4 167.5h0M328.3 89.3h0M229.2 169.4h0M281.8 117.2h0M345.5 79.7h0M211.9 178.2h0M277.3 128.7h0M345.2 77.7h0M227.4 171.7h0M101.2 270.0h0M142.5 239.6h0M128.1 251.9h0M309.4 106.3h0M210.1 188.2h0M324.1 97.6h0M226.4 167.0h0M134.3 246.5h0M234.2 173.3h0M242.9 155.7h0M249.7 158.5h0M340.2 77.9h0M321.7 91.6h0M254.9 151.5h0M110.2 264.3h0M152.6 228.4h0M112.0 264.5h0M248.6 156.6h0M374.0 60.5h0M122.9 254.1h0M272.3 133.6h0M342.0 84.8h0M311.7 106.8h0M107.8 264.3h0M275.3 136.9h0M279.1 129.6h0M172.7 219.5h0M378.0 56.5h0M196.9 194.8h0M313.3 103.2h0M354.2 77.2h0M192.3 208.2h0M139.4 239.3h0M203.7 192.0h0M206.4 185.6h0M237.2 160.9h0M152.5 230.0h0M335.4 83.4h0M203.6 198.5h0M139.6 242.8h0M250.0 151.8h0M130.5 247.0h0M319.2 99.8h0M225.6 174.0h0M118.5 256.0h0M137.2 242.1h0M321.6 105.5h0M115.1 257.3h0M91.0 278.8h0M163.0 214.0h0M235.7 166.0h0M326.2 96.1h0M290.6 124.0h0M200.4 190.9h0M323.0 93.4h0M214.0 191.0h0M301.0 108.2h0M119.9 254.1h0M258.6 149.2h0M95.8 277.1h0M355.2 65.2h0M232.9 167.0h0M278.1 133.0h0M190.1 210.2h0M391.1 47.9h0M172.7 213.7h0M284.8 121.9h0M166.0 223.9h0M185.4 207.3h0M123.7 254.5h0M234.8 167.4h0M228.3 166.9h0M229.8 172.3h0M209.3 184.4h0M306.9 108.7h0M234.7 166.4h0M324.9 91.0h0M193.2 194.4h0M285.0 122.7h0M119.9 255.6h0M316.1 105.4h0M276.2 133.1h0M209.5 180.8h0M219.2 178.1h0M340.9 79.7h0M241.4 162.5h0M141.1 240.3h0M329.7 87.1h0M181.8 209.8h0M190.9 198.7h0M240.8 159.9h0M202.7 187.2h0M164.6 218.1h0M160.1 232.9h0M198.4 194.8h0M244.2 157.7h0M187.9 196.8h0M303.2 111.8h0M93.6 274.1h0M209.5 178.9h0M196.7 196.3h0M300.2 117.0h0M118.7 259.1h0M270.8 138.2h0M316.0 100.8h0M244.9 159.8h0M181.7 205.2h0M264.6 148.6h0M224.9 169.3h0M218.8 176.9h0M335.3 84.9h0M216.3 175.7h0M106.2 266.4h0M121.3 254.8h0M221.3 173.2h0M286.8 120.3h0M191.4 204.9h0M341.1 72.5h0M113.6 260.1h0M171.8 219.1h0M141.1 242.7h0M249.5 154.6h0M240.5 155.4h0M316.7 98.4h0M190.0 197.3h0M331.1 83.0h0M236.7 165.3h0M386.6 44.4h0M328.5 94.1h0M167.0 214.1h0M342.9 79.8h0M249.4 154.3h0M341.5 79.7h0M121.4 258.9h0M154.9 226.1h0M205.6 188.4h0M312.2 106.2h0M316.7 103.1h0M196.6 194.5h0M248.1 157.7h0M174.9 214.8h0M373.6 64.3h0M99.6 267.8h0M290.9 123.2h0M256.3 146.3h0M112.1 261.1h0M195.7 196.0h0M173.4 214.1h0M249.3 156.6h0M130.1 250.9h0M111.1 263.6h0M106.5 266.3h0M128.2 252.7h0M292.2 112.4h0M221.1 178.5h0M298.2 118.4h0M301.8 116.4h0M117.4 262.2h0M290.3 125.5h0M216.3 182.9h0M128.3 250.7h0M367.8 66.8h0M318.6 96.7h0M108.9 265.7h0M256.7 147.5h0M360.8 59.5h0M234.9 165.9h0M106.4 263.7h0M291.0 124.0h0M215.9 183.3h0M229.4 173.1h0M181.7 204.7h0M226.7 175.3h0M272.5 137.1h0M291.2 116.4h0M310.1 102.3h0M119.9 256.1h0M152.1 229.6h0M142.3 240.6h0M220.6 176.8h0M259.0 153.8h0M344.8 84.0h0M98.2 273.9h0M228.0 171.3h0M273.1 139.0h0M141.2 240.7h0M224.5 168.1h0M333.6 88.0h0M200.4 194.8h0M130.9 246.1h0M360.2 71.0h0M276.0 133.4h0M197.0 189.9h0M162.1 223.3h0M135.5 249.7h0M223.5 172.9h0M129.0 247.1h0M344.3 76.2h0M198.5 199.4h0M236.4 162.2h0M242.0 158.8h0M329.5 90.4h0M347.8 81.6h0M328.3 88.7h0M217.6 177.6h0M172.8 212.1h0M213.2 188.8h0M305.0 105.3h0M192.1 201.6h0M250.0 149.5h0M358.0 65.4h0M352.9 74.3h0M247.4 160.2h0M156.8 227.3h0M319.9 94.9h0M102.1 270.6h0M201.1 192.4h0M154.7 227.9h0M182.9 207.2h0M176.6 214.2h0M184.1 214.1h0M308.3 104.8h0M128.5 251.1h0M357.4 76.0h0M186.2 207.0h0M107.0 264.7h0M224.4 180.0h0M161.6 224.7h0M292.3 124.4h0M301.3 115.1h0M201.3 189.1h0M160.5 229.2h0M261.6 151.1h0M299.6 107.7h0M174.3 211.9h0M126.9 250.7h0M222.9 177.2h0M100.1 271.9h0M177.3 208.4h0M137.9 247.0h0M143.7 237.8h0M144.9 233.4h0M269.5 136.9h0M214.5 189.7h0M147.4 233.4h0M253.8 150.1h0M230.4 166.3h0M222.0 173.5h0M219.3 175.9h0M244.1 164.1h0M208.2 189.9h0M325.7 100.4h0M217.6 178.5h0M284.7 129.6h0M271.9 132.4h0M193.4 196.8h0M226.6 172.3h0M183.8 209.7h0M199.8 188.3h0M138.9 242.0h0M179.9 204.3h0M166.1 217.4h0M210.7 184.6h0M228.5 167.0h0M109.7 264.2h0M239.5 166.5h0M270.0 137.7h0M230.0 180.1h0M200.2 196.0h0M208.2 185.8h0M252.2 147.0h0M201.7 195.4h0M238.2 165.0h0M135.8 244.3h0M224.2 172.4h0M255.3 152.1h0M228.4 168.8h0M187.6 209.1h0M111.2 266.3h0M190.5 204.2h0M211.2 187.8h0M101.1 271.4h0M265.7 142.2h0M123.1 253.1h0M300.5 114.3h0M179.0 199.6h0M321.4 99.9h0M191.6 204.1h0M201.4 187.0h0M320.3 103.4h0M99.3 272.3h0M316.4 103.2h0M199.7 187.9h0M382.1 47.8h0M94.7 274.5h0M188.4 206.1h0M125.7 255.2h0M350.3 77.1h0M183.7 208.8h0M265.7 143.5h0M330.9 89.0h0M216.7 181.7h0M293.6 117.3h0M302.4 112.2h0M106.6 270.5h0M306.0 106.5h0M164.2 218.3h0M156.8 225.5h0M174.0 214.2h0M195.7 196.7h0M300.7 106.8h0M287.7 120.0h0M165.4 223.2h0M326.2 92.5h0M214.9 177.1h0M377.4 61.9h0M212.3 191.0h0M389.1 47.5h0M167.6 217.4h0M155.7 234.0h0M250.6 159.0h0M280.4 132.8h0M163.0 228.1h0M137.3 244.8h0M347.1 78.4h0M285.8 127.0h0M182.0 206.6h0M113.6 262.0h0M108.0 266.7h0M246.0 154.6h0M197.1 196.4h0M144.1 235.9h0M275.5 135.1h0M345.1 83.6h0M286.9 129.7h0M107.7 264.2h0M278.9 131.7h0M182.1 213.2h0M171.4 214.9h0M288.6 125.6h0M116.1 259.4h0M288.2 113.2h0M184.4 199.8h0M179.5 213.4h0M156.0 226.0h0M176.5 215.9h0M184.8 209.6h0M129.4 252.4h0M358.6 70.2h0M342.3 77.6h0M140.6 241.9h0M232.7 166.2h0M150.4 234.4h0M320.6 97.0h0M227.6 172.5h0M123.3 252.6h0M228.2 181.5h0M189.4 196.5h0M256.0 141.0h0M281.8 130.5h0M261.5 143.1h0M99.8 269.4h0M357.3 67.4h0M168.4 219.7h0M168.3 217.3h0M174.7 216.8h0M240.1 165.8h0M121.8 255.9h0M159.9 232.0h0M291.6 122.0h0M313.8 95.9h0M368.4 66.4h0M108.4 268.5h0M124.4 254.2h0M96.7 274.9h0M285.9 120.3h0M255.0 151.6h0M216.0 179.4h0M285.1 117.8h0M158.9 221.2h0M155.5 227.0h0M213.1 180.8h0M313.7 100.3h0M161.3 226.4h0M141.1 242.8h0M307.8 105.3h0M342.9 83.0h0M170.2 220.2h0M109.3 263.6h0M124.9 257.0h0M237.1 159.3h0M360.9 64.2h0M132.2 247.8h0M240.0 157.7h0M200.1 194.5h0M200.5 197.3h0M206.3 187.9h0M176.8 211.9h0M248.9 154.3h0M216.3 179.3h0M317.4 90.7h0M141.6 232.7h0M154.8 227.8h0M100.9 267.4h0M264.8 143.6h0M122.9 251.4h0M125.8 251.5h0M120.4 256.9h0M359.7 62.8h0M215.0 183.9h0M121.1 254.1h0M130.0 250.3h0M107.4 261.2h0M356.0 78.3h0M203.5 190.4h0M120.8 259.2h0M128.5 245.9h0M376.6 59.5h0M92.7 275.6h0M258.4 148.3h0M180.1 208.3h0M193.6 206.2h0M106.9 268.6h0M102.6 266.2h0M315.5 105.9h0M212.3 184.4h0M118.8 258.3h0M118.8 254.0h0M168.5 227.6h0M249.0 157.4h0M165.6 222.1h0M326.3 85.7h0M105.4 268.5h0M292.0 122.1h0M101.3 272.3h0M329.2 94.1h0M368.6 57.3h0M155.8 231.2h0M299.1 122.0h0M92.3 276.6h0M206.8 183.3h0M351.3 70.5h0M392.9 39.8h0M344.3 80.8h0M353.8 73.6h0M319.1 96.0h0M165.8 222.8h0M139.8 242.8h0M270.1 135.6h0M233.7 165.1h0M116.8 259.7h0M183.9 205.5h0M118.0 264.3h0M200.7 189.0h0M160.9 222.8h0M188.2 204.5h0M95.9 270.8h0M280.3 125.5h0M151.5 231.8h0M215.8 181.0h0M187.0 200.6h0M163.7 220.4h0M308.9 108.4h0M270.1 141.4h0M323.5 93.3h0M192.3 197.2h0M211.7 186.3h0M228.4 167.1h0M248.1 158.1h0M340.4 88.0h0M105.7 265.1h0M387.7 52.5h0M341.1 85.8h0M143.9 236.2h0M211.2 187.3h0M269.8 134.6h0M189.2 207.8h0M193.5 195.2h0M208.3 189.5h0M173.8 212.9h0M315.1 90.1h0M385.8 48.7h0M280.3 123.1h0M306.2 109.2h0M362.9 64.5h0M216.5 178.3h0M328.3 90.0h0M317.0 102.3h0M249.4 153.9h0M305.2 107.2h0M341.4 82.6h0M91.3 282.1h0M255.5 151.2h0M376.6 58.9h0M386.3 47.1h0M195.0 198.5h0M116.1 261.4h0M159.7 221.8h0M105.1 264.5h0M96.3 274.6h0M155.4 222.5h0M207.8 183.8h0M312.0 105.4h0M188.1 202.1h0M260.7 140.0h0M283.9 133.7h0M161.0 226.8h0M102.3 267.4h0M114.3 259.3h0M96.0 271.1h0M201.2 188.5h0M201.9 190.1h0M111.5 265.2h0M197.5 192.6h0M367.1 61.4h0M216.1 183.1h0M141.8 237.1h0M129.4 251.9h0M251.3 156.7h0M107.5 264.4h0M354.2 74.5h0M168.0 213.1h0M255.3 152.0h0M212.0 175.6h0M240.1 164.1h0M319.7 96.2h0M263.2 140.4h0M257.9 158.3h0M120.7 257.0h0M254.0 157.9h0M352.0 71.5h0M117.6 254.6h0M340.5 85.4h0M277.7 129.7h0M173.1 218.5h0M207.1 187.3h0M177.6 210.1h0M160.5 229.1h0M327.1 90.0h0M185.5 202.4h0M269.5 143.0h0M153.3 230.6h0M242.2 161.5h0M226.8 166.9h0M115.5 258.9h0M377.1 45.9h0M203.1 192.8h0M126.1 250.1h0M207.4 180.4h0M156.3 226.0h0M228.7 168.7h0M355.9 70.1h0M307.5 108.2h0M193.1 198.6h0M296.4 116.7h0M186.5 199.6h0M177.7 208.7h0M228.0 171.6h0M290.1 125.3h0M373.1 66.5h0M212.8 179.6h0M219.3 178.3h0M315.9 98.7h0M178.0 223.1h0M153.6 226.5h0M311.1 97.8h0M276.3 133.2h0M122.2 251.8h0M327.8 92.1h0M195.5 198.5h0M239.9 161.0h0M268.7 143.2h0M122.5 257.0h0M273.7 135.3h0M111.6 260.5h0M232.5 174.0h0M374.8 56.6h0M219.5 176.4h0M240.5 162.6h0M132.5 246.0h0M306.1 102.6h0M233.5 170.9h0M117.6 256.4h0M127.5 251.7h0M384.9 52.3h0M156.8 230.7h0M338.1 86.8h0M198.7 192.5h0M180.4 214.0h0M286.5 128.2h0M222.2 177.7h0M195.6 192.7h0M158.6 230.2h0M276.4 137.8h0M141.3 240.7h0M260.1 151.6h0M247.0 166.3h0M204.9 188.5h0M252.7 149.2h0M263.0 146.8h0M99.2 271.3h0M349.4 73.3h0M197.7 190.9h0M180.2 211.6h0M362.5 76.4h0M267.7 137.0h0M235.8 172.7h0M222.9 172.5h0M132.6 249.5h0M273.5 140.9h0M369.5 60.4h0M292.0 115.9h0M141.8 240.0h0M221.7 182.1h0M225.0 174.5h0M229.3 170.3h0M318.3 97.4h0M285.9 126.8h0M320.1 97.4h0M354.2 81.4h0M142.7 242.0h0M240.5 160.4h0M158.7 221.5h0M271.1 138.0h0M217.2 181.8h0M318.8 95.7h0M278.3 131.2h0M356.7 69.2h0M125.9 250.5h0M261.3 146.8h0M111.1 263.5h0M218.5 177.1h0M159.7 226.3h0M255.4 152.6h0M100.0 269.9h0M243.7 153.5h0M377.1 54.4h0M248.2 154.8h0M334.0 90.6h0M306.8 100.5h0M106.0 265.1h0M270.0 142.5h0M248.6 154.6h0M272.4 136.7h0M134.5 241.9h0M382.7 49.9h0M230.9 165.0h0M360.8 78.2h0M137.5 248.7h0M199.1 196.0h0M131.0 245.2h0M240.3 161.5h0M183.3 199.7h0M159.7 227.1h0M267.5 144.4h0M98.8 274.2h0M221.9 178.3h0M118.8 258.5h0M273.4 129.1h0M248.6 160.5h0M134.2 247.9h0M284.4 128.7h0M190.1 196.3h0M264.1 145.0h0M147.7 233.9h0M380.3 54.5h0M122.8 254.7h0M168.3 218.2h0M213.3 185.1h0M175.5 208.9h0M131.1 246.2h0M217.0 181.2h0M251.4 153.7h0M244.4 153.6h0M251.2 160.9h0M116.6 258.5h0M131.6 243.2h0M96.2 273.0h0M354.3 78.3h0M131.6 244.4h0M181.8 209.4h0M285.8 118.1h0M257.7 153.2h0M140.2 241.4h0M124.3 249.8h0M163.7 225.4h0M333.9 93.5h0M102.2 268.2h0M197.8 197.0h0M247.9 153.0h0M227.4 172.9h0M239.0 166.0h0M172.2 216.2h0M261.5 144.5h0M135.4 249.0h0M241.6 156.4h0M173.7 218.5h0M219.0 177.7h0M243.7 161.3h0M239.3 163.5h0M197.7 200.9h0M367.7 64.8h0M272.7 137.6h0M110.5 261.5h0M162.3 216.5h0M198.0 195.6h0M105.5 268.9h0M136.4 241.2h0M163.0 224.9h0M91.0 276.1h0M203.4 195.6h0M141.4 241.7h0M254.6 142.9h0M173.7 216.5h0M146.3 235.9h0M291.8 115.4h0M305.8 101.0h0M250.6 151.8h0M298.5 123.0h0M97.4 276.6h0M203.1 187.7h0M294.7 114.3h0M150.7 231.1h0M308.7 99.3h0M210.6 195.3h0M204.6 190.8h0M242.9 162.1h0M341.1 86.8h0M120.0 254.7h0M192.7 199.0h0M132.2 245.8h0M297.6 118.1h0M104.1 271.0h0M260.4 140.7h0M168.7 224.3h0M213.2 188.9h0M298.4 121.4h0M173.1 213.3h0M106.0 262.9h0M168.7 215.4h0M194.3 196.9h0M274.8 143.4h0M259.8 147.1h0M168.8 222.2h0M231.6 178.0h0M370.3 60.5h0M310.5 105.0h0M301.3 107.7h0M317.8 113.0h0M353.0 71.8h0M276.4 122.0h0M290.4 127.8h0M124.5 246.2h0M362.2 70.5h0M345.5 83.3h0M319.4 96.0h0M223.7 169.0h0M163.7 224.5h0M257.9 135.6h0M109.5 268.6h0M128.9 251.3h0M193.7 195.0h0M148.2 235.6h0M239.9 165.7h0M296.8 115.2h0M271.6 139.4h0M325.4 98.4h0M169.0 210.2h0M140.5 248.7h0M160.6 211.3h0M298.9 113.5h0M164.8 221.4h0M260.9 152.5h0M212.9 183.1h0M214.3 187.6h0M313.1 101.3h0M323.4 91.1h0M250.7 158.2h0M230.0 166.0h0M328.1 94.8h0M211.4 184.6h0M368.4 53.6h0M176.6 209.7h0M280.0 132.7h0M286.9 122.8h0M103.9 265.5h0M140.4 238.5h0M290.5 109.9h0M316.6 94.6h0M323.5 101.1h0M202.9 189.8h0M193.2 192.8h0M158.6 220.6h0M310.2 108.4h0M142.2 238.4h0M319.7 95.5h0M225.4 174.0h0M184.7 208.7h0M118.8 264.1h0M131.8 247.2h0M238.6 162.9h0M108.1 264.3h0M281.4 124.1h0M207.8 174.8h0M305.1 112.2h0M232.2 165.5h0M216.4 173.5h0M310.5 111.6h0M152.0 221.3h0M304.8 102.8h0M248.2 162.2h0M271.9 137.3h0M266.2 144.5h0M322.8 99.2h0M252.4 143.8h0M259.9 146.7h0M215.1 190.1h0M255.3 160.8h0M284.5 123.8h0M289.1 124.6h0M180.6 212.4h0M199.2 199.3h0M255.4 148.9h0M96.2 270.6h0M141.4 240.1h0M289.9 112.2h0M142.4 240.9h0M311.0 102.4h0M264.7 155.4h0M186.3 195.2h0M185.2 212.2h0M164.4 231.1h0M330.7 91.8h0M197.2 186.9h0M146.2 232.5h0M197.6 191.5h0M182.0 215.6h0M194.4 193.5h0M151.5 234.4h0M280.8 128.9h0M241.7 156.9h0M246.5 147.3h0M196.6 192.2h0M176.6 206.0h0M167.0 220.4h0M206.9 184.7h0M281.6 133.1h0M217.4 180.6h0M347.8 85.7h0M255.0 147.0h0M308.3 100.5h0M153.2 228.9h0M133.6 250.5h0M299.9 121.1h0M276.0 135.1h0M318.7 98.3h0M196.2 192.2h0M280.2 141.9h0M168.2 221.7h0M324.6 90.1h0M204.3 197.9h0M147.1 243.3h0M200.9 187.0h0M315.1 92.6h0M182.7 215.9h0M360.3 65.4h0M147.4 236.4h0M277.3 135.7h0M100.3 272.4h0M267.0 132.0h0M167.9 217.7h0M312.8 108.6h0M291.2 137.2h0M150.5 235.5h0M219.7 180.0h0M197.1 204.5h0M164.1 217.2h0M300.9 123.3h0M297.4 107.5h0M164.6 221.9h0M187.8 199.2h0M337.6 91.6h0M195.2 192.4h0M142.8 240.3h0M160.6 222.4h0M221.1 186.5h0M231.3 179.7h0M170.3 210.4h0M227.3 173.4h0M266.2 138.6h0M251.9 160.6h0M356.4 65.0h0M243.8 157.3h0M310.1 112.0h0M110.2 260.8h0M245.0 159.1h0M306.6 106.6h0M216.7 178.5h0M338.6 74.5h0M273.4 134.0h0M308.1 110.4h0M206.2 191.5h0M336.4 91.8h0M139.4 240.4h0M111.0 261.8h0M250.7 156.5h0M134.5 250.0h0M167.9 226.8h0M326.2 95.4h0M105.4 263.5h0M180.5 210.5h0M270.2 139.9h0M281.5 127.7h0M163.4 220.4h0M275.6 135.7h0M230.6 172.3h0M115.1 262.5h0M373.8 60.9h0M143.9 238.5h0M328.4 90.2h0M207.8 186.5h0M135.9 241.6h0M288.4 124.4h0M180.8 209.6h0M111.8 265.6h0M230.3 171.7h0M209.9 183.3h0M310.4 113.5h0M295.3 116.1h0M216.9 180.9h0M288.9 117.1h0M218.8 178.3h0M236.1 172.3h0M211.9 172.6h0M324.9 93.5h0M303.6 122.1h0M201.3 191.0h0M159.1 220.9h0M236.6 168.7h0M310.5 102.3h0M280.6 133.4h0M163.7 217.7h0M357.1 80.8h0M229.7 174.0h0M252.9 154.6h0M228.2 165.1h0M242.2 153.2h0M202.2 188.3h0M190.2 206.8h0M206.0 209.5h0M269.5 134.6h0M305.9 100.5h0M323.9 98.1h0M189.2 207.2h0M195.5 198.3h0M279.4 124.8h0M198.6 189.8h0M270.6 132.2h0M329.9 102.4h0M228.1 179.1h0M280.5 127.1h0M253.9 153.5h0M211.9 172.0h0M213.1 178.4h0M239.5 158.8h0M136.8 242.4h0M171.7 219.3h0M157.0 229.3h0M304.2 104.1h0M289.7 129.6h0M372.6 65.0h0M386.1 49.4h0M126.7 251.7h0M288.3 126.3h0M184.8 198.3h0M202.2 188.6h0M128.8 247.3h0M186.7 200.2h0M302.2 105.9h0M238.4 173.0h0M287.9 121.7h0M186.8 209.3h0M300.6 123.8h0M381.8 48.6h0M148.2 236.1h0M130.2 251.4h0M183.3 206.4h0M175.7 204.0h0M178.5 209.5h0M202.2 196.3h0M152.1 231.1h0M227.1 160.2h0M284.2 128.0h0M236.0 169.8h0M279.7 134.8h0M380.3 49.4h0M226.5 174.7h0M330.6 99.4h0M132.3 242.1h0M189.4 208.1h0M239.8 156.8h0M140.1 236.9h0M244.0 155.0h0M251.3 163.8h0M137.4 250.5h0M236.2 168.3h0M282.9 130.2h0M213.6 182.5h0M317.5 98.4h0M165.2 220.5h0M141.1 234.0h0M299.8 121.4h0M234.8 166.4h0M250.0 157.9h0M253.1 153.4h0M239.4 154.5h0M171.2 205.4h0M289.3 118.8h0M200.3 183.3h0M173.2 212.2h0M168.4 221.5h0M149.1 236.2h0M246.6 156.1h0M312.9 105.3h0M352.3 68.9h0M179.4 205.7h0M319.2 92.3h0M172.9 218.3h0M358.8 77.1h0M144.4 228.3h0M123.5 249.6h0M287.7 134.2h0M245.6 164.7h0M210.4 198.0h0M234.8 167.7h0M308.3 103.7h0M300.5 112.8h0M326.0 94.6h0M228.8 169.6h0M175.3 211.3h0M124.6 254.2h0M265.0 145.5h0M262.9 154.3h0M271.9 129.5h0M192.4 205.5h0M302.2 110.4h0M249.8 153.5h0M301.3 110.1h0M195.8 208.8h0M201.6 181.9h0M113.1 261.4h0M337.6 83.4h0M160.2 229.7h0M293.9 120.8h0M306.3 102.5h0M216.1 182.1h0M353.8 64.8h0M210.9 177.5h0M228.1 173.2h0M187.6 213.6h0M349.6 82.3h0M305.5 100.6h0M154.1 228.7h0M171.9 218.2h0M281.3 125.8h0M253.0 150.2h0M266.6 132.5h0M355.6 64.7h0M207.2 185.1h0M380.6 53.7h0M296.8 111.5h0M248.7 156.9h0M254.7 145.5h0M336.9 78.8h0M343.8 83.7h0M233.1 167.3h0M355.1 70.3h0M326.4 94.1h0M261.6 155.6h0M192.6 205.9h0M222.3 179.1h0M319.1 107.9h0M220.5 170.6h0M190.7 192.2h0M262.7 135.6h0M194.2 206.7h0M277.8 131.6h0M336.7 94.6h0M290.1 118.0h0M160.1 220.6h0M321.9 87.9h0M292.3 113.6h0M331.4 87.6h0M233.7 168.6h0M297.6 111.8h0M223.1 185.5h0M306.4 112.4h0M99.9 268.1h0M198.1 195.6h0M237.5 174.2h0M157.3 227.8h0M278.1 145.6h0M198.3 195.4h0M134.5 248.1h0M266.3 136.4h0M334.3 85.2h0M197.2 191.0h0M173.7 220.1h0M200.9 194.4h0M298.6 118.9h0M163.8 223.2h0M303.4 116.9h0M159.6 220.3h0M242.5 160.6h0M127.3 252.4h0M248.4 160.8h0M142.4 247.1h0M231.2 173.5h0M346.9 80.8h0M182.0 196.9h0M149.2 230.6h0M195.7 195.4h0M278.0 131.9h0M187.6 208.5h0M295.8 117.4h0M356.9 80.1h0M196.7 198.9h0M249.6 165.8h0M126.1 250.9h0M185.1 207.7h0M113.9 255.8h0M217.1 180.6h0M273.1 141.0h0M287.3 137.4h0M258.2 148.9h0M280.6 128.8h0M127.1 248.7h0M364.1 62.4h0M345.4 81.4h0M190.7 204.3h0M215.2 176.7h0M316.1 101.7h0M273.5 134.1h0M258.1 139.9h0M184.5 199.6h0M243.8 161.8h0M238.6 161.0h0M338.4 84.4h0M139.1 242.3h0M235.5 164.4h0M260.6 145.3h0M222.9 171.4h0M303.2 105.1h0M137.1 238.6h0M263.8 138.3h0M225.0 165.1h0M114.3 261.4h0M230.1 168.0h0M275.0 137.7h0M380.6 59.1h0M297.4 112.6h0M282.4 127.9h0M220.8 173.9h0M247.5 157.3h0M113.8 265.9h0M349.3 64.6h0M267.0 139.7h0M278.5 145.5h0M121.4 253.5h0M301.5 120.1h0M314.2 105.9h0M255.5 151.2h0M205.3 189.6h0M256.7 160.0h0M155.6 225.8h0M239.6 161.3h0M204.3 187.3h0M238.7 154.5h0M274.8 137.3h0M243.0 157.7h0M251.6 162.9h0M304.4 99.6h0M115.1 260.2h0M248.9 152.6h0M229.6 174.0h0M210.6 182.5h0M145.3 234.7h0M289.4 114.7h0M270.9 138.0h0M343.6 80.2h0M174.8 205.2h0M271.5 145.4h0M155.5 227.8h0M275.5 132.7h0M256.0 154.2h0M98.7 274.2h0M295.4 121.0h0M186.5 203.0h0M223.2 171.1h0M205.6 201.6h0M272.7 138.8h0M138.8 231.0h0M156.8 230.9h0M338.5 84.5h0M114.6 258.3h0M299.1 112.0h0M171.7 213.0h0M337.6 73.6h0M326.7 95.0h0M107.1 264.1h0M210.7 181.7h0M206.8 179.0h0M240.5 163.1h0M145.8 238.9h0M276.6 125.8h0M217.3 181.8h0M233.5 168.6h0M232.8 162.2h0M234.9 172.6h0M311.1 108.1h0M203.4 188.3h0M353.8 74.3h0M97.5 272.9h0M190.3 197.0h0M189.9 195.4h0M306.6 105.3h0M297.4 112.8h0M271.4 142.5h0M277.9 133.2h0M139.9 236.8h0M267.9 143.1h0M142.0 244.5h0M97.5 266.6h0M297.4 113.2h0M317.2 105.4h0M251.0 160.8h0M113.5 261.9h0M207.2 188.4h0M192.3 204.6h0M177.3 213.9h0M308.9 114.3h0M204.8 194.3h0M202.8 189.0h0M314.8 89.7h0M239.2 147.7h0M108.1 261.1h0M117.1 256.3h0M328.5 84.7h0M171.9 214.3h0M197.9 198.3h0M135.0 242.3h0M253.8 152.6h0M261.9 135.2h0M248.3 160.6h0M211.7 181.7h0M167.5 216.9h0M285.7 131.4h0M262.7 147.0h0M192.2 208.6h0M117.2 264.1h0M363.6 72.0h0M194.0 200.2h0M221.8 175.2h0M296.8 114.8h0M142.5 236.9h0M209.7 186.5h0M262.2 148.0h0M317.8 102.9h0M134.1 241.6h0M314.9 104.8h0M281.0 119.8h0M297.2 108.9h0M254.7 154.3h0M260.3 143.7h0M160.3 229.0h0M220.5 174.4h0M301.9 114.3h0M287.4 115.6h0M234.6 159.8h0M119.0 254.4h0M271.5 131.4h0M205.2 181.0h0M247.8 149.6h0M379.1 54.5h0M157.0 224.6h0M320.6 95.0h0M304.7 110.3h0M219.3 180.5h0M104.6 266.6h0M260.1 155.7h0M267.2 144.8h0M269.8 127.7h0M269.4 145.2h0M252.3 154.2h0M284.9 123.4h0M298.5 110.6h0M104.9 262.1h0M174.6 198.9h0M125.9 251.1h0M228.8 164.5h0M118.7 259.5h0M199.6 183.2h0M274.9 134.7h0M267.7 141.3h0M148.4 231.0h0M150.1 234.9h0M248.5 153.6h0M270.0 142.2h0M141.1 235.2h0M147.7 231.9h0M300.3 125.2h0M223.1 175.4h0M175.6 220.0h0M342.0 77.2h0M271.9 140.8h0M261.4 147.7h0M244.7 154.2h0M290.2 128.5h0M157.3 217.6h0M160.5 229.0h0M210.4 191.1h0M264.6 144.2h0M134.2 245.9h0M250.1 157.2h0M204.1 187.0h0M197.8 199.8h0M307.4 101.7h0M221.8 171.0h0M260.0 148.2h0M135.7 244.5h0M311.8 113.8h0M164.2 220.3h0M285.2 123.7h0M174.7 215.3h0M329.1 84.5h0M322.5 96.1h0M130.9 241.6h0M205.2 202.2h0M301.1 113.4h0M341.6 90.5h0M320.7 96.0h0M318.3 101.1h0M180.7 211.2h0M205.6 187.9h0M298.9 106.9h0M241.5 165.2h0M229.3 169.2h0M194.6 200.3h0M248.9 154.8h0M219.7 165.4h0M268.4 144.0h0M208.5 194.5h0M308.3 104.6h0M140.9 243.4h0M309.3 106.3h0M210.0 194.0h0M336.7 91.8h0M244.0 158.2h0M256.2 147.5h0M327.2 93.2h0M206.9 191.9h0M303.2 110.9h0M362.0 77.2h0M218.4 181.8h0M131.8 253.8h0M222.0 188.8h0M328.7 86.7h0M292.3 124.2h0M285.1 114.8h0M173.6 222.1h0M303.1 120.5h0M184.1 208.4h0M248.8 150.5h0M251.1 161.4h0M278.5 133.0h0M226.7 174.4h0M253.9 155.6h0M252.3 148.1h0M136.7 240.5h0M113.2 266.0h0M321.9 106.9h0M308.9 100.8h0M129.4 245.5h0M303.8 110.6h0M255.1 161.3h0M219.9 188.5h0M295.8 123.6h0M248.6 150.2h0M253.9 158.3h0M266.3 144.0h0M269.4 132.4h0M221.3 168.2h0M177.9 206.8h0M216.5 186.0h0M190.9 201.5h0M133.6 239.7h0M313.5 102.9h0M202.1 184.1h0M262.7 136.6h0M274.0 133.5h0M229.7 166.7h0M247.2 147.1h0M192.1 203.4h0M111.8 265.6h0M260.8 148.5h0M141.1 234.0h0M315.0 100.4h0M340.2 91.5h0M247.2 153.4h0M243.0 162.5h0M185.2 203.9h0M292.4 120.3h0M199.7 193.9h0M193.2 199.4h0M170.3 223.6h0M189.0 199.1h0M181.5 205.4h0M275.2 120.7h0M315.7 102.1h0M276.0 132.0h0M314.4 100.3h0M222.9 175.8h0M249.6 153.5h0M297.6 108.5h0M212.5 181.4h0M165.3 228.0h0M316.6 97.8h0M258.5 150.6h0M375.5 57.6h0M119.6 260.6h0M250.1 154.7h0M123.0 256.3h0M242.3 167.4h0M265.9 137.3h0M334.0 91.0h0M267.9 136.0h0M131.0 257.2h0M236.1 163.5h0M223.7 187.8h0M312.4 105.1h0M208.5 190.1h0M252.6 162.7h0M125.0 250.3h0M215.4 185.7h0M280.9 130.9h0M137.5 241.8h0M304.1 101.9h0M259.5 139.1h0M313.5 113.0h0M308.3 99.1h0M166.7 218.0h0M122.6 256.9h0M370.2 57.8h0M204.7 179.9h0M285.9 125.2h0M316.0 103.3h0M165.6 230.5h0M212.0 187.2h0M220.6 173.3h0M235.2 163.7h0M224.0 165.2h0M177.0 210.0h0M150.8 230.8h0M305.6 121.2h0M160.2 228.2h0M170.0 217.8h0M324.1 96.0h0M262.2 148.8h0M380.9 54.9h0M201.7 194.4h0M308.8 113.7h0M297.2 102.8h0M263.2 149.1h0M167.4 218.6h0M345.2 75.7h0M318.7 89.2h0M223.7 175.6h0M289.3 120.4h0M128.0 247.5h0M313.9 99.8h0M318.5 90.5h0M216.0 169.1h0M146.6 239.3h0M282.4 126.5h0M293.3 108.6h0M233.9 170.6h0M252.8 153.7h0M258.1 139.3h0M356.6 71.3h0M295.2 115.7h0M105.5 267.1h0M169.0 213.3h0M213.2 179.7h0M168.5 211.4h0M330.8 92.5h0M158.4 232.7h0M330.0 83.4h0M255.3 147.2h0M258.8 140.7h0M286.6 127.6h0M246.7 150.0h0M319.5 86.6h0M203.7 182.1h0M288.3 116.4h0M172.0 216.2h0M243.5 156.5h0M151.2 225.2h0M189.4 204.9h0M209.8 186.2h0M281.0 130.5h0M267.2 137.0h0M336.0 89.2h0M255.7 148.1h0M242.5 163.4h0M197.2 196.8h0M298.7 117.1h0M246.5 152.0h0M295.1 122.7h0M319.9 85.8h0M194.3 203.9h0M286.7 122.2h0M239.4 166.4h0M313.5 92.5h0M158.5 226.3h0M318.7 91.2h0M224.2 172.8h0M209.1 182.7h0M161.1 220.3h0M220.3 174.4h0M213.5 190.5h0M255.8 142.2h0M196.7 197.6h0M177.6 206.2h0M254.5 153.4h0M207.4 181.9h0M107.6 261.9h0M282.1 128.4h0M186.3 206.6h0M169.7 218.6h0M143.5 235.6h0M263.4 145.1h0M191.3 206.2h0M251.7 144.0h0M272.1 137.3h0M221.1 185.2h0M195.4 204.9h0M302.5 108.3h0M252.5 155.9h0M206.1 193.9h0M227.5 179.0h0M308.7 106.4h0M165.7 226.3h0M256.5 147.5h0M202.2 189.8h0M285.6 116.4h0M207.8 203.1h0M270.9 132.7h0M190.6 195.9h0M307.7 101.2h0M256.9 151.4h0M313.5 109.1h0M154.8 228.2h0M252.2 156.5h0M228.5 176.6h0M313.4 99.5h0M315.6 94.5h0M303.7 105.2h0M234.0 166.7h0M335.1 85.6h0M230.0 178.0h0M250.4 150.6h0M210.6 188.2h0M226.7 169.3h0M212.6 183.0h0M196.1 211.4h0M150.4 230.1h0M242.0 162.4h0M138.4 247.6h0M244.0 154.1h0M195.1 194.6h0M202.9 193.0h0M158.7 232.6h0M251.0 160.0h0M161.0 221.8h0M230.8 168.2h0M180.7 204.5h0M245.5 151.2h0M156.6 219.4h0M272.6 136.6h0M197.9 186.0h0M346.4 65.8h0M111.5 263.3h0M243.8 146.3h0M173.7 210.3h0M266.5 150.5h0M221.9 181.6h0M232.6 166.5h0M207.1 195.2h0M336.2 80.6h0M248.2 153.1h0M260.6 158.2h0M266.9 152.6h0M342.2 78.7h0M180.3 213.1h0M318.3 105.1h0M179.6 211.8h0M301.2 106.4h0M359.9 68.2h0M265.0 152.4h0M266.2 145.8h0M130.3 248.0h0M284.7 114.2h0M337.2 95.9h0M180.5 217.6h0M315.9 99.1h0M225.9 179.0h0M184.8 214.7h0M143.0 235.2h0M144.5 232.1h0M186.6 200.0h0M322.4 103.7h0M208.6 189.6h0M351.0 76.9h0M274.9 146.3h0M164.6 220.4h0M219.3 170.4h0M160.8 226.6h0M287.8 124.7h0M341.3 85.3h0M296.9 109.2h0M162.1 223.0h0M325.6 97.3h0M271.7 137.7h0M224.9 170.5h0M290.7 126.0h0M324.6 98.9h0M287.1 125.3h0M167.4 219.7h0M238.3 161.3h0M188.3 203.5h0M295.3 102.2h0M278.8 128.7h0M152.6 233.7h0M239.4 163.7h0M251.7 147.9h0M227.1 161.1h0M194.1 203.8h0M201.1 187.2h0M171.8 218.3h0M279.9 117.0h0M210.5 184.1h0M174.9 229.7h0M311.0 97.0h0M221.8 177.5h0M122.7 250.6h0M197.5 199.2h0M296.8 116.9h0M324.0 97.1h0M136.8 239.6h0M276.0 143.1h0M206.3 195.7h0M138.2 244.5h0M250.7 143.0h0M244.0 156.7h0M305.1 114.5h0M179.9 209.8h0M257.6 160.7h0M309.1 105.1h0M130.8 249.9h0M246.4 155.1h0M144.4 231.6h0M354.5 69.7h0M152.6 231.6h0M154.9 230.4h0M143.4 241.5h0M198.8 191.6h0M276.2 132.4h0M193.7 189.7h0M121.7 258.4h0M150.3 237.2h0M278.1 126.2h0M224.6 177.6h0M159.0 228.0h0M304.9 102.4h0M113.2 261.1h0M172.2 210.5h0M281.9 115.1h0M253.5 153.1h0M171.4 219.5h0M283.8 131.5h0M201.2 199.7h0M237.0 161.5h0M261.0 143.8h0M159.4 220.7h0M219.9 183.2h0M281.7 133.5h0M326.5 92.2h0M253.3 151.0h0M220.2 179.4h0M226.4 162.5h0M330.2 99.5h0M149.7 230.4h0M360.7 69.6h0M303.3 100.5h0M287.4 127.6h0M267.8 128.7h0M329.8 89.9h0M134.8 246.6h0M319.0 99.3h0M212.9 187.0h0M374.2 56.9h0M325.7 91.6h0M339.7 74.2h0M307.1 105.3h0M283.0 131.7h0M281.1 125.7h0M334.0 83.3h0M320.1 102.6h0M298.1 122.9h0M100.7 266.9h0M250.7 159.4h0M146.9 241.5h0M181.8 208.5h0M261.7 142.0h0M128.5 242.9h0M265.9 127.0h0M106.3 268.4h0M319.4 94.8h0M229.4 163.6h0M227.7 168.2h0M268.3 149.2h0M323.6 92.8h0M271.3 129.8h0M317.2 93.5h0M345.2 68.8h0M306.5 99.8h0M218.0 184.2h0M153.4 233.0h0M275.5 133.5h0M282.1 128.5h0M362.9 63.8h0M174.1 221.9h0M306.6 120.1h0M241.5 153.7h0M270.1 129.5h0M235.5 170.1h0M112.6 257.4h0M252.0 143.0h0M215.3 184.2h0M223.8 165.9h0M254.6 133.1h0M368.1 63.2h0M323.1 111.7h0M274.6 119.6h0M291.7 118.9h0M269.5 143.2h0M213.5 186.2h0M215.7 172.8h0M305.9 111.2h0M169.2 223.5h0M183.9 210.3h0M310.3 112.7h0M286.8 115.5h0M233.6 163.3h0M157.4 237.2h0M311.2 106.8h0M210.6 184.6h0M187.5 195.0h0M139.1 243.6h0M308.5 100.1h0M266.7 137.0h0M276.8 121.7h0M363.8 66.6h0M243.9 163.9h0M184.9 206.3h0M275.8 139.1h0M265.2 137.5h0M319.1 97.5h0M211.7 187.5h0M221.3 174.6h0M387.9 53.5h0M308.8 110.7h0M204.4 203.6h0M308.7 98.9h0M322.8 90.8h0M220.4 175.0h0M283.4 134.0h0M296.8 112.0h0M315.2 103.2h0M225.1 190.5h0M193.3 191.5h0M142.9 233.9h0M232.4 174.9h0M242.8 154.7h0M205.1 187.3h0M203.5 191.6h0M318.4 98.3h0M260.9 138.9h0M296.7 106.7h0M191.1 195.0h0M391.6 39.9h0M219.1 171.0h0M173.1 213.8h0M212.3 174.5h0M262.9 140.1h0M187.8 194.3h0M320.2 111.7h0M347.4 76.7h0M270.6 137.1h0M241.8 147.0h0M362.8 82.4h0M152.5 234.0h0M178.9 210.2h0M282.5 140.6h0M241.5 152.9h0M285.3 125.1h0M267.4 134.8h0M230.7 161.2h0M240.3 158.4h0M279.3 134.8h0M291.3 116.8h0M278.3 128.1h0M250.9 153.0h0M113.1 264.8h0M252.8 160.1h0M278.6 118.5h0M128.9 250.7h0M264.5 147.5h0M243.9 158.4h0M272.3 142.0h0M162.4 217.4h0M217.3 179.4h0M342.3 81.8h0M196.7 195.0h0M256.4 148.5h0M168.1 223.7h0M236.2 170.8h0M230.4 171.6h0M313.3 95.8h0M188.0 199.9h0M136.8 243.4h0M241.1 172.1h0M146.6 227.5h0M294.7 122.4h0M278.2 121.2h0M276.8 127.2h0M225.6 172.1h0M268.6 143.9h0M211.1 190.1h0M192.3 198.8h0M148.6 228.6h0M206.8 191.7h0M186.5 208.0h0M339.9 87.3h0M136.1 241.4h0M287.3 115.7h0M159.2 229.3h0M210.3 189.5h0M328.7 83.6h0M331.5 91.6h0M186.7 202.7h0M356.6 65.0h0M156.3 229.2h0M243.0 162.3h0M150.4 231.1h0M285.8 127.0h0M145.2 242.0h0M103.4 270.3h0M170.7 213.7h0M237.2 170.3h0M224.0 172.4h0M345.6 76.8h0M280.6 131.5h0M220.8 176.3h0M198.7 193.9h0M212.2 188.3h0M364.7 69.5h0M319.6 104.2h0M237.1 160.6h0M140.9 231.9h0M205.2 195.2h0M258.4 146.3h0M124.1 257.2h0M127.9 250.2h0M300.2 108.9h0M192.5 204.1h0M311.4 111.3h0M163.6 220.2h0M223.3 177.6h0M225.8 177.5h0M159.5 220.2h0M249.0 151.3h0M249.0 159.9h0M177.4 212.7h0M256.9 146.2h0M163.2 221.3h0M334.0 80.2h0M328.3 103.7h0M141.8 236.6h0M319.0 83.9h0M271.8 152.6h0M238.6 164.7h0M173.4 214.2h0M166.0 220.9h0M279.4 128.3h0M302.8 106.1h0M338.0 89.4h0M256.3 144.7h0M291.5 110.3h0M267.6 154.3h0M316.2 99.0h0M117.5 255.6h0M117.3 255.6h0M282.3 116.5h0M314.5 96.5h0M186.0 213.3h0M161.1 221.9h0M150.1 232.9h0M256.4 146.0h0M213.0 190.8h0M242.9 157.0h0M193.0 202.7h0M369.9 61.9h0M217.2 179.4h0M363.9 68.1h0M183.9 208.9h0M280.9 139.1h0M321.4 90.7h0M389.2 50.6h0M153.7 227.7h0M264.0 135.9h0M134.8 244.2h0M246.0 153.8h0M152.3 232.7h0M167.3 220.6h0M207.1 188.3h0M290.4 124.3h0M158.1 230.5h0M320.5 81.3h0M273.6 133.5h0M251.9 152.9h0M193.4 203.0h0M326.3 97.0h0M134.6 246.2h0M354.7 74.2h0M269.6 141.3h0M309.7 115.6h0M106.6 262.2h0M242.2 154.5h0M186.7 216.7h0M214.3 180.8h0M385.4 52.4h0M294.7 126.4h0M172.0 216.8h0M275.4 122.4h0M279.3 123.2h0M139.9 245.4h0M183.9 212.0h0M222.2 173.3h0M260.5 149.0h0M251.5 151.3h0M157.1 221.6h0M303.6 113.8h0M140.7 239.2h0M227.7 166.0h0M269.5 142.9h0M158.0 222.7h0M208.8 184.4h0M311.9 112.6h0M281.9 131.3h0M167.5 222.9h0M179.3 219.1h0M235.4 176.1h0M144.2 231.7h0M372.4 63.7h0M295.5 105.8h0M150.2 229.8h0M199.0 184.1h0M285.6 121.3h0M168.8 214.2h0M261.8 141.0h0M204.4 194.2h0M264.4 149.9h0M327.3 88.2h0M234.1 165.6h0M306.5 103.7h0M287.4 111.9h0M253.4 149.8h0M329.8 78.1h0M269.0 146.6h0M311.9 105.5h0M339.2 81.5h0M297.1 115.9h0M153.8 235.5h0M281.2 121.2h0M241.5 161.2h0M314.7 104.0h0M142.5 249.4h0M313.9 107.7h0M291.0 128.3h0M218.7 181.5h0M213.9 184.3h0M224.8 180.4h0M113.6 261.3h0M218.6 167.3h0M286.5 115.4h0M222.2 185.6h0M350.0 80.9h0M330.2 91.1h0M210.3 190.7h0M284.8 121.5h0M194.7 190.7h0M235.5 154.5h0M152.1 225.9h0M276.6 127.0h0M242.0 160.1h0M292.8 111.4h0M273.5 131.0h0M317.9 101.5h0M283.9 126.7h0M308.1 115.9h0M334.7 88.0h0M344.1 75.9h0M207.8 196.0h0M205.8 190.8h0M270.8 142.7h0M292.7 130.1h0M262.7 139.6h0M222.0 178.7h0M314.2 100.0h0M296.5 116.4h0M341.4 83.1h0M153.6 231.2h0M257.9 134.7h0M277.0 129.4h0M319.6 98.3h0M303.4 118.7h0M282.7 126.7h0M220.7 162.0h0M284.5 131.5h0M214.9 182.6h0M305.8 113.4h0M225.6 170.1h0M139.9 239.2h0M126.7 250.4h0M308.8 112.6h0M179.4 213.5h0M163.2 225.1h0M327.8 85.5h0M103.2 267.8h0M263.3 135.8h0M207.7 186.6h0M305.1 103.6h0M304.5 111.2h0M196.0 196.0h0M228.5 173.5h0M229.0 172.4h0M100.3 267.6h0M356.4 64.0h0M169.6 224.9h0M215.1 182.4h0M301.3 111.5h0M245.8 149.7h0M330.6 90.8h0M106.0 263.9h0M262.4 151.8h0M150.6 237.4h0M303.2 111.6h0M165.3 223.7h0M297.1 130.8h0M109.0 264.5h0M268.5 135.8h0M260.7 134.9h0M316.2 109.5h0M298.6 107.8h0M210.0 188.2h0M156.0 221.2h0M204.5 192.5h0M316.1 91.8h0M325.6 106.8h0M265.2 146.5h0M294.9 112.4h0M99.0 270.1h0M100.9 267.9h0M191.3 197.3h0M279.6 131.2h0M244.7 163.2h0M320.0 93.7h0M259.1 144.1h0M178.7 202.7h0M203.0 205.6h0M133.9 239.0h0M147.2 239.2h0M192.8 201.0h0M311.4 103.8h0M336.3 83.8h0M132.3 238.7h0M203.4 185.9h0M257.2 143.9h0M337.0 91.0h0M220.0 175.1h0M279.4 123.1h0M208.5 179.0h0M221.2 176.8h0M299.9 114.3h0M288.2 123.9h0M270.7 142.5h0M226.9 172.5h0M318.7 86.7h0M329.6 85.7h0M228.3 183.1h0M169.6 223.6h0M193.6 200.1h0M289.8 123.6h0M130.5 252.1h0M308.1 99.1h0M355.9 65.0h0M114.8 255.3h0M269.8 129.0h0M279.9 130.8h0M303.0 99.8h0M310.8 107.6h0M307.8 106.0h0M283.9 127.3h0M114.0 263.7h0M281.6 137.3h0M263.4 136.1h0M129.2 246.1h0M200.5 199.3h0M390.4 45.8h0M352.0 67.0h0M234.2 162.5h0M330.2 87.4h0M199.5 199.3h0M123.0 249.9h0M185.0 213.5h0M249.0 152.8h0M161.0 224.7h0M168.1 226.3h0M151.4 231.0h0M276.6 127.7h0M108.4 266.9h0M101.9 272.5h0M243.4 163.6h0M191.9 212.0h0M362.5 69.4h0M335.1 83.1h0M118.5 258.6h0M197.1 195.7h0M186.1 204.7h0M215.6 177.5h0M133.3 240.4h0M198.1 193.3h0M300.9 115.7h0M215.0 174.8h0M214.8 187.7h0M259.5 142.8h0M310.6 92.9h0M245.8 158.8h0M272.4 135.5h0M157.0 234.4h0M125.4 252.6h0M152.7 233.8h0M265.1 141.6h0M232.9 160.9h0M178.2 207.6h0M137.8 245.7h0M184.4 205.8h0M208.8 184.2h0M210.8 174.3h0M220.8 170.2h0M181.0 215.0h0M138.7 249.7h0M303.3 116.6h0M335.9 79.8h0M153.2 228.0h0M238.0 163.6h0M291.4 122.1h0M344.5 80.5h0M241.9 161.4h0M309.1 106.7h0M221.8 176.8h0M192.0 194.5h0M177.6 218.6h0M270.3 126.6h0M211.7 181.8h0M242.8 155.7h0M284.7 118.5h0M272.9 121.4h0M288.3 113.5h0M165.3 227.1h0M202.9 182.7h0M237.3 161.5h0M337.5 80.5h0M180.3 218.2h0M344.5 75.3h0M204.6 187.4h0M131.9 247.1h0M240.0 167.8h0M361.9 72.7h0M202.8 192.6h0M196.9 192.9h0M279.8 123.8h0M144.2 232.6h0M235.2 168.1h0M172.4 206.1h0M328.5 99.6h0M306.3 122.6h0M317.3 102.7h0M256.1 147.7h0M272.5 137.6h0M154.5 232.3h0M310.2 99.2h0M211.9 180.7h0M257.0 148.0h0M301.2 116.8h0M316.9 92.6h0M308.3 123.6h0M213.9 177.5h0M249.6 144.1h0M205.3 192.2h0M209.8 186.8h0M330.1 84.0h0M229.3 168.5h0M256.6 142.5h0M280.9 142.5h0M354.5 69.5h0M195.3 200.0h0M176.8 216.7h0M193.9 195.7h0M105.0 269.9h0M351.4 90.8h0M265.4 151.0h0M166.6 213.6h0M313.5 110.1h0M318.4 97.4h0M217.1 187.6h0M264.0 140.8h0M236.3 170.6h0M166.6 227.4h0M295.8 120.4h0M192.0 201.4h0M287.3 126.6h0M252.3 166.6h0M161.6 230.9h0M233.6 147.6h0M285.5 117.8h0M165.4 204.2h0M342.3 86.9h0M254.1 152.0h0M316.9 104.2h0M262.5 134.2h0M344.9 77.4h0M106.4 261.8h0M222.3 172.6h0M119.2 254.2h0M265.2 149.0h0M348.1 68.5h0M227.5 175.4h0M206.7 182.4h0M165.0 225.4h0M317.4 97.4h0M289.2 97.4h0M318.3 98.8h0M99.3 284.9h0M190.0 213.0h0M275.7 126.8h0M242.4 150.6h0M307.7 100.0h0M225.4 174.3h0M242.2 165.6h0M351.2 70.0h0M223.1 180.8h0M322.3 75.3h0M153.4 223.8h0M222.8 172.3h0M166.3 212.6h0M208.7 187.0h0M106.7 255.2h0M124.2 250.8h0M298.8 106.8h0M326.0 93.4h0M296.3 107.4h0M152.9 232.0h0M156.2 235.0h0M303.3 112.1h0M227.5 165.1h0M186.7 198.3h0M270.4 125.3h0M282.1 128.0h0M90.5 277.4h0M356.2 70.2h0M272.3 123.6h0M312.0 104.5h0M248.7 167.7h0M227.1 180.6h0M362.5 52.4h0M299.2 119.4h0M215.0 165.9h0M258.4 146.7h0M287.9 122.7h0M351.2 90.7h0M168.6 218.6h0M297.9 110.7h0M187.8 209.6h0M301.9 118.5h0M215.7 209.2h0M178.7 210.1h0M254.0 166.3h0M274.7 137.2h0M332.6 117.2h0M186.3 209.8h0M207.5 193.5h0M98.4 280.9h0M320.0 95.7h0M288.0 131.0h0M363.5 59.0h0M275.1 125.1h0M253.4 142.8h0M304.4 98.6h0M137.0 247.3h0M246.7 168.3h0M210.7 188.9h0M303.8 109.9h0M171.2 219.9h0M283.2 128.6h0M245.9 157.4h0M332.9 77.4h0M365.9 65.3h0M323.9 82.6h0M180.0 207.4h0M223.0 171.4h0M243.6 164.0h0M124.9 251.0h0M223.5 168.7h0M250.5 134.1h0M176.8 206.8h0M220.0 192.9h0M288.3 128.2h0M110.7 263.6h0M352.1 89.6h0M312.9 110.6h0M255.5 140.1h0M205.8 195.0h0M188.0 192.2h0M181.7 217.4h0M211.0 173.0h0M347.1 72.8h0M223.8 176.5h0M170.8 201.9h0M297.6 116.8h0M102.0 268.7h0M123.7 246.3h0M314.4 110.7h0M279.7 130.3h0M266.6 143.7h0M171.5 215.6h0M301.5 97.6h0M177.8 190.8h0M140.8 232.5h0M331.8 105.8h0M283.7 113.7h0M286.0 131.7h0M287.0 120.1h0M291.7 112.3h0M151.5 236.4h0M156.5 213.4h0M317.5 110.7h0M258.6 139.7h0M288.3 122.2h0M378.7 60.6h0M238.9 158.3h0M359.2 89.1h0M364.6 58.2h0M263.4 151.0h0M296.8 125.8h0M295.0 110.1h0M200.3 190.4h0M163.4 210.0h0M287.2 134.4h0M208.9 189.7h0M236.6 147.9h0M153.6 223.5h0M214.5 174.6h0M311.7 91.4h0M258.0 161.2h0M269.7 146.5h0M330.6 87.9h0M354.8 78.7h0M168.9 203.7h0M357.4 75.3h0M328.5 77.6h0M301.5 82.5h0M251.3 163.3h0M105.5 266.1h0M202.2 191.4h0M216.2 176.8h0M305.6 85.4h0M339.8 99.8h0M132.5 254.7h0M211.2 183.2h0M145.4 234.6h0M170.9 216.6h0M268.5 168.6h0M270.7 136.1h0M236.1 167.0h0M103.8 267.5h0M328.0 94.8h0M249.4 136.7h0M359.8 64.5h0M278.8 116.1h0M100.9 268.6h0M241.1 164.4h0M374.7 54.7h0M156.8 241.1h0M267.1 141.6h0M113.2 255.6h0M202.3 166.4h0M368.3 68.9h0M128.9 247.0h0M134.8 234.6h0M315.2 116.2h0M256.0 141.8h0M176.7 207.1h0M150.2 245.1h0M345.3 87.3h0M292.0 125.4h0M135.9 253.0h0M287.8 120.0h0M279.3 108.9h0M112.8 251.3h0M333.3 72.2h0M267.6 139.6h0M269.7 150.2h0M295.2 121.1h0M118.7 261.9h0M332.3 92.1h0M118.1 257.6h0M314.4 101.8h0M263.8 155.3h0M303.6 112.5h0M284.6 113.7h0M254.7 159.4h0M212.6 183.3h0M384.4 40.2h0M246.1 126.8h0M177.7 215.3h0M118.7 251.2h0M358.1 71.9h0M285.1 129.1h0M338.4 88.5h0M260.8 133.1h0M221.0 186.5h0M242.0 164.0h0M247.3 163.7h0M272.8 151.8h0M260.9 153.7h0M181.1 208.5h0M200.9 186.2h0M353.5 63.1h0M136.0 240.8h0M305.2 116.8h0M154.5 220.9h0M235.1 169.2h0M300.6 109.4h0M285.5 110.0h0M273.1 129.1h0M300.1 115.6h0M227.4 168.0h0M289.2 132.1h0M135.6 230.8h0M279.8 139.7h0M363.1 69.7h0M128.0 254.7h0M197.4 200.7h0M321.0 104.8h0M280.5 137.8h0M300.5 89.2h0M200.3 197.7h0M285.6 134.1h0M258.6 143.4h0M168.9 222.1h0M180.0 226.8h0M339.1 64.5h0M370.4 51.3h0M176.2 216.9h0M351.6 76.3h0M333.3 91.2h0M246.1 133.6h0M273.0 138.3h0M206.0 200.3h0" stroke="#1F74D4" stroke-width="3.4" stroke-linecap="round" fill="none"/><line x1="89.3" y1="276.4" x2="385.7" y2="48.7" stroke="#FFFF00" stroke-width="2.5"/><line x1="89.5" y1="278.0" x2="390.9" y2="43.6" stroke="#000" stroke-width="3.3" stroke-dasharray="5.75 5.9" stroke-dashoffset="9.55" stroke-linecap="round"/><rect x="68.5" y="14.6" width="343" height="281.9" fill="none" stroke="#555" stroke-width="1.2"/><g style="font-family:'Liberation Serif',serif;font-weight:bold;font-size:12px;fill:#000;stroke:#000;stroke-width:0.25px"><text x="55.6" y="18.9" text-anchor="end" textLength="31.1" lengthAdjust="spacingAndGlyphs">15,500</text><text x="55.6" y="66.1" text-anchor="end" textLength="31.4" lengthAdjust="spacingAndGlyphs">13,500</text><text x="55.6" y="113.1" text-anchor="end" textLength="31.0" lengthAdjust="spacingAndGlyphs">11,500</text><text x="55.6" y="160.1" text-anchor="end">9500</text><text x="55.6" y="207.1" text-anchor="end">7500</text><text x="55.6" y="253.6" text-anchor="end">5500</text><text x="55.6" y="300.4" text-anchor="end">3500</text><text x="76.5" y="317.4" text-anchor="middle">3500</text><text x="137.1" y="317.4" text-anchor="middle">5500</text><text x="194.7" y="317.4" text-anchor="middle">7500</text><text x="254.8" y="317.4" text-anchor="middle">9500</text><text x="317.5" y="317.4" text-anchor="middle" textLength="34.5" lengthAdjust="spacingAndGlyphs">11,500</text><text x="377.9" y="317.4" text-anchor="middle" textLength="34.5" lengthAdjust="spacingAndGlyphs">13,500</text><text x="240" y="334" text-anchor="middle" textLength="146.3" lengthAdjust="spacingAndGlyphs">Measured Peak Load (MW)</text><g transform="translate(18.8 155.3) rotate(-90)"><text x="0" y="0" text-anchor="middle" textLength="144.0" lengthAdjust="spacingAndGlyphs">Predicted Peak Load (MW)</text></g></g><circle cx="436.6" cy="147.2" r="1.6" fill="#F2074F"/><circle cx="436.6" cy="165.1" r="1.6" fill="#1F74D4"/><line x1="432" y1="182.2" x2="441" y2="182.2" stroke="#FFFF00" stroke-width="2.8" stroke-linecap="round"/><line x1="432.4" y1="199.6" x2="437.8" y2="199.6" stroke="#000" stroke-width="2.7" stroke-linecap="round"/><g style="font-family:'Liberation Serif',serif;font-weight:bold;font-size:12px;fill:#000;stroke:#000;stroke-width:0.25px"><text x="442.3" y="151" text-anchor="start" textLength="20.8" lengthAdjust="spacingAndGlyphs">HW</text><text x="442.3" y="169" text-anchor="start" textLength="43.0" lengthAdjust="spacingAndGlyphs">Prophet</text><text x="442.3" y="186.6" text-anchor="start" textLength="76.6" lengthAdjust="spacingAndGlyphs">HW trend line</text><text x="442.3" y="204.6" text-anchor="start" textLength="97.2" lengthAdjust="spacingAndGlyphs">Prophet trend line</text></g>
</svg>
</body></html>
